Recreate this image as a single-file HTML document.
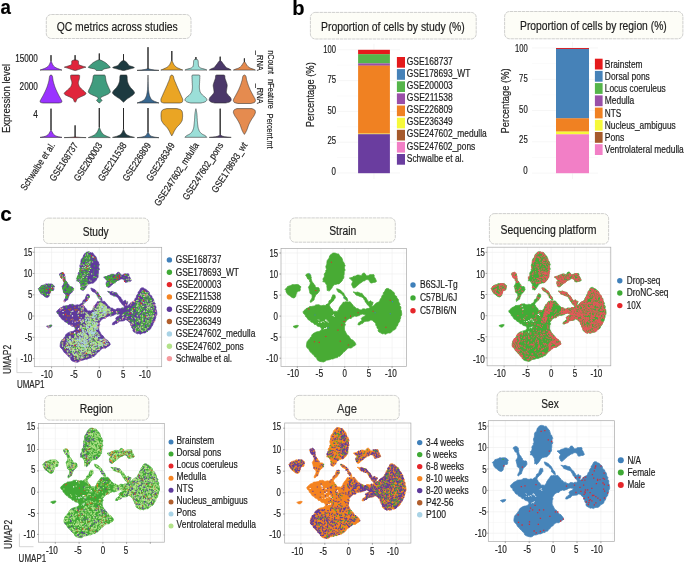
<!DOCTYPE html>
<html lang="en"><head><meta charset="utf-8"><title>Figure</title>
<style>
html,body{margin:0;padding:0;background:#fff;}
body{width:685px;height:563px;overflow:hidden;}
svg{display:block;font-family:'Liberation Sans', Arial, sans-serif;fill:#1a1a1a;}
svg text{stroke:#222;stroke-width:.18px;}
</style></head><body>
<svg width="685" height="563" viewBox="0 0 685 563">
<rect width="685" height="563" fill="#fff"/>
<text x="0.4" y="14.2" font-size="21" textLength="10.4" lengthAdjust="spacingAndGlyphs" font-weight="bold" fill="#000">a</text>
<text x="292.3" y="15.2" font-size="21" textLength="12.3" lengthAdjust="spacingAndGlyphs" font-weight="bold" fill="#000">b</text>
<text x="0.3" y="221" font-size="21" textLength="11.5" lengthAdjust="spacingAndGlyphs" font-weight="bold" fill="#000">c</text>
<rect x="46.3" y="14.5" width="144.7" height="24" rx="5" fill="#fdfdf7" stroke="#a8a8a8" stroke-width="0.55" stroke-dasharray="3.4 0.7"/>
<text x="117.2" y="31.1" font-size="12.3" text-anchor="middle" textLength="121" lengthAdjust="spacingAndGlyphs">QC metrics across studies</text>
<text x="10.1" y="98.5" font-size="11" text-anchor="middle" textLength="69" lengthAdjust="spacingAndGlyphs" transform="rotate(-90 10.1 98.5)">Expression level</text>
<text x="37.8" y="62" font-size="10" text-anchor="end" textLength="22.6" lengthAdjust="spacingAndGlyphs">15000</text>
<text x="37.8" y="90.1" font-size="10" text-anchor="end" textLength="18.2" lengthAdjust="spacingAndGlyphs">2000</text>
<text x="37.8" y="117.9" font-size="10" text-anchor="end" textLength="4.6" lengthAdjust="spacingAndGlyphs">4</text>
<g stroke="#262626" stroke-width="0.55" stroke-linejoin="round">
<path d="M51 55.2 51 55.6 51 56 51 56.4 51 56.8 51 57.2 51 57.6 51 58 51 58.4 51 58.8 51 59.2 51 59.6 51 60 50.9 60.4 50.9 60.8 50.7 61.2 50.6 61.6 50.4 62 50.3 62.4 50.1 62.8 49.9 63.2 49.8 63.6 49.6 64 49.4 64.4 49.2 64.8 49 65.2 48.7 65.6 48.4 66 48 66.4 47.5 66.8 47 67.2 46.3 67.6 45.5 68 44.6 68.4 43.5 68.8 42.5 69.2 41.4 69.6 40.3 70 40 70.1 62 70.1 61.7 70 60.6 69.6 59.5 69.2 58.5 68.8 57.4 68.4 56.5 68 55.7 67.6 55 67.2 54.5 66.8 54 66.4 53.6 66 53.3 65.6 53 65.2 52.8 64.8 52.6 64.4 52.4 64 52.2 63.6 52.1 63.2 51.9 62.8 51.7 62.4 51.6 62 51.4 61.6 51.3 61.2 51.1 60.8 51.1 60.4 51 60 51 59.6 51 59.2 51 58.8 51 58.4 51 58 51 57.6 51 57.2 51 56.8 51 56.4 51 56 51 55.6 51 55.2Z" fill="#9a33ff"/>
<path d="M51 55.2V60.8" stroke-width="0.95" fill="none"/>
<path d="M75.1 55.2 75.1 55.6 75.1 56 75.1 56.4 75.1 56.8 75.1 57.2 75.1 57.6 75.1 58 75.1 58.4 75.1 58.8 75.1 59.2 75.1 59.6 74 60 72.7 60.4 71.9 60.8 71.8 61.2 71.7 61.6 71.7 62 71.7 62.4 71.7 62.8 71.7 63.2 71.7 63.6 71.6 64 71.5 64.4 71 64.8 70.3 65.2 69.3 65.6 68.1 66 66.7 66.4 65.2 66.8 64.3 67.2 65.9 67.6 67.3 68 68.6 68.4 69.6 68.8 70.6 69.2 71.8 69.6 73.1 70 74.4 70.4 75.1 70.6 75.1 70.6 75.8 70.4 77.1 70 78.4 69.6 79.6 69.2 80.6 68.8 81.6 68.4 82.9 68 84.3 67.6 85.9 67.2 85 66.8 83.5 66.4 82.1 66 80.9 65.6 79.9 65.2 79.2 64.8 78.7 64.4 78.6 64 78.5 63.6 78.5 63.2 78.5 62.8 78.5 62.4 78.5 62 78.5 61.6 78.4 61.2 78.3 60.8 77.5 60.4 76.2 60 75.1 59.6 75.1 59.2 75.1 58.8 75.1 58.4 75.1 58 75.1 57.6 75.1 57.2 75.1 56.8 75.1 56.4 75.1 56 75.1 55.6 75.1 55.2Z" fill="#e0263c"/>
<path d="M75.1 55.2V60.4" stroke-width="0.95" fill="none"/>
<path d="M99.3 53.5 99.3 53.9 99.3 54.3 99.3 54.7 99.3 55.1 99.3 55.5 99.3 55.9 99.3 56.3 99.3 56.7 99.3 57.1 99.3 57.5 99.3 57.9 99.3 58.3 99.3 58.7 99.3 59.1 99.2 59.5 98.5 59.9 97.5 60.3 96.6 60.7 95.9 61.1 95.1 61.5 94.4 61.9 93.7 62.3 93.1 62.7 92.6 63.1 92.1 63.5 91.6 63.9 91.2 64.3 90.8 64.7 90.4 65.1 90 65.5 89.6 65.9 89.2 66.3 88.7 66.7 88.4 67.1 88.4 67.5 89.6 67.9 91.2 68.3 93.5 68.7 94.8 69.1 95.4 69.5 95.8 69.9 96.2 70.3 96.3 70.5 102.3 70.5 102.4 70.3 102.8 69.9 103.2 69.5 103.8 69.1 105.1 68.7 107.4 68.3 109 67.9 110.2 67.5 110.2 67.1 109.9 66.7 109.4 66.3 109 65.9 108.6 65.5 108.2 65.1 107.8 64.7 107.4 64.3 107 63.9 106.5 63.5 106 63.1 105.5 62.7 104.9 62.3 104.2 61.9 103.5 61.5 102.7 61.1 102 60.7 101.1 60.3 100.1 59.9 99.4 59.5 99.3 59.1 99.3 58.7 99.3 58.3 99.3 57.9 99.3 57.5 99.3 57.1 99.3 56.7 99.3 56.3 99.3 55.9 99.3 55.5 99.3 55.1 99.3 54.7 99.3 54.3 99.3 53.9 99.3 53.5Z" fill="#409c7e"/>
<path d="M99.3 53.5V60.1" stroke-width="0.95" fill="none"/>
<path d="M123.5 54.2 123.5 54.6 123.5 55 123.5 55.4 123.5 55.8 123.5 56.2 123.5 56.6 123.5 57 123.5 57.4 123.5 57.8 123.5 58.2 123.5 58.6 123.5 59 123.5 59.4 123.5 59.8 123.5 60.2 123.1 60.6 122.2 61 121.3 61.4 120.9 61.8 120.5 62.2 120.2 62.6 119.9 63 119.5 63.4 119.2 63.8 118.9 64.2 118.7 64.6 118.4 65 118 65.4 117.3 65.8 116 66.2 114.7 66.6 113.6 67 112.7 67.4 112.8 67.8 114.2 68.2 115.6 68.6 117.3 69 118.8 69.4 120.3 69.8 121.8 70.2 122.5 70.4 124.5 70.4 125.2 70.2 126.7 69.8 128.2 69.4 129.7 69 131.4 68.6 132.8 68.2 134.2 67.8 134.3 67.4 133.4 67 132.3 66.6 131 66.2 129.7 65.8 129 65.4 128.6 65 128.3 64.6 128.1 64.2 127.8 63.8 127.5 63.4 127.1 63 126.8 62.6 126.5 62.2 126.1 61.8 125.7 61.4 124.8 61 123.9 60.6 123.5 60.2 123.5 59.8 123.5 59.4 123.5 59 123.5 58.6 123.5 58.2 123.5 57.8 123.5 57.4 123.5 57 123.5 56.6 123.5 56.2 123.5 55.8 123.5 55.4 123.5 55 123.5 54.6 123.5 54.2Z" fill="#1d3a40"/>
<path d="M123.5 54.2V61" stroke-width="0.95" fill="none"/>
<path d="M148 47.2 148 47.6 148 48 148 48.4 148 48.8 148 49.2 148 49.6 148 50 148 50.4 148 50.8 148 51.2 148 51.6 148 52 148 52.4 148 52.8 148 53.2 148 53.6 148 54 148 54.4 148 54.8 148 55.2 148 55.6 148 56 148 56.4 148 56.8 148 57.2 148 57.6 148 58 148 58.4 148 58.8 148 59.2 148 59.6 148 60 148 60.4 148 60.8 148 61.2 148 61.6 148 62 148 62.4 148 62.8 148 63.2 148 63.6 148 64 148 64.4 148 64.8 148 65.2 148 65.6 148 66 148 66.4 148 66.8 148 67.2 148 67.6 148 68 147.9 68.4 147.2 68.8 146.1 69.2 144.2 69.6 141.4 70 137 70.4 159 70.4 154.6 70 151.8 69.6 149.9 69.2 148.8 68.8 148.1 68.4 148 68 148 67.6 148 67.2 148 66.8 148 66.4 148 66 148 65.6 148 65.2 148 64.8 148 64.4 148 64 148 63.6 148 63.2 148 62.8 148 62.4 148 62 148 61.6 148 61.2 148 60.8 148 60.4 148 60 148 59.6 148 59.2 148 58.8 148 58.4 148 58 148 57.6 148 57.2 148 56.8 148 56.4 148 56 148 55.6 148 55.2 148 54.8 148 54.4 148 54 148 53.6 148 53.2 148 52.8 148 52.4 148 52 148 51.6 148 51.2 148 50.8 148 50.4 148 50 148 49.6 148 49.2 148 48.8 148 48.4 148 48 148 47.6 148 47.2Z" fill="#38678f"/>
<path d="M148 47.2V69.1" stroke-width="0.95" fill="none"/>
<path d="M171.8 51 171.8 51.4 171.8 51.8 171.8 52.2 171.8 52.6 171.8 53 171.8 53.4 171.8 53.8 171.8 54.2 171.8 54.6 171.8 55 171.8 55.4 171.8 55.8 171.8 56.2 171.8 56.6 171.8 57 171.8 57.4 171.8 57.8 171.8 58.2 171.8 58.6 171.8 59 171.8 59.4 171.8 59.8 171.8 60.2 171.6 60.6 171.4 61 171.2 61.4 171 61.8 170.8 62.2 170.7 62.6 170.5 63 170.3 63.4 170.1 63.8 169.9 64.2 169.7 64.6 169.4 65 169.1 65.4 168.7 65.8 168.4 66.2 167.9 66.6 167.4 67 166.8 67.4 166.1 67.8 165.2 68.2 164.2 68.6 163.4 69 162.5 69.4 161.5 69.8 160.8 70.1 182.8 70.1 182.1 69.8 181.1 69.4 180.2 69 179.4 68.6 178.4 68.2 177.5 67.8 176.8 67.4 176.2 67 175.7 66.6 175.2 66.2 174.9 65.8 174.5 65.4 174.2 65 173.9 64.6 173.7 64.2 173.5 63.8 173.3 63.4 173.1 63 172.9 62.6 172.8 62.2 172.6 61.8 172.4 61.4 172.2 61 172 60.6 171.8 60.2 171.8 59.8 171.8 59.4 171.8 59 171.8 58.6 171.8 58.2 171.8 57.8 171.8 57.4 171.8 57 171.8 56.6 171.8 56.2 171.8 55.8 171.8 55.4 171.8 55 171.8 54.6 171.8 54.2 171.8 53.8 171.8 53.4 171.8 53 171.8 52.6 171.8 52.2 171.8 51.8 171.8 51.4 171.8 51Z" fill="#eaa524"/>
<path d="M171.8 51V60.8" stroke-width="0.95" fill="none"/>
<path d="M195.9 57 195.9 57.4 195.9 57.8 195.9 58.2 195.9 58.6 195.9 59 194.6 59.4 194.1 59.8 193.9 60.2 193.8 60.6 193.7 61 193.6 61.4 193.6 61.8 193.6 62.2 193.5 62.6 193.5 63 193.5 63.4 193.5 63.8 193.5 64.2 193.4 64.6 193.4 65 193.3 65.4 193.2 65.8 193.1 66.2 192.9 66.6 192.6 67 192.1 67.4 191.5 67.8 190.7 68.2 189.2 68.6 187.6 69 186.4 69.4 185.4 69.8 184.9 70.1 206.9 70.1 206.4 69.8 205.4 69.4 204.2 69 202.6 68.6 201.1 68.2 200.3 67.8 199.7 67.4 199.2 67 198.9 66.6 198.7 66.2 198.6 65.8 198.5 65.4 198.4 65 198.4 64.6 198.3 64.2 198.3 63.8 198.3 63.4 198.3 63 198.3 62.6 198.2 62.2 198.2 61.8 198.2 61.4 198.1 61 198 60.6 197.9 60.2 197.7 59.8 197.2 59.4 195.9 59 195.9 58.6 195.9 58.2 195.9 57.8 195.9 57.4 195.9 57Z" fill="#9bdfd8"/>
<path d="M195.9 57V59.8" stroke-width="0.95" fill="none"/>
<path d="M220.2 56.7 220.2 57.1 220.2 57.5 220.2 57.9 220.2 58.3 220.2 58.7 220.2 59.1 220.2 59.5 220.2 59.9 220.1 60.3 219.7 60.7 219.2 61.1 218.8 61.5 218.5 61.9 218.2 62.3 217.9 62.7 217.6 63.1 217.4 63.5 217 63.9 216.7 64.3 216.4 64.7 216.1 65.1 215.8 65.5 215.4 65.9 215.1 66.3 214.9 66.7 214.6 67.1 214.2 67.5 213.5 67.9 212.4 68.3 211.4 68.7 210.7 69.1 210 69.5 209.4 69.9 209.2 70.1 231.2 70.1 231 69.9 230.4 69.5 229.7 69.1 229 68.7 228 68.3 226.9 67.9 226.2 67.5 225.8 67.1 225.5 66.7 225.3 66.3 225 65.9 224.6 65.5 224.3 65.1 224 64.7 223.7 64.3 223.4 63.9 223 63.5 222.8 63.1 222.5 62.7 222.2 62.3 221.9 61.9 221.6 61.5 221.2 61.1 220.7 60.7 220.3 60.3 220.2 59.9 220.2 59.5 220.2 59.1 220.2 58.7 220.2 58.3 220.2 57.9 220.2 57.5 220.2 57.1 220.2 56.7Z" fill="#4b3869"/>
<path d="M220.2 56.7V60.8" stroke-width="0.95" fill="none"/>
<path d="M244.4 58.4 244.4 58.8 244.4 59.2 244.4 59.6 244.4 60 244.4 60.4 244.4 60.8 244.4 61.2 244.3 61.6 244 62 243.7 62.4 243.4 62.8 243.2 63.2 242.9 63.6 242.7 64 242.4 64.4 242.2 64.8 241.9 65.2 241.6 65.6 241.3 66 240.9 66.4 240.4 66.8 240 67.2 239.4 67.6 238.7 68 237.7 68.4 236.4 68.8 235.4 69.2 234.5 69.6 233.6 70 233.4 70.1 255.4 70.1 255.2 70 254.3 69.6 253.4 69.2 252.4 68.8 251.1 68.4 250.1 68 249.4 67.6 248.8 67.2 248.4 66.8 247.9 66.4 247.5 66 247.2 65.6 246.9 65.2 246.6 64.8 246.4 64.4 246.1 64 245.9 63.6 245.6 63.2 245.4 62.8 245.1 62.4 244.8 62 244.5 61.6 244.4 61.2 244.4 60.8 244.4 60.4 244.4 60 244.4 59.6 244.4 59.2 244.4 58.8 244.4 58.4Z" fill="#e58b4f"/>
<path d="M244.4 58.4V62.1" stroke-width="0.95" fill="none"/>
<path d="M51 75 50 75.4 49.8 75.8 49.6 76.2 49.5 76.6 49.4 77 49.4 77.4 49.3 77.8 49.3 78.2 49.2 78.6 49.2 79 49.1 79.4 49 79.8 49 80.2 48.9 80.6 48.8 81 48.7 81.4 48.6 81.8 48.5 82.2 48.4 82.6 48.3 83 48.2 83.4 48.1 83.8 47.9 84.2 47.8 84.6 47.7 85 47.6 85.4 47.4 85.8 47.3 86.2 47.2 86.6 47 87 46.9 87.4 46.7 87.8 46.5 88.2 46.4 88.6 46.2 89 46.1 89.4 45.9 89.8 45.7 90.2 45.5 90.6 45.4 91 45.2 91.4 45 91.8 44.8 92.2 44.6 92.6 44.4 93 44.2 93.4 44 93.8 43.8 94.2 43.6 94.6 43.4 95 43.2 95.4 43 95.8 42.8 96.2 42.5 96.6 42.3 97 42.1 97.4 41.8 97.8 41.6 98.2 41.4 98.6 41.2 99 41 99.4 40.7 99.8 40.5 100.2 40.3 100.6 40.1 101 40.1 101.4 40.2 101.8 40.3 102.2 40.9 102.6 43 103 59 103 61.1 102.6 61.7 102.2 61.8 101.8 61.9 101.4 61.9 101 61.7 100.6 61.5 100.2 61.3 99.8 61 99.4 60.8 99 60.6 98.6 60.4 98.2 60.2 97.8 59.9 97.4 59.7 97 59.5 96.6 59.2 96.2 59 95.8 58.8 95.4 58.6 95 58.4 94.6 58.2 94.2 58 93.8 57.8 93.4 57.6 93 57.4 92.6 57.2 92.2 57 91.8 56.8 91.4 56.6 91 56.5 90.6 56.3 90.2 56.1 89.8 55.9 89.4 55.8 89 55.6 88.6 55.5 88.2 55.3 87.8 55.1 87.4 55 87 54.8 86.6 54.7 86.2 54.6 85.8 54.4 85.4 54.3 85 54.2 84.6 54.1 84.2 53.9 83.8 53.8 83.4 53.7 83 53.6 82.6 53.5 82.2 53.4 81.8 53.3 81.4 53.2 81 53.1 80.6 53 80.2 53 79.8 52.9 79.4 52.8 79 52.8 78.6 52.7 78.2 52.7 77.8 52.6 77.4 52.6 77 52.5 76.6 52.4 76.2 52.2 75.8 52 75.4 51 75Z" fill="#9a33ff"/>
<path d="M71.6 75 70.6 75.4 70.5 75.8 70.5 76.2 70.6 76.6 70.6 77 70.6 77.4 70.7 77.8 70.7 78.2 70.8 78.6 70.9 79 71 79.4 71.1 79.8 71.3 80.2 71.4 80.6 71.6 81 71.7 81.4 71.8 81.8 71.8 82.2 71.9 82.6 71.9 83 71.9 83.4 71.8 83.8 71.7 84.2 71.6 84.6 71.5 85 71.3 85.4 71.2 85.8 71 86.2 70.8 86.6 70.5 87 70.2 87.4 69.8 87.8 69.4 88.2 69 88.6 68.6 89 68.2 89.4 67.7 89.8 67.3 90.2 66.8 90.6 66.3 91 65.9 91.4 65.5 91.8 65 92.2 64.6 92.6 64.3 93 64.2 93.4 64.3 93.8 64.6 94.2 64.9 94.6 65.5 95 66.3 95.4 67.2 95.8 68 96.2 69 96.6 69.9 97 70.7 97.4 71.5 97.8 72.2 98.2 72.7 98.6 73.1 99 73.4 99.4 73.6 99.8 73.7 100.2 73.9 100.6 74 101 74.2 101.4 74.5 101.8 74.9 102.2 75.1 102.3 75.1 102.3 75.3 102.2 75.7 101.8 76 101.4 76.2 101 76.3 100.6 76.5 100.2 76.6 99.8 76.8 99.4 77.1 99 77.5 98.6 78 98.2 78.7 97.8 79.5 97.4 80.3 97 81.2 96.6 82.2 96.2 83 95.8 83.9 95.4 84.7 95 85.3 94.6 85.6 94.2 85.9 93.8 86 93.4 85.9 93 85.6 92.6 85.2 92.2 84.7 91.8 84.3 91.4 83.9 91 83.4 90.6 82.9 90.2 82.5 89.8 82 89.4 81.6 89 81.2 88.6 80.8 88.2 80.4 87.8 80 87.4 79.7 87 79.4 86.6 79.2 86.2 79 85.8 78.9 85.4 78.7 85 78.6 84.6 78.5 84.2 78.4 83.8 78.3 83.4 78.3 83 78.3 82.6 78.4 82.2 78.4 81.8 78.5 81.4 78.6 81 78.8 80.6 78.9 80.2 79.1 79.8 79.2 79.4 79.3 79 79.4 78.6 79.5 78.2 79.5 77.8 79.6 77.4 79.6 77 79.6 76.6 79.7 76.2 79.7 75.8 79.6 75.4 78.6 75Z" fill="#e0263c"/>
<path d="M94.3 75 93.6 75.4 93.3 75.8 93.2 76.2 93.2 76.6 93.1 77 93.1 77.4 93 77.8 93 78.2 92.9 78.6 92.9 79 92.8 79.4 92.7 79.8 92.7 80.2 92.6 80.6 92.5 81 92.4 81.4 92.3 81.8 92.2 82.2 92 82.6 91.9 83 91.7 83.4 91.6 83.8 91.4 84.2 91.3 84.6 91.1 85 90.9 85.4 90.7 85.8 90.6 86.2 90.4 86.6 90.2 87 90 87.4 89.9 87.8 89.7 88.2 89.5 88.6 89.2 89 89 89.4 88.9 89.8 88.7 90.2 88.6 90.6 88.4 91 88.3 91.4 88.3 91.8 88.4 92.2 88.7 92.6 89.1 93 89.5 93.4 90.1 93.8 90.8 94.2 91.6 94.6 92.5 95 93.4 95.4 94.4 95.8 95.3 96.2 96.1 96.6 97 97 97.6 97.4 97.9 97.8 98.1 98.2 98 98.6 97.7 99 97.4 99.4 97 99.8 96.7 100.2 96.6 100.6 97 101 97.4 101.4 97.9 101.8 98.3 102.2 98.7 102.6 99.1 103 99.3 103.2 99.3 103.2 99.5 103 99.9 102.6 100.3 102.2 100.7 101.8 101.2 101.4 101.6 101 102 100.6 101.9 100.2 101.6 99.8 101.2 99.4 100.9 99 100.6 98.6 100.5 98.2 100.7 97.8 101 97.4 101.6 97 102.5 96.6 103.3 96.2 104.2 95.8 105.2 95.4 106.1 95 107 94.6 107.8 94.2 108.5 93.8 109.1 93.4 109.5 93 109.9 92.6 110.2 92.2 110.3 91.8 110.3 91.4 110.2 91 110 90.6 109.9 90.2 109.7 89.8 109.6 89.4 109.4 89 109.1 88.6 108.9 88.2 108.7 87.8 108.6 87.4 108.4 87 108.2 86.6 108 86.2 107.9 85.8 107.7 85.4 107.5 85 107.3 84.6 107.2 84.2 107 83.8 106.9 83.4 106.7 83 106.6 82.6 106.4 82.2 106.3 81.8 106.2 81.4 106.1 81 106 80.6 105.9 80.2 105.9 79.8 105.8 79.4 105.7 79 105.7 78.6 105.6 78.2 105.6 77.8 105.5 77.4 105.5 77 105.4 76.6 105.4 76.2 105.3 75.8 105 75.4 104.3 75Z" fill="#409c7e"/>
<path d="M120.7 75 120.1 75.4 120 75.8 119.9 76.2 119.9 76.6 119.8 77 119.8 77.4 119.8 77.8 119.8 78.2 119.8 78.6 119.8 79 119.7 79.4 119.7 79.8 119.7 80.2 119.6 80.6 119.5 81 119.5 81.4 119.4 81.8 119.3 82.2 119.1 82.6 119 83 118.8 83.4 118.7 83.8 118.5 84.2 118.3 84.6 118.1 85 117.9 85.4 117.7 85.8 117.4 86.2 117.1 86.6 116.9 87 116.6 87.4 116.3 87.8 115.9 88.2 115.5 88.6 115.1 89 114.7 89.4 114.3 89.8 113.9 90.2 113.6 90.6 113.4 91 113.1 91.4 112.8 91.8 112.6 92.2 112.5 92.6 112.5 93 112.7 93.4 113 93.8 113.3 94.2 113.7 94.6 114.1 95 114.6 95.4 115.2 95.8 115.8 96.2 116.3 96.6 116.9 97 117.6 97.4 118.2 97.8 118.8 98.2 119.4 98.6 120 99 120.5 99.4 120.9 99.8 121.3 100.2 121.7 100.6 122.1 101 122.6 101.4 123 101.8 123.5 102.2 123.5 102.2 124 101.8 124.4 101.4 124.9 101 125.3 100.6 125.7 100.2 126.1 99.8 126.5 99.4 127 99 127.6 98.6 128.2 98.2 128.8 97.8 129.4 97.4 130.1 97 130.7 96.6 131.2 96.2 131.8 95.8 132.4 95.4 132.9 95 133.3 94.6 133.7 94.2 134 93.8 134.3 93.4 134.5 93 134.5 92.6 134.4 92.2 134.2 91.8 133.9 91.4 133.6 91 133.4 90.6 133.1 90.2 132.7 89.8 132.3 89.4 131.9 89 131.5 88.6 131.1 88.2 130.7 87.8 130.4 87.4 130.1 87 129.9 86.6 129.6 86.2 129.3 85.8 129.1 85.4 128.9 85 128.7 84.6 128.5 84.2 128.3 83.8 128.2 83.4 128 83 127.9 82.6 127.7 82.2 127.6 81.8 127.5 81.4 127.5 81 127.4 80.6 127.3 80.2 127.3 79.8 127.3 79.4 127.2 79 127.2 78.6 127.2 78.2 127.2 77.8 127.2 77.4 127.2 77 127.1 76.6 127.1 76.2 127 75.8 126.9 75.4 126.3 75Z" fill="#1d3a40"/>
<path d="M148 75 148 75.4 148 75.8 148 76.2 148 76.6 148 77 148 77.4 147.9 77.8 147.9 78.2 147.9 78.6 147.9 79 147.9 79.4 147.9 79.8 147.9 80.2 147.9 80.6 147.9 81 147.9 81.4 147.9 81.8 147.8 82.2 147.8 82.6 147.8 83 147.8 83.4 147.8 83.8 147.8 84.2 147.7 84.6 147.7 85 147.7 85.4 147.7 85.8 147.7 86.2 147.7 86.6 147.6 87 147.6 87.4 147.6 87.8 147.6 88.2 147.5 88.6 147.5 89 147.5 89.4 147.5 89.8 147.4 90.2 147.4 90.6 147.3 91 147.3 91.4 147.2 91.8 147.2 92.2 147.1 92.6 147 93 146.9 93.4 146.9 93.8 146.8 94.2 146.7 94.6 146.6 95 146.5 95.4 146.4 95.8 146.2 96.2 146.1 96.6 145.9 97 145.7 97.4 145.5 97.8 145.3 98.2 145.1 98.6 144.8 99 144.5 99.4 144.1 99.8 143.6 100.2 143 100.6 142.2 101 141.3 101.4 140.2 101.8 139.2 102.2 138.2 102.6 137 103 159 103 157.8 102.6 156.8 102.2 155.8 101.8 154.7 101.4 153.8 101 153 100.6 152.4 100.2 151.9 99.8 151.5 99.4 151.2 99 150.9 98.6 150.7 98.2 150.5 97.8 150.3 97.4 150.1 97 149.9 96.6 149.8 96.2 149.6 95.8 149.5 95.4 149.4 95 149.3 94.6 149.2 94.2 149.1 93.8 149.1 93.4 149 93 148.9 92.6 148.8 92.2 148.8 91.8 148.7 91.4 148.7 91 148.6 90.6 148.6 90.2 148.5 89.8 148.5 89.4 148.5 89 148.5 88.6 148.4 88.2 148.4 87.8 148.4 87.4 148.4 87 148.3 86.6 148.3 86.2 148.3 85.8 148.3 85.4 148.3 85 148.3 84.6 148.2 84.2 148.2 83.8 148.2 83.4 148.2 83 148.2 82.6 148.2 82.2 148.1 81.8 148.1 81.4 148.1 81 148.1 80.6 148.1 80.2 148.1 79.8 148.1 79.4 148.1 79 148.1 78.6 148.1 78.2 148.1 77.8 148 77.4 148 77 148 76.6 148 76.2 148 75.8 148 75.4 148 75Z" fill="#38678f"/>
<path d="M171.8 75 170.9 75.4 170.5 75.8 170.3 76.2 170.1 76.6 170 77 169.9 77.4 169.9 77.8 169.8 78.2 169.7 78.6 169.6 79 169.4 79.4 169.3 79.8 169.1 80.2 169 80.6 168.8 81 168.7 81.4 168.5 81.8 168.3 82.2 168.1 82.6 168 83 167.8 83.4 167.6 83.8 167.5 84.2 167.3 84.6 167.1 85 167 85.4 166.8 85.8 166.6 86.2 166.4 86.6 166.3 87 166.1 87.4 165.9 87.8 165.7 88.2 165.6 88.6 165.4 89 165.2 89.4 165 89.8 164.8 90.2 164.7 90.6 164.5 91 164.3 91.4 164.1 91.8 163.9 92.2 163.8 92.6 163.6 93 163.4 93.4 163.2 93.8 163.1 94.2 162.9 94.6 162.7 95 162.5 95.4 162.4 95.8 162.2 96.2 162 96.6 161.8 97 161.6 97.4 161.5 97.8 161.3 98.2 161.1 98.6 161 99 160.9 99.4 160.9 99.8 160.9 100.2 160.9 100.6 161 101 161.1 101.4 161.2 101.8 161.4 102.2 162.3 102.6 163.8 103 179.8 103 181.3 102.6 182.2 102.2 182.4 101.8 182.5 101.4 182.6 101 182.7 100.6 182.7 100.2 182.7 99.8 182.7 99.4 182.6 99 182.5 98.6 182.3 98.2 182.1 97.8 182 97.4 181.8 97 181.6 96.6 181.4 96.2 181.2 95.8 181.1 95.4 180.9 95 180.7 94.6 180.5 94.2 180.4 93.8 180.2 93.4 180 93 179.8 92.6 179.7 92.2 179.5 91.8 179.3 91.4 179.1 91 178.9 90.6 178.8 90.2 178.6 89.8 178.4 89.4 178.2 89 178 88.6 177.9 88.2 177.7 87.8 177.5 87.4 177.3 87 177.2 86.6 177 86.2 176.8 85.8 176.6 85.4 176.5 85 176.3 84.6 176.1 84.2 176 83.8 175.8 83.4 175.6 83 175.5 82.6 175.3 82.2 175.1 81.8 174.9 81.4 174.8 81 174.6 80.6 174.5 80.2 174.3 79.8 174.2 79.4 174 79 173.9 78.6 173.8 78.2 173.7 77.8 173.7 77.4 173.6 77 173.5 76.6 173.3 76.2 173.1 75.8 172.7 75.4 171.8 75Z" fill="#eaa524"/>
<path d="M192.9 75 192 75.4 191.9 75.8 191.9 76.2 191.9 76.6 191.9 77 192 77.4 192 77.8 192 78.2 192 78.6 192.1 79 192.1 79.4 192.1 79.8 192.1 80.2 192.1 80.6 192.2 81 192.2 81.4 192.2 81.8 192.2 82.2 192.2 82.6 192.3 83 192.3 83.4 192.3 83.8 192.3 84.2 192.3 84.6 192.4 85 192.4 85.4 192.4 85.8 192.4 86.2 192.4 86.6 192.4 87 192.4 87.4 192.4 87.8 192.4 88.2 192.3 88.6 192.3 89 192.2 89.4 192.2 89.8 192.1 90.2 192 90.6 191.9 91 191.8 91.4 191.7 91.8 191.5 92.2 191.3 92.6 191 93 190.7 93.4 190.4 93.8 190.1 94.2 189.7 94.6 189.4 95 189 95.4 188.5 95.8 187.9 96.2 187.4 96.6 186.8 97 186.4 97.4 186 97.8 185.7 98.2 185.4 98.6 185.1 99 185 99.4 184.9 99.8 185 100.2 185.2 100.6 185.6 101 186 101.4 186.6 101.8 187.6 102.2 189.1 102.6 190.9 103 200.9 103 202.7 102.6 204.2 102.2 205.2 101.8 205.8 101.4 206.2 101 206.6 100.6 206.8 100.2 206.9 99.8 206.8 99.4 206.7 99 206.4 98.6 206.1 98.2 205.8 97.8 205.4 97.4 205 97 204.4 96.6 203.9 96.2 203.3 95.8 202.8 95.4 202.4 95 202.1 94.6 201.7 94.2 201.4 93.8 201.1 93.4 200.8 93 200.5 92.6 200.3 92.2 200.1 91.8 200 91.4 199.9 91 199.8 90.6 199.7 90.2 199.6 89.8 199.6 89.4 199.5 89 199.5 88.6 199.4 88.2 199.4 87.8 199.4 87.4 199.4 87 199.4 86.6 199.4 86.2 199.4 85.8 199.4 85.4 199.4 85 199.5 84.6 199.5 84.2 199.5 83.8 199.5 83.4 199.5 83 199.6 82.6 199.6 82.2 199.6 81.8 199.6 81.4 199.6 81 199.7 80.6 199.7 80.2 199.7 79.8 199.7 79.4 199.7 79 199.8 78.6 199.8 78.2 199.8 77.8 199.8 77.4 199.9 77 199.9 76.6 199.9 76.2 199.9 75.8 199.8 75.4 198.9 75Z" fill="#9bdfd8"/>
<path d="M216.7 75 215.7 75.4 215.6 75.8 215.5 76.2 215.5 76.6 215.5 77 215.5 77.4 215.4 77.8 215.4 78.2 215.3 78.6 215.2 79 215 79.4 214.9 79.8 214.7 80.2 214.6 80.6 214.4 81 214.3 81.4 214.2 81.8 214 82.2 213.9 82.6 213.8 83 213.6 83.4 213.5 83.8 213.4 84.2 213.3 84.6 213.2 85 213.2 85.4 213.2 85.8 213.2 86.2 213.3 86.6 213.3 87 213.4 87.4 213.5 87.8 213.5 88.2 213.6 88.6 213.7 89 213.7 89.4 213.8 89.8 213.8 90.2 213.9 90.6 213.9 91 214 91.4 214 91.8 214 92.2 213.9 92.6 213.8 93 213.5 93.4 213.2 93.8 212.9 94.2 212.5 94.6 212.2 95 211.9 95.4 211.5 95.8 211.1 96.2 210.7 96.6 210.3 97 210 97.4 209.7 97.8 209.6 98.2 209.4 98.6 209.3 99 209.2 99.4 209.2 99.8 209.3 100.2 209.4 100.6 209.7 101 210.1 101.4 210.5 101.8 211.5 102.2 213 102.6 214.7 103 225.7 103 227.4 102.6 228.9 102.2 229.9 101.8 230.3 101.4 230.7 101 231 100.6 231.1 100.2 231.2 99.8 231.2 99.4 231.1 99 231 98.6 230.8 98.2 230.7 97.8 230.4 97.4 230.1 97 229.7 96.6 229.3 96.2 228.9 95.8 228.5 95.4 228.2 95 227.9 94.6 227.5 94.2 227.2 93.8 226.9 93.4 226.6 93 226.5 92.6 226.4 92.2 226.4 91.8 226.4 91.4 226.5 91 226.5 90.6 226.6 90.2 226.6 89.8 226.7 89.4 226.7 89 226.8 88.6 226.9 88.2 226.9 87.8 227 87.4 227.1 87 227.1 86.6 227.2 86.2 227.2 85.8 227.2 85.4 227.2 85 227.1 84.6 227 84.2 226.9 83.8 226.8 83.4 226.6 83 226.5 82.6 226.4 82.2 226.2 81.8 226.1 81.4 226 81 225.8 80.6 225.7 80.2 225.5 79.8 225.4 79.4 225.2 79 225.1 78.6 225 78.2 225 77.8 224.9 77.4 224.9 77 224.9 76.6 224.9 76.2 224.8 75.8 224.7 75.4 223.7 75Z" fill="#4b3869"/>
<path d="M244.4 75 243.5 75.4 243.1 75.8 242.9 76.2 242.8 76.6 242.7 77 242.6 77.4 242.5 77.8 242.5 78.2 242.4 78.6 242.4 79 242.3 79.4 242.2 79.8 242.1 80.2 242 80.6 241.9 81 241.7 81.4 241.6 81.8 241.5 82.2 241.4 82.6 241.3 83 241.1 83.4 241 83.8 240.9 84.2 240.7 84.6 240.6 85 240.4 85.4 240.3 85.8 240.1 86.2 240 86.6 239.8 87 239.6 87.4 239.5 87.8 239.3 88.2 239.1 88.6 238.9 89 238.8 89.4 238.6 89.8 238.4 90.2 238.2 90.6 238 91 237.8 91.4 237.6 91.8 237.4 92.2 237.2 92.6 237 93 236.8 93.4 236.5 93.8 236.3 94.2 236.1 94.6 235.9 95 235.7 95.4 235.5 95.8 235.2 96.2 235 96.6 234.9 97 234.6 97.4 234.4 97.8 234.2 98.2 233.9 98.6 233.7 99 233.6 99.4 233.5 99.8 233.4 100.2 233.4 100.6 233.5 101 233.6 101.4 233.8 101.8 234 102.2 234.6 102.6 235.9 103 237.5 103.4 237.9 103.5 250.9 103.5 251.3 103.4 252.9 103 254.2 102.6 254.8 102.2 255 101.8 255.2 101.4 255.3 101 255.4 100.6 255.4 100.2 255.3 99.8 255.2 99.4 255.1 99 254.9 98.6 254.6 98.2 254.4 97.8 254.2 97.4 253.9 97 253.8 96.6 253.6 96.2 253.3 95.8 253.1 95.4 252.9 95 252.7 94.6 252.5 94.2 252.3 93.8 252 93.4 251.8 93 251.6 92.6 251.4 92.2 251.2 91.8 251 91.4 250.8 91 250.6 90.6 250.4 90.2 250.2 89.8 250 89.4 249.9 89 249.7 88.6 249.5 88.2 249.3 87.8 249.2 87.4 249 87 248.8 86.6 248.7 86.2 248.5 85.8 248.4 85.4 248.2 85 248.1 84.6 247.9 84.2 247.8 83.8 247.7 83.4 247.5 83 247.4 82.6 247.3 82.2 247.2 81.8 247.1 81.4 246.9 81 246.8 80.6 246.7 80.2 246.6 79.8 246.5 79.4 246.4 79 246.4 78.6 246.3 78.2 246.3 77.8 246.2 77.4 246.1 77 246 76.6 245.9 76.2 245.7 75.8 245.3 75.4 244.4 75Z" fill="#e58b4f"/>
<path d="M51 108.7 51 109.1 51 109.5 51 109.9 51 110.3 51 110.7 51 111.1 51 111.5 51 111.9 51 112.3 51 112.7 51 113.1 51 113.5 51 113.9 51 114.3 51 114.7 51 115.1 51 115.5 51 115.9 51 116.3 51 116.7 51 117.1 51 117.5 51 117.9 51 118.3 51 118.7 51 119.1 51 119.5 51 119.9 51 120.3 51 120.7 51 121.1 51 121.5 51 121.9 51 122.3 51 122.7 51 123.1 51 123.5 51 123.9 51 124.3 51 124.7 51 125.1 51 125.5 51 125.9 51 126.3 51 126.7 51 127.1 51 127.5 51 127.9 51 128.3 51 128.7 51 129.1 50.9 129.5 50.9 129.9 50.7 130.3 50.5 130.7 50.3 131.1 50.1 131.5 49.9 131.9 49.6 132.3 49.4 132.7 49.2 133.1 49 133.5 48.7 133.9 48.4 134.3 48 134.7 47.5 135.1 46.9 135.5 46.2 135.9 45.2 136.3 43.7 136.7 41.7 137.1 40 137.4 62 137.4 60.3 137.1 58.3 136.7 56.8 136.3 55.8 135.9 55.1 135.5 54.5 135.1 54 134.7 53.6 134.3 53.3 133.9 53 133.5 52.8 133.1 52.6 132.7 52.4 132.3 52.1 131.9 51.9 131.5 51.7 131.1 51.5 130.7 51.3 130.3 51.1 129.9 51.1 129.5 51 129.1 51 128.7 51 128.3 51 127.9 51 127.5 51 127.1 51 126.7 51 126.3 51 125.9 51 125.5 51 125.1 51 124.7 51 124.3 51 123.9 51 123.5 51 123.1 51 122.7 51 122.3 51 121.9 51 121.5 51 121.1 51 120.7 51 120.3 51 119.9 51 119.5 51 119.1 51 118.7 51 118.3 51 117.9 51 117.5 51 117.1 51 116.7 51 116.3 51 115.9 51 115.5 51 115.1 51 114.7 51 114.3 51 113.9 51 113.5 51 113.1 51 112.7 51 112.3 51 111.9 51 111.5 51 111.1 51 110.7 51 110.3 51 109.9 51 109.5 51 109.1 51 108.7Z" fill="#9a33ff"/>
<path d="M51 108.7V130" stroke-width="0.95" fill="none"/>
<path d="M75.1 125.4 75.1 125.8 75.1 126.2 75.1 126.6 75.1 127 75.1 127.4 75.1 127.8 75.1 128.2 75.1 128.6 75.1 129 75.1 129.4 75.1 129.8 75.1 130.2 75.1 130.6 75.1 131 75.1 131.4 75.1 131.8 75.1 132.2 75.1 132.6 75.1 133 75.1 133.4 75.1 133.8 75.1 134.2 75.1 134.6 75.1 135 75.1 135.4 75.1 135.8 75.1 136.2 75.1 136.6 74.1 137 69.1 137.4 64.1 137.6 86.1 137.6 81.1 137.4 76.1 137 75.1 136.6 75.1 136.2 75.1 135.8 75.1 135.4 75.1 135 75.1 134.6 75.1 134.2 75.1 133.8 75.1 133.4 75.1 133 75.1 132.6 75.1 132.2 75.1 131.8 75.1 131.4 75.1 131 75.1 130.6 75.1 130.2 75.1 129.8 75.1 129.4 75.1 129 75.1 128.6 75.1 128.2 75.1 127.8 75.1 127.4 75.1 127 75.1 126.6 75.1 126.2 75.1 125.8 75.1 125.4Z" fill="#e0263c"/>
<path d="M75.1 125.4V137.4" stroke-width="0.95" fill="none"/>
<path d="M99.3 108 99.3 108.4 99.3 108.8 99.3 109.2 99.3 109.6 99.3 110 99.3 110.4 99.3 110.8 99.3 111.2 99.3 111.6 99.3 112 99.3 112.4 99.3 112.8 99.3 113.2 99.3 113.6 99.3 114 99.3 114.4 99.3 114.8 99.3 115.2 99.3 115.6 99.3 116 99.3 116.4 99.3 116.8 99.3 117.2 99.3 117.6 99.3 118 99.3 118.4 99.3 118.8 99.3 119.2 99.3 119.6 99.3 120 99.3 120.4 99.3 120.8 99.3 121.2 99.3 121.6 99.3 122 99.3 122.4 99.3 122.8 99.3 123.2 99.3 123.6 99.3 124 99.3 124.4 99.3 124.8 99.3 125.2 99.3 125.6 99.3 126 99.3 126.4 99.2 126.8 99.2 127.2 99.1 127.6 98.9 128 98.8 128.4 98.6 128.8 98.5 129.2 98.3 129.6 98.1 130 98 130.4 97.8 130.8 97.6 131.2 97.4 131.6 97.2 132 96.9 132.4 96.6 132.8 96.3 133.2 96 133.6 95.6 134 95.1 134.4 94.6 134.8 94 135.2 93.2 135.6 92.3 136 91.3 136.4 90.3 136.8 89.3 137.2 88.3 137.6 110.3 137.6 109.3 137.2 108.3 136.8 107.3 136.4 106.3 136 105.4 135.6 104.6 135.2 104 134.8 103.5 134.4 103 134 102.6 133.6 102.3 133.2 102 132.8 101.7 132.4 101.4 132 101.2 131.6 101 131.2 100.8 130.8 100.6 130.4 100.5 130 100.3 129.6 100.1 129.2 100 128.8 99.8 128.4 99.7 128 99.5 127.6 99.4 127.2 99.4 126.8 99.3 126.4 99.3 126 99.3 125.6 99.3 125.2 99.3 124.8 99.3 124.4 99.3 124 99.3 123.6 99.3 123.2 99.3 122.8 99.3 122.4 99.3 122 99.3 121.6 99.3 121.2 99.3 120.8 99.3 120.4 99.3 120 99.3 119.6 99.3 119.2 99.3 118.8 99.3 118.4 99.3 118 99.3 117.6 99.3 117.2 99.3 116.8 99.3 116.4 99.3 116 99.3 115.6 99.3 115.2 99.3 114.8 99.3 114.4 99.3 114 99.3 113.6 99.3 113.2 99.3 112.8 99.3 112.4 99.3 112 99.3 111.6 99.3 111.2 99.3 110.8 99.3 110.4 99.3 110 99.3 109.6 99.3 109.2 99.3 108.8 99.3 108.4 99.3 108Z" fill="#409c7e"/>
<path d="M99.3 108V127.1" stroke-width="0.95" fill="none"/>
<path d="M123.5 108 123.5 108.4 123.5 108.8 123.5 109.2 123.5 109.6 123.5 110 123.5 110.4 123.5 110.8 123.5 111.2 123.5 111.6 123.5 112 123.5 112.4 123.5 112.8 123.5 113.2 123.5 113.6 123.5 114 123.5 114.4 123.5 114.8 123.5 115.2 123.5 115.6 123.5 116 123.5 116.4 123.5 116.8 123.5 117.2 123.5 117.6 123.5 118 123.5 118.4 123.5 118.8 123.5 119.2 123.5 119.6 123.5 120 123.5 120.4 123.5 120.8 123.5 121.2 123.5 121.6 123.5 122 123.5 122.4 123.5 122.8 123.5 123.2 123.5 123.6 123.5 124 123.5 124.4 123.5 124.8 123.5 125.2 123.5 125.6 123.5 126 123.5 126.4 123.5 126.8 123.5 127.2 123.5 127.6 123.5 128 123.5 128.4 123.4 128.8 123.4 129.2 123.3 129.6 123.1 130 123 130.4 122.8 130.8 122.7 131.2 122.5 131.6 122.3 132 122.1 132.4 121.9 132.8 121.6 133.2 121.3 133.6 121 134 120.6 134.4 120.1 134.8 119.4 135.2 118.5 135.6 117.5 136 116.4 136.4 115 136.8 113.4 137.2 112.5 137.4 134.5 137.4 133.6 137.2 132 136.8 130.6 136.4 129.5 136 128.5 135.6 127.6 135.2 126.9 134.8 126.4 134.4 126 134 125.7 133.6 125.4 133.2 125.1 132.8 124.9 132.4 124.7 132 124.5 131.6 124.3 131.2 124.2 130.8 124 130.4 123.9 130 123.7 129.6 123.6 129.2 123.6 128.8 123.5 128.4 123.5 128 123.5 127.6 123.5 127.2 123.5 126.8 123.5 126.4 123.5 126 123.5 125.6 123.5 125.2 123.5 124.8 123.5 124.4 123.5 124 123.5 123.6 123.5 123.2 123.5 122.8 123.5 122.4 123.5 122 123.5 121.6 123.5 121.2 123.5 120.8 123.5 120.4 123.5 120 123.5 119.6 123.5 119.2 123.5 118.8 123.5 118.4 123.5 118 123.5 117.6 123.5 117.2 123.5 116.8 123.5 116.4 123.5 116 123.5 115.6 123.5 115.2 123.5 114.8 123.5 114.4 123.5 114 123.5 113.6 123.5 113.2 123.5 112.8 123.5 112.4 123.5 112 123.5 111.6 123.5 111.2 123.5 110.8 123.5 110.4 123.5 110 123.5 109.6 123.5 109.2 123.5 108.8 123.5 108.4 123.5 108Z" fill="#1d3a40"/>
<path d="M123.5 108V129" stroke-width="0.95" fill="none"/>
<path d="M148 108 148 108.4 148 108.8 148 109.2 148 109.6 148 110 148 110.4 148 110.8 148 111.2 148 111.6 148 112 148 112.4 148 112.8 148 113.2 148 113.6 148 114 148 114.4 148 114.8 148 115.2 148 115.6 148 116 148 116.4 148 116.8 148 117.2 148 117.6 148 118 148 118.4 148 118.8 148 119.2 148 119.6 148 120 148 120.4 148 120.8 148 121.2 148 121.6 148 122 148 122.4 148 122.8 148 123.2 148 123.6 148 124 148 124.4 148 124.8 148 125.2 148 125.6 148 126 148 126.4 148 126.8 148 127.2 148 127.6 148 128 148 128.4 148 128.8 148 129.2 148 129.6 148 130 148 130.4 148 130.8 148 131.2 147.9 131.6 147.8 132 147.7 132.4 147.5 132.8 147.3 133.2 147.1 133.6 147 134 146.7 134.4 146.5 134.8 146.2 135.2 145.7 135.6 145.2 136 144.2 136.4 142.8 136.8 140.9 137.2 137.9 137.6 137 137.7 159 137.7 158.1 137.6 155.1 137.2 153.2 136.8 151.8 136.4 150.8 136 150.3 135.6 149.8 135.2 149.5 134.8 149.3 134.4 149 134 148.9 133.6 148.7 133.2 148.5 132.8 148.3 132.4 148.2 132 148.1 131.6 148 131.2 148 130.8 148 130.4 148 130 148 129.6 148 129.2 148 128.8 148 128.4 148 128 148 127.6 148 127.2 148 126.8 148 126.4 148 126 148 125.6 148 125.2 148 124.8 148 124.4 148 124 148 123.6 148 123.2 148 122.8 148 122.4 148 122 148 121.6 148 121.2 148 120.8 148 120.4 148 120 148 119.6 148 119.2 148 118.8 148 118.4 148 118 148 117.6 148 117.2 148 116.8 148 116.4 148 116 148 115.6 148 115.2 148 114.8 148 114.4 148 114 148 113.6 148 113.2 148 112.8 148 112.4 148 112 148 111.6 148 111.2 148 110.8 148 110.4 148 110 148 109.6 148 109.2 148 108.8 148 108.4 148 108Z" fill="#38678f"/>
<path d="M148 108V131.9" stroke-width="0.95" fill="none"/>
<path d="M166.8 108.6 165.1 109 163.7 109.4 162.8 109.8 162.4 110.2 162 110.6 161.7 111 161.5 111.4 161.4 111.8 161.3 112.2 161.2 112.6 161.2 113 161.1 113.4 161.1 113.8 161.1 114.2 161 114.6 161 115 161 115.4 161 115.8 161 116.2 161 116.6 161 117 161.1 117.4 161.1 117.8 161.1 118.2 161.2 118.6 161.2 119 161.3 119.4 161.3 119.8 161.4 120.2 161.5 120.6 161.7 121 161.9 121.4 162.2 121.8 162.4 122.2 162.7 122.6 163 123 163.2 123.4 163.5 123.8 163.8 124.2 164.2 124.6 164.6 125 165 125.4 165.4 125.8 165.8 126.2 166.2 126.6 166.6 127 166.9 127.4 167.2 127.8 167.5 128.2 167.8 128.6 168 129 168.3 129.4 168.5 129.8 168.8 130.2 169 130.6 169.2 131 169.5 131.4 169.6 131.8 169.8 132.2 170 132.6 170.2 133 170.4 133.4 170.5 133.8 170.8 134.2 171 134.6 171.2 135 171.5 135.4 171.7 135.8 171.8 135.9 171.8 135.9 171.9 135.8 172.1 135.4 172.4 135 172.6 134.6 172.8 134.2 173.1 133.8 173.2 133.4 173.4 133 173.6 132.6 173.8 132.2 174 131.8 174.1 131.4 174.4 131 174.6 130.6 174.8 130.2 175.1 129.8 175.3 129.4 175.6 129 175.8 128.6 176.1 128.2 176.4 127.8 176.7 127.4 177 127 177.4 126.6 177.8 126.2 178.2 125.8 178.6 125.4 179 125 179.4 124.6 179.8 124.2 180.1 123.8 180.4 123.4 180.6 123 180.9 122.6 181.2 122.2 181.4 121.8 181.7 121.4 181.9 121 182.1 120.6 182.2 120.2 182.3 119.8 182.3 119.4 182.4 119 182.4 118.6 182.5 118.2 182.5 117.8 182.5 117.4 182.6 117 182.6 116.6 182.6 116.2 182.6 115.8 182.6 115.4 182.6 115 182.6 114.6 182.5 114.2 182.5 113.8 182.5 113.4 182.4 113 182.4 112.6 182.3 112.2 182.2 111.8 182.1 111.4 181.9 111 181.6 110.6 181.2 110.2 180.8 109.8 179.9 109.4 178.5 109 176.8 108.6Z" fill="#eaa524"/>
<path d="M195.9 108.7 195.8 109.1 195.7 109.5 195.6 109.9 195.5 110.3 195.4 110.7 195.3 111.1 195.3 111.5 195.2 111.9 195.1 112.3 195.1 112.7 195 113.1 195 113.5 194.9 113.9 194.9 114.3 194.8 114.7 194.8 115.1 194.8 115.5 194.7 115.9 194.7 116.3 194.7 116.7 194.7 117.1 194.7 117.5 194.6 117.9 194.6 118.3 194.6 118.7 194.6 119.1 194.5 119.5 194.5 119.9 194.5 120.3 194.5 120.7 194.4 121.1 194.4 121.5 194.4 121.9 194.3 122.3 194.3 122.7 194.3 123.1 194.2 123.5 194.2 123.9 194.1 124.3 194.1 124.7 194 125.1 194 125.5 193.9 125.9 193.9 126.3 193.8 126.7 193.7 127.1 193.7 127.5 193.6 127.9 193.5 128.3 193.4 128.7 193.2 129.1 193.1 129.5 192.9 129.9 192.8 130.3 192.6 130.7 192.4 131.1 192.2 131.5 191.9 131.9 191.6 132.3 191.2 132.7 190.8 133.1 190.4 133.5 189.9 133.9 189.3 134.3 188.5 134.7 187.6 135.1 186.9 135.5 186.3 135.9 185.8 136.3 185.4 136.7 185 137.1 184.9 137.3 206.9 137.3 206.8 137.1 206.4 136.7 206 136.3 205.5 135.9 204.9 135.5 204.2 135.1 203.3 134.7 202.5 134.3 201.9 133.9 201.4 133.5 201 133.1 200.6 132.7 200.2 132.3 199.9 131.9 199.6 131.5 199.4 131.1 199.2 130.7 199 130.3 198.9 129.9 198.7 129.5 198.6 129.1 198.4 128.7 198.3 128.3 198.2 127.9 198.1 127.5 198.1 127.1 198 126.7 197.9 126.3 197.9 125.9 197.8 125.5 197.8 125.1 197.7 124.7 197.7 124.3 197.6 123.9 197.6 123.5 197.5 123.1 197.5 122.7 197.5 122.3 197.4 121.9 197.4 121.5 197.4 121.1 197.3 120.7 197.3 120.3 197.3 119.9 197.3 119.5 197.2 119.1 197.2 118.7 197.2 118.3 197.2 117.9 197.1 117.5 197.1 117.1 197.1 116.7 197.1 116.3 197.1 115.9 197 115.5 197 115.1 197 114.7 196.9 114.3 196.9 113.9 196.8 113.5 196.8 113.1 196.7 112.7 196.7 112.3 196.6 111.9 196.5 111.5 196.5 111.1 196.4 110.7 196.3 110.3 196.2 109.9 196.1 109.5 196 109.1 195.9 108.7Z" fill="#9bdfd8"/>
<path d="M220.2 108.7 220.2 109.1 220.2 109.5 220.2 109.9 220.2 110.3 220.2 110.7 220.2 111.1 220.2 111.5 220.2 111.9 220.2 112.3 220.2 112.7 220.2 113.1 220.2 113.5 220.2 113.9 220.2 114.3 220.2 114.7 220.2 115.1 220.2 115.5 220.2 115.9 220.2 116.3 220.2 116.7 220.2 117.1 220.2 117.5 220.2 117.9 220.2 118.3 220.2 118.7 220.2 119.1 220.2 119.5 220.2 119.9 220.2 120.3 220.2 120.7 220.2 121.1 220.2 121.5 220.2 121.9 220.2 122.3 220.2 122.7 220.2 123.1 220.2 123.5 220.2 123.9 220.2 124.3 220.2 124.7 220.2 125.1 220.2 125.5 220.2 125.9 220.2 126.3 220.2 126.7 220.2 127.1 220.2 127.5 220.2 127.9 220.2 128.3 220.2 128.7 220.2 129.1 220.2 129.5 220.2 129.9 220.2 130.3 220.2 130.7 220.2 131.1 220.2 131.5 220.2 131.9 220.2 132.3 220.2 132.7 220.2 133.1 220.2 133.5 220.2 133.9 220.1 134.3 219.9 134.7 219.5 135.1 219.1 135.5 218.5 135.9 217.5 136.3 215.7 136.7 212.7 137.1 209.2 137.4 231.2 137.4 227.7 137.1 224.7 136.7 222.9 136.3 221.9 135.9 221.3 135.5 220.9 135.1 220.5 134.7 220.3 134.3 220.2 133.9 220.2 133.5 220.2 133.1 220.2 132.7 220.2 132.3 220.2 131.9 220.2 131.5 220.2 131.1 220.2 130.7 220.2 130.3 220.2 129.9 220.2 129.5 220.2 129.1 220.2 128.7 220.2 128.3 220.2 127.9 220.2 127.5 220.2 127.1 220.2 126.7 220.2 126.3 220.2 125.9 220.2 125.5 220.2 125.1 220.2 124.7 220.2 124.3 220.2 123.9 220.2 123.5 220.2 123.1 220.2 122.7 220.2 122.3 220.2 121.9 220.2 121.5 220.2 121.1 220.2 120.7 220.2 120.3 220.2 119.9 220.2 119.5 220.2 119.1 220.2 118.7 220.2 118.3 220.2 117.9 220.2 117.5 220.2 117.1 220.2 116.7 220.2 116.3 220.2 115.9 220.2 115.5 220.2 115.1 220.2 114.7 220.2 114.3 220.2 113.9 220.2 113.5 220.2 113.1 220.2 112.7 220.2 112.3 220.2 111.9 220.2 111.5 220.2 111.1 220.2 110.7 220.2 110.3 220.2 109.9 220.2 109.5 220.2 109.1 220.2 108.7Z" fill="#4b3869"/>
<path d="M220.2 108.7V134.7" stroke-width="0.95" fill="none"/>
<path d="M236.9 108.6 235.9 109 235 109.4 234.3 109.8 233.9 110.2 233.7 110.6 233.6 111 233.5 111.4 233.4 111.8 233.4 112.2 233.4 112.6 233.5 113 233.7 113.4 233.8 113.8 234 114.2 234.2 114.6 234.4 115 234.6 115.4 234.8 115.8 235 116.2 235.3 116.6 235.6 117 235.9 117.4 236.1 117.8 236.4 118.2 236.7 118.6 237 119 237.2 119.4 237.5 119.8 237.7 120.2 237.9 120.6 238.2 121 238.4 121.4 238.6 121.8 238.8 122.2 239 122.6 239.2 123 239.4 123.4 239.6 123.8 239.8 124.2 240 124.6 240.1 125 240.3 125.4 240.4 125.8 240.6 126.2 240.7 126.6 240.8 127 241 127.4 241.1 127.8 241.2 128.2 241.4 128.6 241.5 129 241.7 129.4 241.9 129.8 242 130.2 242.2 130.6 242.4 131 242.6 131.4 242.8 131.8 243 132.2 243.2 132.6 243.5 133 243.7 133.4 244 133.8 244.2 134.2 244.4 134.4 244.4 134.4 244.6 134.2 244.8 133.8 245.1 133.4 245.3 133 245.6 132.6 245.8 132.2 246 131.8 246.2 131.4 246.4 131 246.6 130.6 246.8 130.2 246.9 129.8 247.1 129.4 247.3 129 247.4 128.6 247.6 128.2 247.7 127.8 247.8 127.4 248 127 248.1 126.6 248.2 126.2 248.4 125.8 248.5 125.4 248.7 125 248.8 124.6 249 124.2 249.2 123.8 249.4 123.4 249.6 123 249.8 122.6 250 122.2 250.2 121.8 250.4 121.4 250.6 121 250.9 120.6 251.1 120.2 251.3 119.8 251.6 119.4 251.8 119 252.1 118.6 252.4 118.2 252.7 117.8 252.9 117.4 253.2 117 253.5 116.6 253.8 116.2 254 115.8 254.2 115.4 254.4 115 254.6 114.6 254.8 114.2 255 113.8 255.1 113.4 255.3 113 255.4 112.6 255.4 112.2 255.4 111.8 255.3 111.4 255.2 111 255.1 110.6 254.9 110.2 254.5 109.8 253.8 109.4 252.9 109 251.9 108.6Z" fill="#e58b4f"/>
</g>
<text x="268" y="62.1" font-size="9.2" text-anchor="middle" textLength="23.8" lengthAdjust="spacingAndGlyphs" transform="rotate(90 268 62.1)">nCount</text>
<text x="256.6" y="60.8" font-size="9.2" text-anchor="middle" textLength="20" lengthAdjust="spacingAndGlyphs" transform="rotate(90 256.6 60.8)">_RNA</text>
<text x="268" y="94" font-size="9.2" text-anchor="middle" textLength="30" lengthAdjust="spacingAndGlyphs" transform="rotate(90 268 94)">nFeature</text>
<text x="256.6" y="93.7" font-size="9.2" text-anchor="middle" textLength="20" lengthAdjust="spacingAndGlyphs" transform="rotate(90 256.6 93.7)">_RNA</text>
<text x="267.2" y="131.2" font-size="9.2" text-anchor="middle" textLength="34.7" lengthAdjust="spacingAndGlyphs" transform="rotate(90 267.2 131.2)">Percent.mt</text>
<text x="55.4" y="145.2" font-size="9.7" text-anchor="end" textLength="55" lengthAdjust="spacingAndGlyphs" transform="rotate(-57 55.4 145.2)">Schwalbe et al.</text>
<text x="78.5" y="145.2" font-size="9.7" text-anchor="end" textLength="44" lengthAdjust="spacingAndGlyphs" transform="rotate(-57 78.5 145.2)">GSE168737</text>
<text x="102.7" y="145.2" font-size="9.7" text-anchor="end" textLength="44" lengthAdjust="spacingAndGlyphs" transform="rotate(-57 102.7 145.2)">GSE200003</text>
<text x="126.9" y="145.2" font-size="9.7" text-anchor="end" textLength="44" lengthAdjust="spacingAndGlyphs" transform="rotate(-57 126.9 145.2)">GSE211538</text>
<text x="151.4" y="145.2" font-size="9.7" text-anchor="end" textLength="44" lengthAdjust="spacingAndGlyphs" transform="rotate(-57 151.4 145.2)">GSE226809</text>
<text x="175.2" y="145.2" font-size="9.7" text-anchor="end" textLength="44" lengthAdjust="spacingAndGlyphs" transform="rotate(-57 175.2 145.2)">GSE236349</text>
<text x="199.3" y="145.2" font-size="9.7" text-anchor="end" textLength="73.5" lengthAdjust="spacingAndGlyphs" transform="rotate(-57 199.3 145.2)">GSE247602_mdulla</text>
<text x="223.6" y="145.2" font-size="9.7" text-anchor="end" textLength="66.2" lengthAdjust="spacingAndGlyphs" transform="rotate(-57 223.6 145.2)">GSE247602_pons</text>
<text x="247.8" y="145.2" font-size="9.7" text-anchor="end" textLength="57.5" lengthAdjust="spacingAndGlyphs" transform="rotate(-57 247.8 145.2)">GSE178693_wt</text>
<rect x="310.4" y="12.4" width="165.8" height="26.6" rx="5" fill="#fdfdf7" stroke="#a8a8a8" stroke-width="0.55" stroke-dasharray="3.4 0.7"/>
<text x="392.9" y="30.6" font-size="12" text-anchor="middle" textLength="143.8" lengthAdjust="spacingAndGlyphs">Proportion of cells by study (%)</text>
<line x1="337" x2="400" y1="173" y2="173" stroke="#f0f0f0" stroke-width="0.6"/>
<line x1="337" x2="400" y1="142.2" y2="142.2" stroke="#f0f0f0" stroke-width="0.6"/>
<line x1="337" x2="400" y1="111.4" y2="111.4" stroke="#f0f0f0" stroke-width="0.6"/>
<line x1="337" x2="400" y1="80.6" y2="80.6" stroke="#f0f0f0" stroke-width="0.6"/>
<line x1="337" x2="400" y1="49.8" y2="49.8" stroke="#f0f0f0" stroke-width="0.6"/>
<line x1="337" x2="400" y1="157.6" y2="157.6" stroke="#f6f6f6" stroke-width="0.4"/>
<line x1="337" x2="400" y1="126.8" y2="126.8" stroke="#f6f6f6" stroke-width="0.4"/>
<line x1="337" x2="400" y1="96" y2="96" stroke="#f6f6f6" stroke-width="0.4"/>
<line x1="337" x2="400" y1="65.2" y2="65.2" stroke="#f6f6f6" stroke-width="0.4"/>
<line x1="374" x2="374" y1="43.8" y2="179" stroke="#f0f0f0" stroke-width="0.6"/>
<rect x="358.1" y="49.8" width="31.8" height="4.6" fill="#e41a1c"/>
<rect x="358.1" y="54.2" width="31.8" height="9.3" fill="#55b54a"/>
<rect x="358.1" y="63.4" width="31.8" height="2.4" fill="#9a4fa8"/>
<rect x="358.1" y="65.6" width="31.8" height="68" fill="#f08122"/>
<rect x="358.1" y="133.5" width="31.8" height="0.9" fill="#e9d23c"/>
<rect x="358.1" y="134.2" width="31.8" height="39" fill="#6a3d9f"/>
<text x="336" y="53.3" font-size="10" text-anchor="end" textLength="12.7" lengthAdjust="spacingAndGlyphs">100</text>
<text x="336" y="83.4" font-size="10" text-anchor="end" textLength="8.6" lengthAdjust="spacingAndGlyphs">75</text>
<text x="336" y="113.6" font-size="10" text-anchor="end" textLength="8.6" lengthAdjust="spacingAndGlyphs">50</text>
<text x="336" y="144.4" font-size="10" text-anchor="end" textLength="8.6" lengthAdjust="spacingAndGlyphs">25</text>
<text x="336" y="175.1" font-size="10" text-anchor="end" textLength="4.4" lengthAdjust="spacingAndGlyphs">0</text>
<text x="314" y="94.7" font-size="11" text-anchor="middle" textLength="65" lengthAdjust="spacingAndGlyphs" transform="rotate(-90 314 94.7)">Percentage (%)</text>
<rect x="396.9" y="57" width="8.1" height="10.7" fill="#e41a1c"/>
<text x="406.8" y="64.7" font-size="10" textLength="46" lengthAdjust="spacingAndGlyphs">GSE168737</text>
<rect x="396.9" y="69.1" width="8.1" height="10.7" fill="#4682b8"/>
<text x="406.8" y="76.8" font-size="10" textLength="63.5" lengthAdjust="spacingAndGlyphs">GSE178693_WT</text>
<rect x="396.9" y="81.3" width="8.1" height="10.7" fill="#55b54a"/>
<text x="406.8" y="88.9" font-size="10" textLength="46" lengthAdjust="spacingAndGlyphs">GSE200003</text>
<rect x="396.9" y="93.4" width="8.1" height="10.7" fill="#9a4fa8"/>
<text x="406.8" y="101.1" font-size="10" textLength="46" lengthAdjust="spacingAndGlyphs">GSE211538</text>
<rect x="396.9" y="105.5" width="8.1" height="10.7" fill="#f08122"/>
<text x="406.8" y="113.2" font-size="10" textLength="46" lengthAdjust="spacingAndGlyphs">GSE226809</text>
<rect x="396.9" y="117.7" width="8.1" height="10.7" fill="#f6f93a"/>
<text x="406.8" y="125.3" font-size="10" textLength="46" lengthAdjust="spacingAndGlyphs">GSE236349</text>
<rect x="396.9" y="129.8" width="8.1" height="10.7" fill="#a65a2c"/>
<text x="406.8" y="137.4" font-size="10" textLength="80" lengthAdjust="spacingAndGlyphs">GSE247602_medulla</text>
<rect x="396.9" y="141.9" width="8.1" height="10.7" fill="#f27fc6"/>
<text x="406.8" y="149.6" font-size="10" textLength="68.5" lengthAdjust="spacingAndGlyphs">GSE247602_pons</text>
<rect x="396.9" y="154" width="8.1" height="10.7" fill="#6a3d9f"/>
<text x="406.8" y="161.7" font-size="10" textLength="57" lengthAdjust="spacingAndGlyphs">Schwalbe et al.</text>
<rect x="504.6" y="11.5" width="178.3" height="27.3" rx="5" fill="#fdfdf7" stroke="#a8a8a8" stroke-width="0.55" stroke-dasharray="3.4 0.7"/>
<text x="593.4" y="30" font-size="12" text-anchor="middle" textLength="146.7" lengthAdjust="spacingAndGlyphs">Proportion of cells by region (%)</text>
<line x1="532" x2="598" y1="173.1" y2="173.1" stroke="#f0f0f0" stroke-width="0.6"/>
<line x1="532" x2="598" y1="141.8" y2="141.8" stroke="#f0f0f0" stroke-width="0.6"/>
<line x1="532" x2="598" y1="110.5" y2="110.5" stroke="#f0f0f0" stroke-width="0.6"/>
<line x1="532" x2="598" y1="79.3" y2="79.3" stroke="#f0f0f0" stroke-width="0.6"/>
<line x1="532" x2="598" y1="48" y2="48" stroke="#f0f0f0" stroke-width="0.6"/>
<line x1="532" x2="598" y1="157.5" y2="157.5" stroke="#f6f6f6" stroke-width="0.4"/>
<line x1="532" x2="598" y1="126.2" y2="126.2" stroke="#f6f6f6" stroke-width="0.4"/>
<line x1="532" x2="598" y1="94.9" y2="94.9" stroke="#f6f6f6" stroke-width="0.4"/>
<line x1="532" x2="598" y1="63.6" y2="63.6" stroke="#f6f6f6" stroke-width="0.4"/>
<line x1="572.5" x2="572.5" y1="42" y2="179.1" stroke="#f0f0f0" stroke-width="0.6"/>
<rect x="556" y="48" width="33" height="1" fill="#e41a1c"/>
<rect x="556" y="48.9" width="33" height="69.6" fill="#4682b8"/>
<rect x="556" y="118.3" width="33" height="13.4" fill="#f08122"/>
<rect x="556" y="131.6" width="33" height="2.9" fill="#f6f93a"/>
<rect x="556" y="134.3" width="33" height="38.9" fill="#f27fc6"/>
<text x="527.7" y="51.8" font-size="10" text-anchor="end" textLength="12.7" lengthAdjust="spacingAndGlyphs">100</text>
<text x="527.7" y="82.3" font-size="10" text-anchor="end" textLength="8.6" lengthAdjust="spacingAndGlyphs">75</text>
<text x="527.7" y="112.8" font-size="10" text-anchor="end" textLength="8.6" lengthAdjust="spacingAndGlyphs">50</text>
<text x="527.7" y="143.4" font-size="10" text-anchor="end" textLength="8.6" lengthAdjust="spacingAndGlyphs">25</text>
<text x="527.7" y="173.9" font-size="10" text-anchor="end" textLength="4.4" lengthAdjust="spacingAndGlyphs">0</text>
<text x="509.5" y="100.9" font-size="11" text-anchor="middle" textLength="65" lengthAdjust="spacingAndGlyphs" transform="rotate(-90 509.5 100.9)">Percentage (%)</text>
<rect x="594.9" y="58.7" width="7.7" height="10.8" fill="#e41a1c"/>
<text x="604.8" y="67.6" font-size="10" textLength="37.8" lengthAdjust="spacingAndGlyphs">Brainstem</text>
<rect x="594.9" y="70.9" width="7.7" height="10.8" fill="#4682b8"/>
<text x="604.8" y="79.8" font-size="10" textLength="45" lengthAdjust="spacingAndGlyphs">Dorsal pons</text>
<rect x="594.9" y="83.1" width="7.7" height="10.8" fill="#55b54a"/>
<text x="604.8" y="92" font-size="10" textLength="61" lengthAdjust="spacingAndGlyphs">Locus coeruleus</text>
<rect x="594.9" y="95.4" width="7.7" height="10.8" fill="#9a4fa8"/>
<text x="604.8" y="104.3" font-size="10" textLength="29.5" lengthAdjust="spacingAndGlyphs">Medulla</text>
<rect x="594.9" y="107.6" width="7.7" height="10.8" fill="#f08122"/>
<text x="604.8" y="116.5" font-size="10" textLength="16.5" lengthAdjust="spacingAndGlyphs">NTS</text>
<rect x="594.9" y="119.8" width="7.7" height="10.8" fill="#f6f93a"/>
<text x="604.8" y="128.7" font-size="10" textLength="71" lengthAdjust="spacingAndGlyphs">Nucleus_ambiguus</text>
<rect x="594.9" y="132" width="7.7" height="10.8" fill="#a65a2c"/>
<text x="604.8" y="140.9" font-size="10" textLength="19.5" lengthAdjust="spacingAndGlyphs">Pons</text>
<rect x="594.9" y="144.2" width="7.7" height="10.8" fill="#f27fc6"/>
<text x="604.8" y="153.2" font-size="10" textLength="79" lengthAdjust="spacingAndGlyphs">Ventrolateral medulla</text>
<rect x="43.5" y="218.1" width="105.4" height="25.4" rx="5" fill="#fdfdf7" stroke="#a8a8a8" stroke-width="0.55" stroke-dasharray="3.4 0.7"/>
<text x="95.7" y="236" font-size="12.3" text-anchor="middle" textLength="26" lengthAdjust="spacingAndGlyphs">Study</text>
<rect x="34.3" y="247.3" width="127.4" height="119.4" fill="#fff"/>
<path d="M34.3 252.2H161.7M34.3 273.5H161.7M34.3 294.8H161.7M34.3 316H161.7M34.3 337.3H161.7M34.3 358.6H161.7M51.6 247.3V366.7M75.4 247.3V366.7M99.3 247.3V366.7M123.2 247.3V366.7M147.1 247.3V366.7" stroke="#ececec" stroke-width="0.6" fill="none"/>
<path d="M34.3 262.8H161.7M34.3 284.1H161.7M34.3 305.4H161.7M34.3 326.7H161.7M34.3 348H161.7M39.7 247.3V366.7M63.5 247.3V366.7M87.3 247.3V366.7M111.1 247.3V366.7M134.9 247.3V366.7M158.7 247.3V366.7" stroke="#f3f3f3" stroke-width="0.4" fill="none"/>
<path d="M56.6 311.4 57.7 310.2 58.8 309.3 59.8 308.3 61.1 307.7 62.3 307.1 63.4 306.1 65.1 306 66.6 305.8 68.2 305.6 69.5 304.5 71.2 304.4 72.8 304.3 74.3 305.2 75.8 305.2 77.2 304.7 78.9 305.1 80.2 304.6 81.1 303.7 81.9 304.6 83.2 305.1 84.2 306 84.7 307.6 86.1 308.5 86.9 309.9 87.6 311.1 89.5 310.8 91.3 311.3 91.9 310.1 93 309 93.3 307.6 94 306.4 94.8 305.2 95.9 304.2 96.7 302.9 97.5 301.6 99 301.8 99.8 301.3 101.3 301.3 102.8 301.4 104.5 301.3 105.4 302.3 106.2 303.4 107.1 304.2 107.9 305.8 109.4 306.6 110.5 308.1 112.3 308.1 113.8 309.3 115.7 309.7 117 308.5 118.6 308.4 120.3 308.8 121.7 308.1 123.5 308.3 124.4 307 125.5 306 127.1 305.9 128.4 305.3 129.3 304.2 130.5 303 131.9 302.1 133.7 301.5 134.6 300.2 135.1 298.5 136.2 297.4 136.5 296.1 137 294.8 138.2 293.8 138 292.2 139.2 291.3 139.9 290 140.4 288.7 141.4 287.9 143.2 287.8 144.5 288.8 146.2 289.4 147.3 290.7 148.8 291.6 149.5 292.8 149.6 294.3 150.6 295.3 151.9 296.1 151.9 297.6 153.2 298.6 153.7 299.9 153.8 301.3 154.4 302.5 155.3 303.6 154.6 305.1 155.8 306.2 156.1 307.5 155.7 308.9 156.4 310.2 156.7 311.7 156.9 313.1 156.8 314.7 155.8 316.1 155.8 317.8 155.1 319.3 154.9 320.9 154.2 322.2 153.1 323.2 152.9 324.7 152.2 325.9 151.3 327 150.8 328.6 149.7 329.7 148 330.2 147 331.3 146 332.4 144.8 333 143.3 332.9 142.1 333.2 140.5 334.2 138.7 333.5 137.4 333.8 136.2 333.2 135 332.5 133.6 331.8 132.9 330.6 133.2 328.9 131.8 328 131.6 326.3 130.5 325 130.4 323.2 129.2 322.1 127.8 321 127.1 320 125.4 319.7 124 320.7 122.5 321 120.9 321.1 119.2 321.3 118.1 322.3 117 323.4 115.5 323.6 114.3 324.7 112.3 324.7 112.9 322.6 114.3 321.9 115.4 320.7 116.6 320.4 116.1 319.4 115.7 318.4 116.6 317.1 118 316.4 119.4 315.8 120.2 314.1 118.5 314.1 116.9 313.8 115.2 314.3 113.7 315.2 112.1 315.7 110.8 316.2 109.1 315.7 108 316.4 106.6 316.7 105.6 318.2 103.8 318.3 102.4 319.1 101 320.1 100.1 321.6 99 322.9 99.7 324.6 98.9 325.9 98.8 327.4 98.7 328.9 99 330.5 99.9 331.9 100.7 333.4 101.5 335 103 335.7 103.8 337.1 104.7 338.4 105.9 339.5 107.5 340.2 108.5 341.5 109.5 342.4 110 343.6 110.2 344.7 109.2 345.8 107.9 346.4 106.7 347.2 105.7 348.2 104.2 348.1 102.8 348.2 101.5 348.9 100.3 350.1 99.3 351.4 97.7 352.2 96.9 353.3 96.1 354.5 94.9 355.1 94.1 356.5 92.5 356.5 91.6 357.8 90.1 357.9 88.5 358.5 87 359.2 85.3 359.2 83.7 359.9 82.1 360.3 80.4 360.4 79.1 361.5 77.4 362.3 75.6 362 73.8 361.6 72.2 360.9 70.9 359.8 70.6 358.3 69.4 357.4 68.3 356.5 67.7 355.2 66.3 354.5 65.6 353.2 64.2 352.4 63.5 351.2 62.7 349.8 61.8 348.7 60.8 347.9 60.1 346.4 60.2 344.9 60.4 343.3 60.8 341.7 61.7 340.4 62.8 339.5 63.6 338.4 64.3 337.3 65.2 336.4 65.7 334.8 66.7 333.7 68 332.9 69.4 332.2 70.8 331.7 72.3 331.5 73.5 331.1 74.5 330.3 75.4 329.8 75.3 328.4 74.8 327.3 73.7 326.6 72.2 326.3 70.9 325.7 70.1 324.3 68.3 324.4 67.5 323 66.2 322.3 64.7 321.7 64.1 320.3 62.4 319.8 61.4 318.7 60.6 317.2 59.2 316.2 58.9 314.4 57.7 313.7 56.9 312.7ZM88.8 251.9 90 252.3 91.2 252.9 92.6 252.7 93.5 254 94.4 255.3 95.8 256.4 96.4 257.8 96.8 259.2 97.1 260.7 98.4 261.8 98.7 263.3 99.4 264.7 98.6 266.2 98.7 267.7 99.5 269.3 98.4 270.8 98.5 272.2 98.4 273.5 98.1 274.8 98.2 276.2 98 277.5 97 278.5 96.4 280.1 95.2 281.3 94 282.6 92.8 283.2 91.4 283.2 90.2 283.7 88.7 283.9 87.6 284.8 86.8 285.8 86.3 287 85.5 288 84.4 289.3 83.1 290.7 82 289.7 81.2 290 81.1 288.7 81.1 287.4 80.8 286.1 80.9 285 80.1 283.4 79.3 282.2 78.2 281.1 76.7 281.1 77.2 279.5 76.7 277.9 78 276.7 78.5 275.2 78.2 273.5 78.7 272.3 79.8 271.2 79.6 269.8 80.5 268.6 80 267 79.8 265.4 80.6 263.9 80.9 262.4 80.9 260.9 81.2 259.6 81.9 258.4 83.1 257.4 83.3 256.1 83.9 254.6 85 253.6 86.1 252.4 87.4 251.9ZM38.3 288.7 39.3 287.8 40.4 287.1 40.9 285.8 42.6 285.3 44.2 284.9 45.8 283.9 47.6 284 49.3 284 50.7 283.9 52.3 284.1 53.2 285.2 54.6 286.2 53.7 287.7 54 289.1 53.4 290.5 51.6 290.6 50.5 291.6 50.1 293 49.5 294.3 49.3 295.8 48.5 296.9 47.2 297.5 45.3 296.9 43.8 295.8 42.6 294.7 41.1 293.9 40.2 292.4 39.5 291.2 39.3 289.8ZM59.8 273.6 61.1 273 62 272.6 63.5 273.2 64.5 274.2 64.6 275.5 65.1 276.7 64.8 278 65.3 279.5 65.8 281 67.1 282.2 67.7 283.5 68.8 284.7 69.1 286.5 70.6 287 72.4 287 73.1 288.1 73.2 289.3 73.6 290.4 72.6 291.3 71.8 292.5 71 293.3 69.5 294.3 69.1 295.7 68.5 296.9 68.1 298.1 67.8 299.7 66.2 300.6 64.8 301.9 63.9 301.4 64.3 299.8 65.2 298.4 65.9 296.9 65.9 295.2 65.4 293.7 64.1 293.2 63.5 292.4 63.3 291 63 289.6 62.7 288.2 62.1 286.7 62.7 285.6 63.4 284.6 63.8 283.7 64.1 282.1 63.3 280.7 63.2 278.9 61.6 278.4 60.9 277.3 60.6 276 59.4 274.9ZM86.9 294.3 88.2 294.4 88.9 294.4 89.5 295.9 89.4 297.5 88.3 298.7 87.6 300.2 86.3 301.2 85.1 302.4 83.9 303.6 83 305.5 81.8 305 80.1 304.3 81.8 303.4 82.7 302 83.1 300.3 84.7 299.5 85.3 298.3 85.7 296.9 86.3 295.6ZM90.8 288 92.3 288.4 93.5 289 95 289.7 96 290.8 97 291.9 98.1 292.7 98.6 294 99.3 295.2 99.9 296.3 101.2 297.3 101.7 298.6 102.2 300.5 100.5 300.2 99.5 298.8 98 297.8 98.1 295.9 97 294.6 95.7 293.6 94.6 292.3 93.2 291.9 92 291.1 91.4 289.9ZM103.6 277.3 104.9 276.9 106.4 276.8 107.4 275.9 108.7 275.4 110.2 275.1 111.5 274.3 113.1 274.2 114.7 274.7 116.6 275 116.5 273.5 117.6 272.4 118.9 272.3 119.8 273 120.5 274.3 121 275 122.9 274.9 123.8 274.1 125.2 273.8 126.6 273.9 128.4 273.7 129 274.8 128.8 276.2 129.8 277.1 130.5 278.8 131.3 280.7 129.9 281.6 128.3 281.7 126.7 282.2 125.5 282.5 124.6 281.5 124.1 280.3 123.4 279.3 122.1 278.9 120.7 278.9 119.6 280 117.8 280.3 116.7 281.2 115.5 282 114.2 282.8 113.2 283.8 112.1 284.8 110.8 285.7 109.7 287 108.3 287.5 107.2 286.8 106.9 285.8 106 284.2 106.2 282.7 107 281.3 107.3 280.4 106.1 279.7 105.3 278.6ZM107.5 291.4 108.9 291.5 110.4 291.9 111.9 291.4 113.3 292 114.8 292.6 116.6 292.8 117.4 294.1 118.3 295.2 119.2 296.3 120.7 297.2 121.2 298.6 122.2 299.7 122.7 301.6 123.9 301.1 125.4 300.2 126.5 301.7 127.8 301.7 127.5 303.3 126.9 304.9 125.9 306 124 306.6 123.6 305.3 122.2 304.6 121.5 303.5 120.8 302.3 119.8 301.4 119.4 300 118.6 299 118.1 297.7 116.9 296.9 115.7 296.3 114.4 296 113.2 295.4 111.8 295 110.4 294.5 109.8 293.3 108.9 292.2ZM46.5 326.3 47.8 325.7 49 325.5 50.5 325.1 52 325.3 51.5 326.4 50.1 327.5 48.4 327.8 47.5 327Z" fill="#5e3a9c" stroke="#5e3a9c" stroke-width="0.7" stroke-linejoin="round"/>
<path d="M77.5 321.2h0.6v0.5h-0.6zM80.1 321.3h0.8v0.6h-0.8zM77.8 321.6h0.6v0.5h-0.6zM74.5 321.5h1.3v1h-1.3zM76.6 320.7h0.6v0.5h-0.6zM78.8 320.2h0.8v0.6h-0.8zM81.1 321.2h0.8v0.6h-0.8zM79.2 319.2h1.3v1h-1.3zM71.5 318.9h0.6v0.5h-0.6zM72.5 319.6h0.8v0.6h-0.8zM80.5 319.8h0.8v0.6h-0.8zM76.5 321h0.8v0.6h-0.8zM72.2 321.8h0.8v0.6h-0.8zM81.7 321.6h1v0.8h-1zM86 315h0.6v0.5h-0.6zM86.7 314.6h1v0.8h-1zM87.8 315.7h1v0.8h-1zM87 314.5h0.8v0.6h-0.8zM87.4 314.6h0.8v0.6h-0.8zM87.4 314h0.8v0.6h-0.8zM80.1 327h1v0.8h-1zM78.1 327.9h1v0.8h-1zM79.5 327.8h1v0.8h-1zM79.7 328h1v0.8h-1zM77.6 329.2h0.6v0.5h-0.6z" fill="#fff"/>
<path d="M70.7 308.8h0m4-1.5h0m6.9 4h0m-2.7-.5h0m-1.9-1.1h0m-1.4 .6h0m-.6-.8h0m-5.2 .7h0m-1-.7h0m-4.2 1h0m1.1 3.6h0m13.2-1.3h0m.7 .2h0m27.9 1.2h0m-16.4 1.2h0m-1.7 1.5h0m-10.1 .7h0m-10.2-1.7h0m-1.7 0h0m-1 3.2h0m4.1 .8h0m1.9-.7h0m6.4 1.6h0m.2-.4h0m3.6 .9h0m-7.6-.2h0m.9 5.3h0m2.3-1.5h0m7 .5h0m-5.3 3.9h0m-.1-.4h0m-2.7 2.8h0m3-1h0m-1.8 3.8h0m-.1-1.5h0m-4.3 .8h0m-1.6-.2h0m-1.3 .5h0m-1.4 2.8h0m8.7 1.6h0m25 1.1h0m-9.1-.6h0m-19.3 2.3h0m-.2-.7h0m-1.4 .3h0m-9.2 .1h0m-1.2 3.4h0m9.3-.9h0m4.1 .9h0m12.6-.4h0m1.4 .4h0m3-.1h0m9.7-2h0m.2 1.4h0m.2-1.2h0m.6 .6h0m.2 .1h0m-13.5 3.2h0m-2.3-.4h0m-21.4-.7h0m-.1 .8h0m-1.1 1.8h0m0-2.7h0m-3.4 .9h0m3 3.7h0m.9-1.8h0m2.9 .2h0m.9 1h0m1.7-.3h0m2-.3h0m5-.3h0m6.5-.1h0m1.7 0h0m1 2.3h0m6.4-2h0m-3.2 4.1h0m-.6 .4h0m-2.6-1h0m-3 1.3h0m-7.5-2.3h0m-7.6 3.8h0m5 1.9h0m4.1-1.9h0m1.9-.5h0m6 2.6h0m6.5-2.7h0m-10.4 3h0m0 0h0m-7.2 1.8h0" stroke="#b15e2c" stroke-width="1.2" stroke-linecap="square" fill="none"/>
<path d="M87.5 253.8h0m.2 1.1h0m1.4-2.6h0m4.2 4.9h0m-.7-.3h0m-3.2 .6h0m-.4 .1h0m-.7-.2h0m-1.7 .3h0m-1.1-2.6h0m-.4 3.3h0m3-.1h0m.4 0h0m1 .6h0m3.1 3.1h0m-2.6-.4h0m-.3 1h0m0 .6h0m-1.5-.2h0m-.7 .6h0m-.7-2.2h0m-1 2.5h0m-4.8 .9h0m1.3-.4h0m1.4 .7h0m.3-.1h0m.1 .1h0m1.4 1.5h0m1-2.2h0m.8 1.1h0m1.1-.8h0m1.3 1.7h0m.9 2h0m-1.5-.4h0m-.2-.9h0m-1.3 .4h0m-.2 .7h0m-.8 0h0m-1 .9h0m-1-1.5h0m-.6 2h0m-.3-1.6h0m-1.3-.3h0m-.4 1.9h0m-1.3-.1h0m-.6-.1h0m-.3 2.9h0m4.2-.3h0m4.1-1.3h0m.6-.4h0m0 2.6h0m.6-2.6h0m36 4.7h0m-.6-.4h0m-6.1-.5h0m-27-.2h0m-4 1.6h0m0-2.4h0m-1.3 .9h0m-1.3 .8h0m-.5-1.5h0m-.5 2.4h0m-3-1h0m0-1.1h0m-.2 .6h0m-.3 1.2h0m-2.3 1.9h0m3.3 .9h0m.7-.6h0m.1-1.6h0m1.2 1.3h0m3.3 0h0m7.3-.6h0m1.8 .8h0m15.4 .4h0m9.6-1.9h0m7.5 .6h0m2.2 3h0m-1.7 1.7h0m-.1-2.1h0m-1.9 .2h0m-16 1.5h0m-1.9-.6h0m-1.2-1h0m-16.8 1.9h0m-1.4-1.2h0m-3-.9h0m-3.7 .6h0m-1.6 .5h0m-.1-1.1h0m-.3 1.3h0m-.1 .2h0m-1.6-1.6h0m-.2 2.4h0m2 1.7h0m.1 .3h0m4.7-.8h0m.8 .5h0m.4 1.7h0m0-1.3h0m.6 1h0m20.1-1.5h0m6.6 0h0m-6.7 2.7h0m-21.9-.4h0m-1.8 .9h0m-1.8-.8h0m-.2 1.5h0m-.4 1h0m-27.6-.2h0m-1.9-2.3h0m-.5 1.7h0m-5.2-1.2h0m-1-.8h0m-3.9 2h0m-1.7 2h0m2.1 1.5h0m31.1-.2h0m.6-1.3h0m7.5-1h0m1 .4h0m.9 .7h0m65.1 3.3h0m-.7 1.3h0m-.9-.4h0m-.8-.9h0m-.4-.5h0m-1.5 .4h0m-.4-.1h0m-.4-1.1h0m-.2 .7h0m-.3 .7h0m0-.4h0m-.1-.5h0m0-.7h0m-1.7 2.8h0m-27.7-1.2h0m-70.7 1h0m5.3 .8h0m1.8 .2h0m38.2 2h0m52.3-1.1h0m.7-1.4h0m.2 .4h0m1.1 1.7h0m.2-1.2h0m1.4-.7h0m.2 2.2h0m.5-1.9h0m.7 1.8h0m.3-1.4h0m.6 .4h0m.1-.8h0m.6 1.4h0m.9-1.3h0m.7 1.2h0m.7 .5h0m.9 .7h0m-2.1 2.5h0m-3.8-1.4h0m-4.9 .3h0m-.1-.7h0m-38.4-.2h0m-.5 1.7h0m-.9-1.5h0m-10.3-.2h0m-4.6 4.7h0m16.1 .5h0m26.6-.9h0m9.6 .3h0m.4-1.7h0m1.3-.2h0m0 2.4h0m3.9-.8h0m.1-1.2h0m.8-.5h0m.6 2.3h0m1.8-2.5h0m0 2.8h0m.1-.6h0m.5-.2h0m.1-1.9h0m.1 2.7h0m1.5-1.7h0m2.9-.3h0m.1 .4h0m.8-.6h0m.7 1.9h0m1.7-.8h0m-.9 3.4h0m-1.8 .1h0m-.3-2h0m0 .9h0m-.3 .8h0m-1.2-1h0m-.5 1.3h0m-.3-1.4h0m-1.2 .5h0m-.1 1.5h0m0-.3h0m-.2-1.4h0m-.9-1h0m-.3 0h0m-1.7 .5h0m-2.4 1.6h0m-.2-.7h0m-.8 .2h0m-.5-.6h0m-.5 .2h0m-.9 1.2h0m-.7-1.9h0m-.1 2.1h0m-.2-.9h0m-.4 .1h0m-32.5 .9h0m-.1-.6h0m-1.1-.3h0m-.3 .8h0m-.7-1.5h0m-.4-.4h0m-.3 .8h0m-.2-.9h0m-.4 2.2h0m-.1-1.3h0m-.1-1.4h0m-.1 2.6h0m0-.8h0m-.1 .9h0m-.1-1.7h0m-.4 .9h0m-.2-.2h0m-.4-.7h0m0-.7h0m0 2.2h0m-.3-1.6h0m-.1 1.1h0m0 .7h0m-.2-1.8h0m-.1 1.4h0m-1 .3h0m-14.7-1.5h0m-20.8 4h0m16.1-1.3h0m1.7 0h0m1.5 1.3h0m1.2-.4h0m10.6-.3h0m1.5 1h0m1.8-1.7h0m.2 .2h0m.6-.2h0m.1 1.8h0m1.4-1.5h0m.1-1h0m.1 1.4h0m0 .9h0m.1 .3h0m.1-2h0m.1 1.4h0m.5 .2h0m.1-2h0m.2 .2h0m.3 1.9h0m.3-1.5h0m.1-.4h0m.1 1.4h0m.7-1h0m.4-.9h0m0 1.3h0m.9 .5h0m.3 .8h0m.5-.9h0m.2 1h0m.2-.5h0m.1-1h0m.1-.6h0m.4-.7h0m0 1h0m.6 1.8h0m.2-1.9h0m.1 1h0m.2-1.2h0m.1 .3h0m.1 1.4h0m.2-.1h0m.2 .5h0m21.5-.1h0m6.2-.2h0m1.9-2.3h0m.2 .1h0m.9 .7h0m.4 1h0m.1-1.4h0m1.7 0h0m.8 1.5h0m1.7-1.4h0m0 1.7h0m1.2-2.1h0m.2 0h0m2.9 2.6h0m.9-1.6h0m1.1 1.5h0m.2-1.5h0m.3-.2h0m0 1.7h0m.8-2h0m.1 1.6h0m1-2.2h0m.6 2.3h0m1.3-2.5h0m.6 2.7h0m.2-1.1h0m-1.3 2.8h0m-.8 .4h0m-.2-.4h0m-.3-.4h0m-.3 .2h0m0 .8h0m-1.7-1.3h0m-.7 .2h0m-.6-.7h0m-.4 2.3h0m-.3-1.9h0m-.7 1.8h0m-1.8 .2h0m-.3-.5h0m-.3-.4h0m-.2 1.1h0m-2.4-2h0m-1.3 1.4h0m-.8-.8h0m-.4-1.3h0m-.3 2.2h0m-.7-.8h0m-.6-1h0m-.1 1.1h0m-.1 .4h0m-.3-1.4h0m-.2-.1h0m0-.3h0m-4.1 1.2h0m-.2-1.2h0m-.5 2.1h0m-.9 .2h0m-14.4 .2h0m-6 .2h0m-.4-2.7h0m-.4 1.4h0m-.8-.1h0m-.1-1.3h0m-.1 1.1h0m-.7 1.6h0m-.1-2.1h0m-.2-.1h0m-.1-.2h0m-.5 .8h0m-.7 .5h0m0-1.2h0m-.2 2.3h0m-.1-1.3h0m-.7-.2h0m-.1 .4h0m0-.9h0m-.2 .5h0m0-.9h0m-.2 2.2h0m0-.9h0m-.6-.5h0m-.2-1.3h0m-.4 1h0m-.1-.7h0m-.1 2.5h0m0-2.6h0m-.7 1.7h0m0 .4h0m-.2-1.3h0m0 .1h0m-.5-.6h0m-.1 2h0m-.2-.3h0m-.2 .4h0m-.1-1h0m-.3 .8h0m-.2-1.1h0m0 .2h0m-.3-.6h0m0 .1h0m-.2 .7h0m-.5 1h0m-.7-.1h0m0-2.2h0m-.3 2.3h0m-.2-1.6h0m-.1 1.5h0m-.1-1.3h0m-.2 .9h0m-.6-1.7h0m-.2-.2h0m-.1 2h0m-.3-1h0m-.1 1h0m-.4-1.9h0m-.5 0h0m-.6 2.5h0m-.1-2.8h0m-1.3 1.8h0m-1.3-1.5h0m-9.9 .5h0m-1.6 .2h0m-10.1 1.6h0m-8 3h0m7.4-.8h0m7.1-.8h0m3.5 0h0m.4-.1h0m1.6-.2h0m.6-.6h0m1.7 .7h0m1 .9h0m.5-.8h0m4.9 .6h0m.4 1.3h0m.3 0h0m.2-2.2h0m.1 .5h0m.9 1.3h0m.2-.5h0m.9-1.6h0m.2 2h0m.5-1h0m.3-1.3h0m.3 .4h0m.3 1h0m.7-.2h0m.2 .6h0m.2-.5h0m.2-.5h0m.4-.2h0m.1 1.4h0m0-1h0m.1-1h0m.5 1.5h0m1 .8h0m0-2.4h0m.2 2.2h0m.2 .2h0m.9 .2h0m.4 0h0m.1 .1h0m0-1.1h0m.7 .2h0m1.4-1.6h0m0 2h0m.5 .4h0m.1-1.8h0m.2-.6h0m1 2.6h0m.3-1.1h0m0-1.7h0m.2 1.7h0m0-1.3h0m1.6 .6h0m1.4 0h0m.4-.9h0m.4 1h0m.7-.1h0m6.5 0h0m6.4 1.6h0m5-2h0m3.7 .4h0m.1-.7h0m6.3 1.5h0m1-.8h0m.8-.5h0m1.2 2.2h0m.8-1.7h0m3 .6h0m.6 1h0m1.5-2.6h0m.2 2.3h0m.1 .1h0m1.7-2h0m0 1.2h0m0-1h0m.1 .7h0m.3-.6h0m.5 1.5h0m.4 .1h0m.5-.6h0m.7-.3h0m.5-1.4h0m1 1.5h0m.1 2.8h0m-.2-.6h0m-.8 2.2h0m-.1-2.9h0m0 1.8h0m-.6 .3h0m-.3-.1h0m-.5 .5h0m-.1-2.1h0m-1 1h0m-1.6-.1h0m-.5-1.1h0m-.6 2h0m-.6-.7h0m0 .6h0m-3.6-.1h0m-.5-.6h0m-.3-.6h0m-.8 .7h0m-1.2-1h0m0 .6h0m-2.9-.1h0m-.3-.7h0m-2.3 2.5h0m-3.1-.2h0m-4.6-1.3h0m-3.6 .9h0m-.9 .4h0m-.2-2.5h0m-11.8 0h0m-5.7 .3h0m-.1 .4h0m-.3-.7h0m-.9 1.3h0m-1.1-.1h0m-.2 .2h0m-1-1.5h0m0 .8h0m-.5 .1h0m-.1 .8h0m-.3-.4h0m-.4 .9h0m-.2 .4h0m0-.3h0m-.4 .3h0m0-2.5h0m-.1 1.4h0m-.3-1h0m-.1 .8h0m0-.5h0m-.4 1h0m-.3 .3h0m-.4 .6h0m-1.3-2.2h0m-.7 0h0m-.9 2.2h0m-.3-2.5h0m-.4 2.7h0m-.4-.7h0m-.5-1.8h0m-.3 .5h0m-.7 1.3h0m-.9-.3h0m-.5-.5h0m-.8 1.4h0m0-1.4h0m-1.5-.2h0m-.2-.9h0m-1.1-.1h0m-.4 1.3h0m-1 .2h0m-.1-1.3h0m-.2 .4h0m-4.5 1.9h0m-2.8-2h0m4.4 4.1h0m.3 .7h0m.5-.5h0m1.5-1.9h0m.3 2.6h0m.2-2.6h0m.1 .1h0m.2 .4h0m2 .2h0m.3-.2h0m.1 .6h0m1.3-.2h0m.5 .4h0m.4-.5h0m.2 1.9h0m.1-1.4h0m.1 .4h0m.5-.6h0m.2 .9h0m.5-.3h0m.3 .9h0m.1-1.3h0m1-.1h0m.6-.7h0m.3 2.2h0m0-2.8h0m.1 2.8h0m0-1.1h0m.1-.6h0m.2 .8h0m.6 .1h0m.2 .6h0m.5-2.6h0m.8 2.3h0m.6 .4h0m.6-2h0m.1-.1h0m.2 .3h0m.1 .1h0m.7 .9h0m18.4 .6h0m2.6-.8h0m12.1-1.7h0m3.3 .6h0m1.8 1.5h0m.3 .4h0m.4-1.8h0m0 1.3h0m0-1.7h0m.9 1.7h0m1 .7h0m1.1-2.3h0m0 0h0m.4 .4h0m.2 1.6h0m.2-.5h0m.2-1.7h0m.1 .4h0m0 2.3h0m.7-2h0m.2 .9h0m2.5 1h0m.5-1.4h0m.1 1h0m.9 .4h0m.7 .1h0m1.2-2.8h0m.1 2.4h0m.4-.1h0m2-1.1h0m.2 .7h0m.3-.6h0m-.3 2.4h0m-1.9 2.1h0m-.1-2h0m-.2-.5h0m-.2 1.8h0m-.1 0h0m-1.3-1h0m-.4 .5h0m-.6-1.6h0m0 2.6h0m-.1-.3h0m-.9-2.4h0m-.1 2.4h0m-.8 .5h0m-.5-.6h0m-.4-.8h0m-1.3-.2h0m-1 .8h0m-.1 .1h0m-.2-1.7h0m-2-.3h0m-.1 .6h0m-1.8-.5h0m-.4-.3h0m-1.6 1.4h0m-2.3-.6h0m-.1 1.9h0m-.8-1h0m-34.7 .7h0m-1 0h0m0-.8h0m-.7 1.1h0m0-.4h0m-.2 .4h0m-.9-1h0m-.5 .2h0m-.7-.5h0m-.1-.1h0m-.7 1.5h0m0-1.8h0m-.2-.5h0m-.9 2.4h0m-.2-.6h0m-.6-.9h0m-.6-.5h0m-.1-.6h0m-.1 1.7h0m-.2-1.8h0m-.6-.2h0m-.2 1.8h0m-.1-1h0m-.1-.7h0m-.1 2.3h0m0-.1h0m-.2-.2h0m-.9-1h0m0-.4h0m-1.3 .3h0m-.2 1.3h0m-.2-1.7h0m0 .2h0m-.5 .5h0m-3.5-1.3h0m-.2 .4h0m-.2 .7h0m-.4 1.1h0m-33 2.4h0m32.1 .6h0m.3 .1h0m.4-.7h0m.6 1.2h0m2.1-2.2h0m.5 .6h0m2.1 0h0m.4-.1h0m.4 .7h0m.1 .5h0m0-2.2h0m.8 .7h0m0 1.2h0m.4 0h0m.2-1.8h0m.4 1.1h0m.5-.4h0m.8-.6h0m.4 .6h0m.6 1.3h0m.3 .6h0m.5-1.5h0m0 1h0m.7-1.7h0m.2 2.2h0m.2-.9h0m.4-.1h0m.2-.6h0m.6-.6h0m0-.5h0m.2 2.5h0m.2-1h0m.1-.3h0m.4-.8h0m.3 2.2h0m.2-.1h0m.1-1.1h0m0-.7h0m.2 1.5h0m.2-.9h0m34.6-1.4h0m7 1.8h0m.5 1.1h0m2.5-.5h0m.3-1.7h0m.1 .9h0m.6 1h0m.1-1.9h0m.2 0h0m1.7 1.6h0m.4-.3h0m2.8-.4h0m1.3 1.3h0m.1-2h0m-.8 2.4h0m-1.1 1.4h0m-.8 .5h0m-.1 0h0m-.2 .7h0m-.2-1.3h0m-.4 1.3h0m-.7-1.3h0m-.1-.2h0m-.5-.2h0m-.2 0h0m-1-.6h0m-.4-.2h0m-.2-.2h0m-1.1 0h0m-.2 1.9h0m-.1 .5h0m-.3-1.9h0m-.5 1.2h0m-1 .9h0m-.2 0h0m-1.6-1.1h0m-.1-1h0m-.2 1.6h0m-1.2-.5h0m-1.8-1.2h0m-35.6-.5h0m-.2 .7h0m-.7 1.2h0m-.2-.7h0m-.5-.6h0m-1.1 1.2h0m-.2-.7h0m-1.1-1.1h0m-.2 2.8h0m-.2-2.7h0m-.8 1h0m-.2 1.2h0m-.1-.1h0m-.4-.5h0m0 1.1h0m-.6-1.7h0m-.1 .7h0m-.5-1.4h0m-.2 2.1h0m-.2-.8h0m-.3-.7h0m0 .4h0m-.5 .5h0m-.3-.5h0m-.7 .3h0m-.9 .7h0m-.1-2.4h0m0 .2h0m-.3 2.6h0m-.3-2.7h0m-.6 .2h0m-.1 .9h0m-.9 .1h0m-.6-1.2h0m-.6 .1h0m-.3 1.3h0m0-.9h0m-.4 2.1h0m-.1-2.4h0m-.9 1.5h0m-.3 .2h0m-.1-1.4h0m-1.8-.1h0m-30.7-.6h0m20.6 5.8h0m10.1-.2h0m.6-.3h0m1.6-1.1h0m.2 1h0m0-1.2h0m1.2 1.7h0m1.1-1.6h0m.1-.2h0m.2-.7h0m.5 2.7h0m1.7-2.6h0m.1 1.4h0m.2-1h0m1.1 1.5h0m.1-.6h0m.1-1.4h0m.5 2.6h0m.5-.7h0m.4-.4h0m.8-.8h0m.1-.1h0m.6 .9h0m0-1.2h0m.5 .2h0m.1 2.1h0m.5-.3h0m.2 .2h0m.5-.7h0m.1 .3h0m.2-1.7h0m.4 1.8h0m.4 .3h0m.3-2.3h0m.1 .7h0m.1 1.4h0m2.1 .4h0m38.2-1.1h0m1.3-1.8h0m.3 .1h0m.3 .9h0m3.6-.6h0m.3 0h0m.2 1.1h0m.2-.4h0m.1-.5h0m.6 .7h0m1.6-.9h0m.4-.1h0m-45.8 4.5h0m-.9-.7h0m-.4 1.7h0m-1.2-2.7h0m-.6 1.5h0m-1.2-1.1h0m-.5 2h0m-.2-.2h0m0-1.8h0m-.1 .4h0m-.3 1h0m-.1-.7h0m-.2-.4h0m-.6 .8h0m-.3-1.6h0m-.1 2.6h0m0-1.8h0m-.8 2h0m-.5-2.1h0m-.1 1.1h0m-.3 .8h0m-.1-2.6h0m-.1 2.1h0m-.1-.6h0m-.1 1h0m-.1-1.7h0m0 1.5h0m-.7-2.1h0m0 1.7h0m-.7-1.8h0m-1.2 2.8h0m-.7-.4h0m-.2 .3h0m-.5 .1h0m-.1-.1h0m0-.3h0m0-.8h0m-.2 1.1h0m-.5-.4h0m-.3-.5h0m0-1.2h0m0 .6h0m-.7-1.3h0m-.5 1.1h0m-.2 .9h0m-.6 .4h0m-1.2-1.1h0m-.2 .6h0m0 .6h0m-.1-.3h0m-.1 .2h0m-.2-.7h0m-.1-1.2h0m-.4 .1h0m-1.1 .7h0m-.2-.7h0m-.1 .6h0m-.2 1.1h0m-.6 .2h0m-.4-.1h0m-.2-1.1h0m-.2-.2h0m-1.9 1.5h0m-.1-1.1h0m-.7 1.4h0m-.2-2h0m-.1-.5h0m-.1 0h0m-7.4 5.2h0m2.2-2h0m.4 1.5h0m.3 .3h0m.2-2.1h0m.4 1.5h0m.1 .1h0m1.7 .8h0m1.5 .2h0m.8-1.4h0m.1 .3h0m.1 .5h0m.1-1.3h0m.8 0h0m.1-.2h0m1 .5h0m2.2-.1h0m.6 1.7h0m0-1.8h0m0 .1h0m.1-.7h0m.4 2.1h0m.1-.6h0m1.4 .2h0m.1 .3h0m.5 0h0m.6-1.5h0m1.2 1.1h0m0-.1h0m.2 .4h0m0-1.9h0m.1 1h0m.1-.5h0m0 .6h0m.2-1.5h0m.9 .5h0m.3 2.2h0m.3-2.7h0m.4 .8h0m.1 1.4h0m.3-2.1h0m.3 1.2h0m.3 .3h0m0 .5h0m.1 .1h0m.3-.8h0m0-.1h0m1.2-1h0m.8 2h0m.9 .1h0m.1-.3h0m0-1.9h0m.7 .1h0m.3 1.4h0m1.3-.1h0m.5-1.6h0m.8 2.5h0m.6-.9h0m.4-.7h0m.2 1.5h0m0-.6h0m.4 .9h0m.7-.4h0m.3-.7h0m.1 1.2h0m2.4-2.6h0m4.2 2.5h0m3.3 2.8h0m-1.2-1.3h0m-1.4 1.1h0m-.5 .1h0m-.4 .2h0m-.1-.2h0m-.4-.1h0m-.3-1.7h0m-1.4 .7h0m-.8-.8h0m-.1 .9h0m-.4 .6h0m-.1-1.1h0m-1.2 1.3h0m-1 .4h0m-.1-2.6h0m-.9 2h0m-.2 .8h0m-.2-.1h0m-.1-1h0m-.1-1.8h0m-.3 1.1h0m-.4-.4h0m-.1 .7h0m-.1-.8h0m-1.6 1.7h0m-.9 .1h0m-1-1.2h0m-.2-1h0m0 2.1h0m-.1-1.4h0m-.6 0h0m-.7 1.8h0m-.3-2.6h0m-.1 .5h0m-.1 1.4h0m-2.5-.5h0m-.3 .7h0m0 .4h0m-.3-.3h0m-1.2-1.1h0m-.3-1.2h0m-.4 2.2h0m-.2 .4h0m-.4-.5h0m-.3-1.4h0m-.5 1.5h0m-.6-1.9h0m-.5 .6h0m-.2-.8h0m-.1 1.1h0m-.4 1.2h0m-.1-1.6h0m-1.3 .6h0m-.1-.1h0m-.1 1.4h0m-.3-.2h0m-.2 .1h0m-.3-1.3h0m-.3 .3h0m-.5 .1h0m-.9 .1h0m0-.6h0m-.9 .4h0m-.4-.5h0m-.2 1.3h0m-.1-.1h0m-.1-.2h0m-.6-.7h0m-.3-1.1h0m0 .9h0m-.2 .1h0m-1.5-1h0m0 1.6h0m-.5-.2h0m-.1 .5h0m-.7-1.7h0m-1 1.8h0m-.3 .3h0m-.6-.1h0m-.6-.8h0m-.6-1.3h0m-.5 2.4h0m-.5-2.3h0m-.2 .1h0m-4.7 .9h0m-.2 2.3h0m3.7 .1h0m.7 1.6h0m.5-1.2h0m.2 1h0m1.4-1.9h0m0 .2h0m.5 0h0m0 .2h0m.4 1.1h0m.1-1.5h0m.2 1h0m.3-1h0m.2 .9h0m.6-.4h0m.1 1.2h0m.7 .4h0m.7-2.1h0m.2 .7h0m.4 1.4h0m.6-.6h0m.2-.2h0m1-1.6h0m.2 1.5h0m1.1-.7h0m0-.3h0m1.1 1.2h0m.4-.9h0m0-.3h0m1.1 1.7h0m.3 .6h0m.2-1.5h0m.8 1.5h0m.1-2.8h0m1.2 2h0m.7-1.6h0m.1 2.3h0m0-.1h0m1.3-2.1h0m.5 .4h0m0 1.6h0m.1-2.3h0m0 .9h0m.2 1.3h0m.4-.7h0m.5 1.1h0m.9-.7h0m.3-.5h0m0-1.1h0m.2 .4h0m0 .5h0m.1 .2h0m.9-.6h0m1-.9h0m.2-.2h0m1.7 2.2h0m.6-1.3h0m.6 1h0m.7-1.6h0m.4 .1h0m.4 .9h0m.8-1h0m.7 .3h0m0 1.3h0m.8-1.9h0m0 2.2h0m.1-2h0m.2 .4h0m.1 1.3h0m.7-1.6h0m1 2.2h0m.1 0h0m0-1.7h0m0-.5h0m.6 1.9h0m.3-.6h0m.3 1.2h0m0-2.1h0m.2 .4h0m.2-.2h0m.5-.3h0m.3 1.4h0m0-1.2h0m.5 .8h0m0 0h0m.1-.3h0m.6 1.4h0m0-1.6h0m.7 1.8h0m.2-2h0m1.6 1.5h0m1.6 .5h0m1-1h0m.2 .1h0m1-.1h0m-3 1.5h0m-2.4-.3h0m-.1 1.2h0m-1.4-1.3h0m-.3 .6h0m0-.6h0m-1 .6h0m-.3 2.2h0m-.9-1.9h0m-.1 1.1h0m-.4 .7h0m0-.9h0m-1.3-1.7h0m-.4 2.2h0m-.1-2.1h0m-1.4 .1h0m-.2-.2h0m-.3-.1h0m-.2 1.4h0m-.2 1.2h0m-.5-2.5h0m-.2 .7h0m-.1-.2h0m0-.6h0m-.7 1.6h0m-.2 .8h0m-1.4-2.2h0m-.1-.1h0m-.1 2.1h0m-.4-.8h0m-.4 1.3h0m-1.3-2.6h0m-.4 .2h0m-.9 1.5h0m-1.2-1.8h0m-.1 .7h0m-.3 .1h0m-.8 1.4h0m-.1-.6h0m-.6-.8h0m-.3-.1h0m-.1 .9h0m-.9 .9h0m0-1.1h0m-.1 .3h0m-.1-.5h0m-.1-.9h0m-.1 .8h0m-1.1 .3h0m-.2 .2h0m-.6-.5h0m0-.4h0m-.1 .7h0m-.9-1h0m-.1 2.4h0m-.4-2.2h0m-.5 1.5h0m-.1 .1h0m-.6-.5h0m0 1.2h0m-.1-.9h0m-.5-1.6h0m-.8 0h0m-.1 2.5h0m-.6-.6h0m-.8-.3h0m-.5 .6h0m-.5-2.1h0m-.1 .7h0m-.7 .2h0m-.2 .1h0m-1.8 .8h0m-.6-2.2h0m-1.1 1.4h0m-.5 .4h0m-.1 .5h0m-.5-1.2h0m0 .9h0m-1.5-.3h0m-.7 .4h0m-.1-1.8h0m-1.6 1.7h0m-2-.6h0m2.6 2h0m2 2.3h0m.4-2.7h0m.4 2.7h0m1.4-1.9h0m.2-.6h0m1.1 1.9h0m.3-2h0m1.1 2h0m.1 .4h0m.2-2.6h0m.4 2.8h0m.1-2h0m.3-.4h0m.1 1.3h0m.4-1.1h0m.1 .4h0m0 1.3h0m0-1.6h0m.1 2h0m.6-.1h0m0-2h0m1.5 1.7h0m.1-2.1h0m.1 .5h0m.3-.3h0m.6 1.2h0m.3 .6h0m0-.3h0m.1 .2h0m.2-1.3h0m.1 1.1h0m.5-1.5h0m1.1-.3h0m.5 1.2h0m.9 .4h0m.4-1.1h0m0 1.1h0m.2 .6h0m.4-1.2h0m0-1.1h0m.9 1.4h0m.1-1.1h0m.9 .3h0m.6 1.5h0m.8-1.8h0m.1 .9h0m.1-.1h0m.2 1.4h0m.1-2.2h0m0 .2h0m.1 .4h0m.1-.5h0m.4 1.7h0m.4-.3h0m.2-1.3h0m0 .1h0m.2 .2h0m.3 1.2h0m.1-.5h0m.1-1.5h0m1.3 .2h0m0 1.4h0m.3 1.1h0m.3-1.5h0m.9 1.2h0m0-1.4h0m.3 .6h0m.1-1h0m1.7 1.8h0m0-2.1h0m.7 1.1h0m.2-1.3h0m.3 1.4h0m.1-.8h0m.5 1.2h0m0-1.3h0m.1 .7h0m.2-1h0m.7 .8h0m.8-1.1h0m1.1 1.7h0m0-.4h0m1-.1h0m1.2 .3h0m-3.4 3.3h0m-2.1 .7h0m-.8 .1h0m-.1-2h0m-1.9 1.6h0m0 .2h0m-.2-1.3h0m-.5-.8h0m-.1 1.4h0m0-1h0m-.2 1.8h0m-.4-1.9h0m-.4 .5h0m-.3 1.2h0m-.2-1.3h0m-.3-.4h0m0 1.7h0m-.2-.4h0m-.6 .4h0m-.2-.9h0m-.8-.2h0m-.1-.5h0m-.4 1h0m-.1 1.2h0m-.1-.3h0m0-1.5h0m-1.8-.8h0m-.1 0h0m-.2 .6h0m-.2-.7h0m-.2 .5h0m-.3-.1h0m-.9-.2h0m-.2 2.5h0m-.1-2h0m-1.2 .7h0m-.6 .5h0m-.1-.2h0m-.1 .6h0m-.2-2.2h0m-.7 2.5h0m-.1-2.8h0m-.8 2h0m-.8-2h0m-.6 2h0m-.7 .9h0m-1.3-2h0m-.7-.3h0m-.5 1.8h0m-.5 .4h0m0-.9h0m-.6 0h0m-.3-.4h0m-2-1.5h0m-1.3 2.9h0m-1.2-2h0m1.6 2.3h0m.3 .1h0m4.1 .4h0m.8-.1h0m0 .8h0m.1-.6h0m1.1 .4h0m.3-1h0m.3 .8h0m.5-.3h0m.1 1.5h0m.3-1.7h0m.3 1.3h0m.2 1.1h0m.2-.7h0m.2-.5h0m1.6-1.1h0m.1 2.3h0m.3-2.1h0m.6 .2h0m.3-.7h0m1.2 1.5h0m1.2-.8h0m.7 1.9h0m.2-2.7h0m2.4 2.6h0m1.5-.7h0m3.2-1.5h0m.7 2.3h0m-9.2 1.3h0m-.3-.4h0m-.1-.3h0m-.9-.4h0m-.6 .7h0m-2-.6h0m-.3 2.1h0m-.1 0h0m-.3-2.3h0m-.3 1.5h0m-.8-.3h0m-2.4 .9h0m-.4-1.6h0m-4.5-.3h0" stroke="#b3e28a" stroke-width="1.2" stroke-linecap="square" fill="none"/>
<path d="M86.6 252.7h0m.1 1h0m1.6 1.1h0m.4-2.8h0m6.2 5.9h0m-4.6-2.5h0m-.6 1.2h0m-.5-1.1h0m-.4 1.8h0m-.3-1.7h0m-.8 1.6h0m0 .7h0m-.1-.1h0m-1.2-2.7h0m0 1.8h0m-.1-.8h0m-.8 .8h0m-.7 .5h0m-.8 .2h0m-1.3 3h0m.2-1.3h0m.1 .7h0m.5-.5h0m.6 1.3h0m.6-1.6h0m.1-1.2h0m0 .4h0m1.8 1h0m.5 .5h0m.8 .9h0m.8-1.9h0m.1-.6h0m.2 2.2h0m.1-.7h0m1.5 .7h0m.1-2.3h0m1.5 1.8h0m3 .4h0m-3.7 1.2h0m-1.3 2.3h0m-.1-.1h0m-2-.1h0m-.1-2.3h0m-1.8-.4h0m-.2 2.7h0m-.4-1.2h0m-.1-1.2h0m-2.2 .4h0m-.9 .3h0m-1 1.6h0m.6 .9h0m2.1 2h0m.7-2.1h0m2.3 .5h0m2.5-.1h0m4.9 1.1h0m3.4 0h0m-.3 3.7h0m-6-1.1h0m-2.2-.3h0m-.8 1.3h0m-.7-.8h0m-.2 1.2h0m-1.1-2.6h0m0 2.2h0m-.9-.1h0m-1.1 .2h0m-.6-.7h0m-2.8-.8h0m-.5 1h0m-.1 .8h0m-.6-1.4h0m-17.6 4h0m17.4-.2h0m.1-1.7h0m.3 1.3h0m.4-1.1h0m1 .4h0m1.2 .1h0m.7 1.1h0m.7 .2h0m1.3-.2h0m.3-.8h0m0-.2h0m1.4 .9h0m.3-2h0m.7 .3h0m5.4 1.4h0m.4-2h0m33.3 5.3h0m-.9-.4h0m-.8-.2h0m-5.6 .2h0m-1.6-.5h0m-1.5 1h0m-.5-.6h0m-3.1-.1h0m-.4 0h0m-.1 .3h0m-1.2 .4h0m-.8-.3h0m-2.5 .7h0m-10.8-1.4h0m-4-.2h0m-4.2 .9h0m-.8-1.8h0m-1.9 1.3h0m0-.9h0m-1-.5h0m-.5 2.2h0m-1.4-1.4h0m-1.5-.4h0m-.5 1.8h0m-.9-1.9h0m0 1.2h0m-.2-.9h0m-.5 1.1h0m-.1 .9h0m0-1.7h0m-1.5 .9h0m-.4 .7h0m-15.1-2.4h0m-.2 .6h0m-1.1 .7h0m-.9-.1h0m-.6 1.2h0m1.5 2.5h0m.1-2h0m.2 1.7h0m.1-.7h0m.1 0h0m.7 .8h0m.5-.6h0m1.1 .5h0m.3 .2h0m12.4 .7h0m.2-.8h0m.1-1.1h0m0 .3h0m0 .4h0m.5-1.3h0m.8 2h0m.1-1.5h0m.7 .8h0m.5 .1h0m.4 .2h0m.6-.8h0m.1-.4h0m.5 .9h0m1.4 1.3h0m1-2.4h0m.7 .1h0m.5 2.3h0m.2 0h0m.4-.3h0m.6 .2h0m6.8-.9h0m1.4-.8h0m1.2-.1h0m9.3-.1h0m.6 .8h0m.1 .4h0m0-.3h0m.3-1.2h0m.1 .5h0m.3 .7h0m1.4-.5h0m.2-.5h0m.2 .4h0m.5 .1h0m.2-.7h0m.3 1.7h0m.1-1.7h0m.6 1.2h0m.3 1.1h0m.1-.9h0m0 .1h0m.7-1.7h0m.2 1.9h0m.6-1.4h0m0 .8h0m.5 .9h0m.1 .2h0m.5-.3h0m.9-.7h0m.6 .5h0m.1 .2h0m.1-.8h0m.3-1.6h0m.5 .3h0m.7 .8h0m.4 1.2h0m.2-1h0m.1 .7h0m.1-.9h0m0 .5h0m.5-.6h0m0 .7h0m.3-.6h0m.2 .9h0m5.8-.6h0m3.3 3.7h0m-2.4-1.6h0m-7.1 .9h0m-.1-1.3h0m-.2-.1h0m-1.4-.1h0m0 1.8h0m-.4-.3h0m-1.1 1.3h0m-.3-.5h0m-.2-.7h0m-.1 .9h0m-.9-1.8h0m-.6 1.7h0m-.2-.7h0m0-.9h0m-.6 1.9h0m-.3 .1h0m-.6-1.4h0m-.3-1.4h0m-.1 1.4h0m-.1 .1h0m-.6-1.3h0m-.5 1.5h0m-.5-1.5h0m-.2 .8h0m-.6-.9h0m-.3 1h0m0-.7h0m-.4 .2h0m-.7-.4h0m-18.6 1.6h0m-.7-.8h0m-.6 1.1h0m-.7-2h0m-.2 1.9h0m-.7-.1h0m-.3-1.5h0m-1.5 .5h0m-.6 .2h0m-.2-.7h0m-.4 2.2h0m-.1-1.2h0m-1.3 .5h0m-2 .4h0m-1.1-1.1h0m-11.7 1.3h0m-.4 .4h0m-.8-1.2h0m-.3-.5h0m-.7 .5h0m-14.9 3.6h0m15.7-.2h0m0 .6h0m.3-1h0m.3-.3h0m0-1.1h0m.4 1.1h0m.7-1.3h0m.2 2.8h0m.2-2.6h0m.5 .9h0m13.8 .3h0m.5-.9h0m.1 .9h0m.9-.8h0m.4-.7h0m0 2.8h0m.4-2.5h0m.8-.2h0m.3 2.6h0m.2-.1h0m.4-2h0m0 1.8h0m0-2h0m.3 1.7h0m.3-.4h0m.7-.6h0m.5-.1h0m.5 .6h0m19.6 .8h0m.4-.4h0m0 .9h0m.2-.2h0m0-1.4h0m.2 1.5h0m.8-1.1h0m.1 1.2h0m0-.3h0m.2-2h0m.4 .4h0m.5-.8h0m1.1 .3h0m0 .1h0m1.6-.2h0m.1-.2h0m1 0h0m0 .9h0m1.7-.4h0m-5.3 2.5h0m-1.1 .2h0m0 .3h0m-1.2 .4h0m-.5-.5h0m-.1 .4h0m0-.5h0m-21.6 1.5h0m-.1-1.6h0m-1.9 0h0m-.4 2.5h0m-.9-.4h0m-.6-1.9h0m-10.1 1.5h0m-.8-.2h0m-.4 0h0m0 .5h0m-.9-1.5h0m-.1 .1h0m-.2 1.8h0m-1.9 0h0m-.1-2.5h0m-.3-.2h0m-.6 1.2h0m-.4 .9h0m-.1-1.2h0m-.4 1.3h0m-.5-1h0m-.1 1.6h0m-.7-.3h0m-.2-.3h0m-10.1-1.3h0m-1.3-.9h0m-.5 1.2h0m-2.3-.9h0m-2.1 1.8h0m-.2-1.2h0m-1.5-.7h0m-.4 2.4h0m-.7 0h0m-.6-.6h0m-.2-1.1h0m-.2-.1h0m-1 1.4h0m-.1-.9h0m-.1-.2h0m-.1 1.4h0m-.6-.2h0m-.9 .5h0m-.6-.2h0m-.8 2.3h0m.1-.6h0m1 .9h0m1.2-1.3h0m.3 .8h0m0 .6h0m.2-1h0m.3-.1h0m.6 .5h0m.1 0h0m.2 .2h0m.2-1h0m.4 .5h0m1.3 1h0m0-2.5h0m.5 1.3h0m1-.4h0m0 1.8h0m.4 .2h0m.3-.2h0m.1-1.9h0m.4 2.1h0m.3-2.8h0m1.3 0h0m.8 1.9h0m.1 .7h0m.4-2.1h0m.3 1.9h0m.7-1.4h0m.7 1.3h0m10.6-1.8h0m.5 .7h0m.1-1.1h0m.3 .4h0m.1 2.2h0m1.2-2h0m1.4 .4h0m.4 .1h0m.2 1.3h0m.8-.9h0m.4-1.5h0m.6 .6h0m.2 1.6h0m.5-.5h0m.3 0h0m.2-1h0m.6-.1h0m.3 .4h0m.3-.4h0m.6 1.5h0m.7-1.2h0m.9-.2h0m7.2-.2h0m.5 .2h0m.4-.6h0m.4 1.1h0m1.7 .1h0m.4-1.1h0m59.5 2.4h0m4.2 2.4h0m-1.6 .3h0m-1.2-.2h0m-.6-1.2h0m-1.3 .3h0m-.3-.8h0m-1.4 .9h0m-25.5 1.1h0m-7.2-1.6h0m-11.1 .6h0m-.4 .4h0m0 0h0m-26.1-1.2h0m-.3-.1h0m-.1 .1h0m-.3-.4h0m-1.2-.2h0m-.2 1.3h0m-.3 .7h0m-.1-.4h0m-.4-1.8h0m-.6 .1h0m-.3 1h0m0-.4h0m-1.2-.1h0m0 .8h0m-1.3 .3h0m-.3-.9h0m-.1-.8h0m-.5 .9h0m-.1-.4h0m-13.6 .3h0m-3.9-.5h0m-.6 2.6h0m-.5-1.7h0m-.9 1.5h0m-.3 0h0m-.3-1.9h0m-.3-.4h0m0 .8h0m-.1-1.1h0m-.1 2.4h0m-1.9-2.2h0m-.1 1.4h0m-.2-.4h0m-.6-1h0m4.6 2.9h0m.2 1.6h0m.2-.8h0m.7 .4h0m2.6-.5h0m17.4 1.6h0m.2-1.8h0m.3 1.8h0m.3-.6h0m.5 .5h0m.9-.9h0m20.8 1h0m8.2-.9h0m.4 .2h0m2.5 .9h0m13.7-.9h0m24.8-.6h0m1.1-.2h0m2.7 1.7h0m.1-.8h0m.6-.8h0m4.7 .9h0m.7 .3h0m3.4 3.4h0m-.8-.6h0m-.7 .3h0m-.2-1.5h0m-.3 .7h0m-.2 .9h0m-1.2-1.7h0m-.7 1.6h0m-.1-1.1h0m-1.2-1h0m-1.1 1.1h0m-.2 1.4h0m-1-.8h0m0-1.1h0m-.2 1h0m-.4-1.4h0m-2.4 2.4h0m-.6-.3h0m-1.7-.7h0m-.4 0h0m-49.9-1.6h0m-21.4 0h0m-.1 .6h0m-.4 .2h0m-.2-.6h0m-.8 .2h0m21.2 2.4h0m12.9 1.6h0m35.3 .4h0m1.3-.5h0m.7 .1h0m2.2 1h0m.4 .1h0m2-1.9h0m3 1.7h0m.5-2.5h0m.5 .2h0m.5 1.8h0m.6 .5h0m2.1-.7h0m.5-1.5h0m1.3 .9h0m2 4.6h0m-.2-.5h0m-1.3-1.8h0m-1.3 1.2h0m-.1 0h0m-2.1-.9h0m-.5 .5h0m-2 1.2h0m-.9-2.4h0m-1.7 1.8h0m-2-.9h0m0-.9h0m-.3 .8h0m-.5 1.1h0m-.7-.8h0m-2.6 .4h0m-.2-.9h0m-1.3 1.4h0m-3.4-1.8h0m-32.3 1.7h0m-27-.2h0m-6.3 1.2h0m.4 1.5h0m14 1.2h0m17.2-.7h0m25-.1h0m6.5 0h0m2 .8h0m.7-.4h0m.9 .5h0m.3-2.3h0m1.2-.3h0m1.5 1.5h0m1.7 .1h0m.2-.8h0m.3 1.4h0m.6-2.5h0m1.2 .1h0m1.2 .4h0m.2 1.7h0m.4-1.6h0m.3 1.8h0m1.1-.2h0m.4 .6h0m1.3-2.6h0m.2 2.1h0m5.2 .5h0m1-2.3h0m1.8-.5h0m.2 1.8h0m.2 .5h0m.8 1.9h0m-2.1 .9h0m-1.2-.2h0m-.7 .4h0m-1.6-1.6h0m-.1-.6h0m-.8 2h0m-1.4-1.4h0m-2.7-.1h0m-.3 .7h0m-1.7 0h0m-.8 .9h0m0 .1h0m-.3-.8h0m-.1-.3h0m-.1 1.6h0m-2.1-2.5h0m-.6 1.2h0m-.2 .9h0m-1-1.5h0m-.2 .5h0m-1.2-1.4h0m-1.7 2.1h0m-1.6-1.8h0m-1.1 1.7h0m-3.1-1.9h0m-9.2 2.4h0m-16.2-.5h0m-3.8-.2h0m-40.4 2h0m32.1 1.2h0m8.2 .3h0m13-1h0m1.4-.9h0m5.2 1.6h0m6.1-.7h0m.3 0h0m.6 .8h0m.8-1.5h0m.1 .1h0m1.7-.5h0m.1 2.1h0m.9-2.1h0m5.3 1.7h0m.6-1.4h0m.3 1.8h0m1.3-1.7h0m.1-.1h0m1.6 1.4h0m1.1-.8h0m.2 1.7h0m.4-2.2h0m2.5 1.8h0m1.5-.7h0m0-1.1h0m.5 .9h0m1.1-.9h0m.1 2.2h0m.2-1.1h0m.3 0h0m1.3-1.2h0m.4-.1h0m1 .2h0m.4 1.8h0m.7-2.1h0m1.1 .8h0m.4 1.8h0m.2-2.9h0m.8 .2h0m.5 2.5h0m0-2h0m.1 .7h0m1.3-.4h0m.5-.1h0m-2.8 4.8h0m-1 .2h0m-2.5-2.3h0m-2.8 1.5h0m-.4-.4h0m-.1 .8h0m-.9-1.5h0m-.2 1h0m-1.8 .3h0m-.4-1.9h0m-.1 1.3h0m-7.4 0h0m-1.1-1h0m-.1 1.7h0m-.4-2h0m-.3 0h0m-2.1 0h0m-1.3 .3h0m-1.9-.6h0m-24.8 2.1h0m-2.6-.2h0m-1.3-.1h0m-2.1-1.2h0m-4.1-.7h0m-5 3.5h0m.2 2.4h0m5.3 0h0m.1-1.3h0m25.1 .7h0m2.2-1.4h0m8.7 0h0m1 1.9h0m1-.8h0m0-.1h0m1.7 .8h0m.4-1h0m3.9 .7h0m.3-2.4h0m0 .6h0m.5 .7h0m.5 1.3h0m1.5-1.5h0m1.7 .1h0m.6 .9h0m.2-.8h0m.1-.8h0m2.4 .6h0m2.2-.3h0m.3 2.1h0m.1-1.8h0m2.6 .8h0m.5-.5h0m.1-.3h0m.1 1.3h0m0-.9h0m.3 .8h0m.3-.2h0m.4-.4h0m.1 .2h0m1.4-1.8h0m.3-.1h0m-1.8 3.3h0m-.5 1.9h0m-.2-1.6h0m-.1 1.1h0m-.6-.5h0m-1.5-.2h0m-.4 1.4h0m-1.6-1.9h0m-.1-.4h0m0 2.8h0m-.3-2.7h0m-.3 1.4h0m-.9 .9h0m-1.6-2.4h0m-.1 1.7h0m-1 0h0m-.3-1.5h0m-.6 2.3h0m-.5 .1h0m-.2 .2h0m-1.1-1.7h0m-3.2-.6h0m-.1 2.1h0m-.4-.5h0m-1.7-2.1h0m-.4 .6h0m-2.2-.6h0m-39.7 2.6h0m-4.1-2.4h0m-4.5 2.5h0m-15.5-1.4h0m-16.8 3.4h0m.7-.5h0m29.1-1.2h0m6.7 1.9h0m4.9-.7h0m41.3 1.3h0m2.2-.1h0m.9-1.9h0m.1 1.6h0m1-.9h0m2 .2h0m2.1 .9h0m.2 .3h0m.2-.8h0m2-1.2h0m.3 1.5h0m.7-1.6h0m.5-.4h0m.9 2.5h0m.8-.7h0m.7-.2h0m.2-.1h0m.3-.8h0m.5 1.8h0m.1-.7h0m1.2-.6h0m-3.8 3.4h0m-1.7 .9h0m-.2-2.6h0m0 .1h0m-.1 .1h0m-.2 1.4h0m-1.4-.1h0m-.8 1h0m-.6-2.4h0m-1.5 2.7h0m-1.8-1.4h0m-.4-.5h0m-.1 1.6h0m-.6-.7h0m-.3 .4h0m-2.6-1.4h0m-40 2h0m-8.5-.4h0m-.2-1.2h0m-1.9 .2h0m-7.9-.2h0m60.6 2.2h0m1.4-.2h0m1 .1h0m3.3 1.2h0m2.4-1h0m3.2 .7h0m-52 1.9h0m-2.8 1.9h0m-13.2-.3h0m-4.3-.5h0m-1.1 .4h0m-7.1 2.3h0m7.9 1.8h0m3.1-.3h0m12.6-.1h0m3 .5h0m1.5 1.8h0m-2 .9h0m-1.5-2.6h0m-1.6 0h0m-21.5 1.6h0m-.5-.2h0m-3-.9h0m-2.4 .2h0m-1.3 3.3h0m1-1h0m.4 2.6h0m11.4-1.7h0m4.5 .3h0m10.5 .6h0m1-1.8h0m7 .4h0m3.4 4.2h0m-5.4-.2h0m-4.4 1.3h0m-.5-2.2h0m-1.8 1.7h0m-5.1 .3h0m-2.4-.2h0m-3-1.5h0m-2.4 2.1h0m-.2-1.1h0m-1.4 0h0m-2.7 .2h0m-.8-.8h0m-4.1 .3h0m-1.7 2.1h0m5.2 .3h0m8-.6h0m5.5 .8h0m.3 .6h0m4.2 0h0m2.4 .6h0m7.2-1.8h0m1.1-.3h0m-3.3 3.2h0m-.8 .1h0m-14.9 1.3h0m-.7-1.5h0m-5.3 .4h0m-2.5 .2h0m-.5 .6h0m6 4.1h0m3.9-1.3h0m6.2 .1h0m1.4-1.3h0m-3.1 3.4h0m-4.5 .5h0m-2.1 1.5h0" stroke="#3faa35" stroke-width="1.2" stroke-linecap="square" fill="none"/>
<path d="M94.7 257.9h0m-3.1-2.1h0m-4.5 10.3h0m-.1 2.6h0m-5.4 1.3h0m43.1 4.5h0m-5.5 .8h0m-55.8-2h0m-.6-.1h0m-1.8 4.2h0m53.5-.2h0m2.9 .1h0m1.9 .7h0m.4-1.4h0m4.9 4.7h0m-7.5-2h0m-7.4 .5h0m-45.7-.4h0m-.1 1.6h0m-17.4 8.5h0m3.1-.3h0m2.6-.8h0m92.2 2.7h0m-94.5 .7h0m17.8 3.5h0m31.2 .2h0m46.7-.5h0m-6.1 3h0m-53.1 2.4h0m56.8-.1h0m-2 3.6h0m-.3-.7h0m-7.3 5.6h0m-68.2 5.9h0m64.8-1.4h0m15.4 3.2h0m-40.8 26h0m-30.1 3.1h0m11.7 7.8h0" stroke="#e5262a" stroke-width="1.2" stroke-linecap="square" fill="none"/>
<path d="M101.5 306.9h0m.9-.2h0m.2 1.1h0m.5-1h0m2.9 .8h0m-.7 1.7h0m-.1 .2h0m-.2 2.1h0m-1 0h0m-.7-1.6h0m-2.9 .3h0m-.2-1.2h0m-2.7 1.1h0m-4.5 2.5h0m.5 .7h0m.5-.7h0m.1 1.7h0m.2-.2h0m.7-2.2h0m.6 2.7h0m.2-.7h0m.9-1.6h0m5.7 .8h0m1.2-.4h0m1.3-.4h0m1 1.5h0m-4.6 2.6h0m-2.1 1.1h0m-2.7-1.6h0m-.5 .7h0m-1.7 1h0m-.4-1.5h0m-.5 1h0m-.7 .2h0m-.3-.5h0m-3.3 .1h0m-3.2 3.4h0m.3-.1h0m.1-1.2h0m1.4-.9h0m.9 1.7h0m7.3 1h0m1.4 3h0m-2.8-.1h0m-.1-.8h0m-2 .3h0m-.5-1.5h0m-2.8-.3h0m-1.7 .5h0m-3.8-.3h0m2.4 3.8h0m.3 .1h0m.2 1.1h0m2.4-1.3h0m1.5 1.5h0m.2-1.7h0m1.2 1.1h0m4.9-.1h0m.4-1.6h0m-.1 4.7h0m-1.3-1.9h0m-.9 1.6h0m-.1-1.4h0m-.2 1.6h0m-6.2-1.6h0m-.8 1.6h0m-.6-2h0m-4.6 2.6h0m-1.2-1.8h0m2 2.9h0m.5 1.3h0m2.7-.1h0m.8-.2h0m2.5-1.4h0m.6 1.6h0m1-.1h0m.5 .8h0m.1-1.7h0m.1-.4h0m1 1.6h0m.7 .5h0m1.3-.6h0m1.1-.5h0m-1.3 1.3h0m-.4 .7h0m-.9 0h0m-.5 1.6h0m-.4-1.7h0m-1 0h0m-2 .3h0m0-.8h0m-.1-.1h0m-3.3 1.7h0m-3.4-1.2h0m-.4 1.7h0m-.2-.3h0m-2.5-.5h0m-1.2-1.1h0m-8.7 4.2h0m7.4 1.3h0m2.8 .1h0m.2-1.5h0m2.2-.4h0m.2 0h0m2 1.9h0m1.5-1.7h0m4.1 1.1h0m1.2-1.3h0m4.5-.6h0m1.5 .8h0m1.2-.8h0m3.5 2.9h0m-1.3 .2h0m-.7-.4h0m-9.9 .3h0m-1.3 .4h0m-2.1 .4h0m-1.6 1.5h0m-.9-.8h0m-.2-.5h0m-3.9 .5h0m-.3-1.1h0m-.9-.7h0m-1.2 2.4h0m-.1-2.1h0m-5.1 .9h0m-2 .6h0m-1.4 .5h0m-1.9-.6h0m9.3 2.2h0m2 .9h0m.1-.7h0m2.7-.4h0m1-.4h0m1 .8h0m.9 .1h0m0 .1h0m1.7 .1h0m.1-1.3h0m0 1h0m4.5 .4h0m2.5-.7h0m.6 0h0m7.8-.1h0m1.4 1.3h0m2.7-2h0m.8 1.6h0m-5.3 1.6h0m-1.5 .5h0m-.6-.4h0m-2.9 2h0m-1-2h0m-3.3 1.9h0m-3.7-.8h0m-.4-1.1h0m-.2 .1h0m-1.1 .5h0m-1.1 1.6h0m-.6-1h0m-.2-.2h0m-.5 .2h0m-.2-1.1h0m-1.7 .7h0m-.3-.8h0m-3.2 .4h0m-1.2 .2h0m-6.8 .4h0m-2.7 .9h0m-1.2 0h0m-4.1-2.2h0m7.1 3.3h0m.1 .8h0m13.4 .1h0m3.1 .4h0m10 .9h0m-15 1h0m-8.5-.5h0m-1.6 5.1h0m4.3-2h0m6.4 2.9h0" stroke="#a9d3e6" stroke-width="1.2" stroke-linecap="square" fill="none"/>
<path d="M60.6 275h0m1.9 1h0m.2 2.9h0m.1-.9h0m1.9-1.5h0m46.1 6.7h0m-14.5 8.6h0m-8.5 7.4h0m-23.6 2.1h0m67.3 1.5h0m2.1-1.5h0m.8 .4h0m19.7 3.2h0m-23.4 .1h0m-5.1-.1h0m-27.6-1h0m-16 1.6h0m-21.5 2.8h0m22.8 .4h0m.1-2.5h0m10.8 0h0m61.3 5h0m-43.2 .3h0m-50.7-2.5h0m-1.3 1h0m56.2 2.2h0m39.2 2.8h0m-50.4 2.5h0m17.2 1.3h0m3.6-.6h0m3 2.5h0m25.2 .6h0m-36.6 .3h0m-18.8 2.3h0m-26.9 1.5h0m25.8 1.3h0m33.9-2h0m-83.4 2.3h0m87.1 3.4h0m-30.3 10.2h0m-.3-.9h0m-40.4-.7h0m-.3 1h0m-1.3 0h0m-.6 3h0m44.1 2.3h0m-7.3 4.1h0m4.7-1.4h0m-36.6 6.1h0m14 4.7h0m-5.2 2.7h0m4-.7h0" stroke="#f59a9e" stroke-width="1.2" stroke-linecap="square" fill="none"/>
<path d="M78.7 311.9h0m-5.9-.7h0m-9.8 .3h0m9.5 4.3h0m6 13.1h0m-3.7 3.7h0" stroke="#ffffff" stroke-width="1.2" stroke-linecap="square" fill="none"/>
<rect x="34.3" y="247.3" width="127.4" height="119.4" fill="none" stroke="#a9a9a9" stroke-width="0.7"/>
<path d="M34.3 252.2h-1.6M34.3 273.5h-1.6M34.3 294.8h-1.6M34.3 316h-1.6M34.3 337.3h-1.6M34.3 358.6h-1.6M51.6 366.7v1.6M75.4 366.7v1.6M99.3 366.7v1.6M123.2 366.7v1.6M147.1 366.7v1.6" stroke="#555" stroke-width="0.5" fill="none"/>
<text x="32.3" y="255.7" font-size="10" text-anchor="end" textLength="8.6" lengthAdjust="spacingAndGlyphs">15</text>
<text x="32.3" y="277" font-size="10" text-anchor="end" textLength="8.6" lengthAdjust="spacingAndGlyphs">10</text>
<text x="32.3" y="298.3" font-size="10" text-anchor="end" textLength="4.4" lengthAdjust="spacingAndGlyphs">5</text>
<text x="32.3" y="319.5" font-size="10" text-anchor="end" textLength="4.4" lengthAdjust="spacingAndGlyphs">0</text>
<text x="32.3" y="340.8" font-size="10" text-anchor="end" textLength="7.6" lengthAdjust="spacingAndGlyphs">-5</text>
<text x="32.3" y="362.1" font-size="10" text-anchor="end" textLength="11.8" lengthAdjust="spacingAndGlyphs">-10</text>
<text x="47" y="377.6" font-size="10" text-anchor="middle" textLength="11.8" lengthAdjust="spacingAndGlyphs">-10</text>
<text x="74" y="377.6" font-size="10" text-anchor="middle" textLength="7.6" lengthAdjust="spacingAndGlyphs">-5</text>
<text x="99.3" y="377.6" font-size="10" text-anchor="middle" textLength="4.4" lengthAdjust="spacingAndGlyphs">0</text>
<text x="123.3" y="377.6" font-size="10" text-anchor="middle" textLength="4.4" lengthAdjust="spacingAndGlyphs">5</text>
<text x="144.8" y="377.6" font-size="10" text-anchor="middle" textLength="11.8" lengthAdjust="spacingAndGlyphs">-10</text>
<circle cx="169.4" cy="259.9" r="2.7" fill="#3f80ba"/>
<text x="175.7" y="263.3" font-size="10" textLength="45.6" lengthAdjust="spacingAndGlyphs">GSE168737</text>
<circle cx="169.4" cy="272.2" r="2.7" fill="#3faa35"/>
<text x="175.7" y="275.6" font-size="10" textLength="63.3" lengthAdjust="spacingAndGlyphs">GSE178693_WT</text>
<circle cx="169.4" cy="284.6" r="2.7" fill="#e5262a"/>
<text x="175.7" y="288" font-size="10" textLength="45.6" lengthAdjust="spacingAndGlyphs">GSE200003</text>
<circle cx="169.4" cy="296.9" r="2.7" fill="#f58422"/>
<text x="175.7" y="300.3" font-size="10" textLength="45.6" lengthAdjust="spacingAndGlyphs">GSE211538</text>
<circle cx="169.4" cy="309.2" r="2.7" fill="#5e3a9c"/>
<text x="175.7" y="312.6" font-size="10" textLength="45.6" lengthAdjust="spacingAndGlyphs">GSE226809</text>
<circle cx="169.4" cy="321.5" r="2.7" fill="#b15e2c"/>
<text x="175.7" y="324.9" font-size="10" textLength="45.6" lengthAdjust="spacingAndGlyphs">GSE236349</text>
<circle cx="169.4" cy="333.9" r="2.7" fill="#a9d3e6"/>
<text x="175.7" y="337.3" font-size="10" textLength="79.6" lengthAdjust="spacingAndGlyphs">GSE247602_medulla</text>
<circle cx="169.4" cy="346.2" r="2.7" fill="#b3e28a"/>
<text x="175.7" y="349.6" font-size="10" textLength="68" lengthAdjust="spacingAndGlyphs">GSE247602_pons</text>
<circle cx="169.4" cy="358.6" r="2.7" fill="#f59a9e"/>
<text x="175.7" y="362" font-size="10" textLength="56.5" lengthAdjust="spacingAndGlyphs">Schwalbe et al.</text>
<path d="M16.9 357.7V372.6H32.3" stroke="#c4c4c4" stroke-width="0.7" fill="none"/>
<text x="10.5" y="359.5" font-size="10" text-anchor="middle" textLength="29.2" lengthAdjust="spacingAndGlyphs" transform="rotate(-90 10.5 359.5)" fill="#2a2a2a">UMAP2</text>
<text x="16.9" y="388" font-size="10" textLength="27.6" lengthAdjust="spacingAndGlyphs" fill="#2a2a2a">UMAP1</text>
<rect x="290" y="217.9" width="105.3" height="24.3" rx="5" fill="#fdfdf7" stroke="#a8a8a8" stroke-width="0.55" stroke-dasharray="3.4 0.7"/>
<text x="342.7" y="234.7" font-size="12.3" text-anchor="middle" textLength="27" lengthAdjust="spacingAndGlyphs">Strain</text>
<rect x="281" y="248.4" width="125.5" height="118" fill="#fff"/>
<path d="M281 253H406.5M281 274H406.5M281 295.1H406.5M281 316.1H406.5M281 337.2H406.5M281 358.2H406.5M297.3 248.4V366.4M321 248.4V366.4M344.7 248.4V366.4M368.4 248.4V366.4M392.1 248.4V366.4" stroke="#ececec" stroke-width="0.6" fill="none"/>
<path d="M281 263.5H406.5M281 284.6H406.5M281 305.6H406.5M281 326.6H406.5M281 347.7H406.5M285.5 248.4V366.4M309.1 248.4V366.4M332.9 248.4V366.4M356.5 248.4V366.4M380.2 248.4V366.4M403.9 248.4V366.4" stroke="#f3f3f3" stroke-width="0.4" fill="none"/>
<path d="M303 311.8 304 310.6 305.1 309.7 306.1 308.6 307.4 308.1 308.6 307.5 309.7 306.5 311.3 306.5 312.8 306.2 314.4 306 315.7 304.9 317.3 304.8 318.9 304.7 320.4 305.6 321.9 305.7 323.3 305.2 325 305.5 326.2 305 327.1 304.1 327.9 305 329.2 305.6 330.1 306.4 330.6 308 332 308.9 332.8 310.3 333.5 311.4 335.4 311.2 337.2 311.7 337.8 310.4 338.8 309.4 339.1 308 339.8 306.8 340.6 305.6 341.7 304.6 342.4 303.4 343.3 302.1 344.8 302.2 345.5 301.7 347 301.8 348.5 301.9 350.2 301.8 351 302.8 351.8 303.8 352.7 304.7 353.5 306.2 355 307 356.1 308.4 357.9 308.5 359.3 309.6 361.2 310.1 362.5 308.9 364 308.8 365.7 309.2 367.1 308.5 368.9 308.6 369.8 307.4 370.8 306.4 372.4 306.3 373.7 305.7 374.6 304.6 375.7 303.4 377.1 302.6 378.9 302 379.8 300.6 380.3 299 381.4 297.9 381.7 296.6 382.1 295.4 383.4 294.4 383.2 292.8 384.3 291.9 385 290.6 385.5 289.3 386.5 288.5 388.3 288.4 389.6 289.4 391.3 290 392.3 291.3 393.8 292.2 394.5 293.3 394.6 294.8 395.5 295.8 396.8 296.6 396.8 298.1 398.1 299.1 398.6 300.4 398.7 301.8 399.3 303 400.2 304.1 399.5 305.5 400.7 306.6 401 307.9 400.6 309.3 401.3 310.6 401.5 312 401.7 313.5 401.7 315 400.7 316.4 400.7 318.1 400 319.5 399.8 321.2 399.1 322.4 398 323.4 397.9 324.9 397.1 326.1 396.3 327.1 395.8 328.7 394.7 329.8 393 330.3 392.1 331.4 391.1 332.5 389.8 333.1 388.3 333 387.2 333.3 385.6 334.3 383.9 333.6 382.6 333.9 381.3 333.3 380.2 332.6 378.8 331.9 378.1 330.7 378.4 329 377 328.1 376.9 326.5 375.8 325.2 375.7 323.4 374.5 322.3 373.2 321.3 372.4 320.2 370.7 320 369.3 320.9 367.9 321.2 366.3 321.3 364.7 321.5 363.6 322.5 362.5 323.6 361 323.8 359.8 324.9 357.9 324.8 358.5 322.8 359.8 322.1 360.8 321 362.1 320.7 361.6 319.6 361.1 318.7 362.1 317.4 363.5 316.7 364.9 316.1 365.6 314.4 364 314.4 362.3 314.1 360.7 314.6 359.2 315.5 357.6 316 356.4 316.4 354.7 316 353.6 316.7 352.2 317 351.2 318.5 349.5 318.5 348.1 319.3 346.7 320.4 345.8 321.8 344.7 323.1 345.5 324.8 344.6 326.1 344.5 327.6 344.4 329.1 344.8 330.6 345.6 332 346.4 333.5 347.2 335.1 348.7 335.8 349.5 337.1 350.4 338.4 351.5 339.5 353.1 340.2 354 341.5 355.1 342.4 355.6 343.6 355.8 344.7 354.8 345.7 353.5 346.3 352.4 347.1 351.4 348.1 349.9 348 348.5 348.1 347.2 348.8 346.1 350 345 351.3 343.5 352 342.7 353.2 341.9 354.3 340.7 355 339.9 356.3 338.3 356.3 337.5 357.6 336 357.7 334.4 358.3 332.9 359 331.2 359 329.7 359.7 328.1 360 326.5 360.2 325.1 361.3 323.5 362 321.6 361.7 319.9 361.4 318.3 360.7 317 359.6 316.7 358.1 315.6 357.2 314.5 356.4 313.9 355 312.5 354.3 311.8 353 310.5 352.3 309.7 351.1 309 349.7 308.1 348.6 307.1 347.9 306.4 346.4 306.5 344.8 306.7 343.3 307.1 341.7 308 340.4 309.1 339.5 309.9 338.5 310.5 337.3 311.5 336.4 311.9 334.9 312.9 333.8 314.2 333 315.6 332.3 317 331.8 318.4 331.6 319.6 331.2 320.6 330.4 321.5 329.9 321.4 328.6 320.9 327.5 319.8 326.7 318.3 326.5 317.1 325.9 316.2 324.5 314.5 324.6 313.7 323.2 312.4 322.5 310.9 321.9 310.3 320.6 308.6 320.1 307.7 318.9 306.9 317.5 305.5 316.5 305.2 314.7 304 314 303.3 313ZM334.7 253 335.9 253.3 337.1 254 338.4 253.8 339.3 255.1 340.2 256.4 341.5 257.4 342.2 258.8 342.6 260.2 342.9 261.6 344.1 262.7 344.4 264.2 345.2 265.6 344.4 267.1 344.5 268.6 345.2 270.1 344.2 271.6 344.2 273 344.2 274.3 343.8 275.5 343.9 276.9 343.7 278.2 342.8 279.3 342.2 280.8 341 282 339.8 283.3 338.7 283.9 337.2 283.9 336 284.4 334.6 284.6 333.5 285.5 332.7 286.5 332.2 287.6 331.5 288.6 330.4 289.9 329 291.3 328 290.3 327.2 290.6 327.1 289.3 327.1 288 326.8 286.7 326.9 285.6 326.1 284.1 325.3 282.8 324.2 281.8 322.8 281.8 323.3 280.2 322.8 278.7 324 277.5 324.5 276 324.2 274.3 324.8 273.1 325.9 272 325.7 270.6 326.5 269.4 326 267.8 325.8 266.3 326.6 264.8 326.9 263.3 326.9 261.9 327.2 260.5 327.9 259.4 329.1 258.3 329.3 257.1 329.8 255.6 331 254.6 332.1 253.4 333.3 253ZM285 289.3 285.9 288.4 287 287.7 287.5 286.5 289.1 286 290.8 285.5 292.4 284.6 294.1 284.7 295.8 284.6 297.2 284.5 298.7 284.8 299.6 285.8 301 286.8 300.2 288.4 300.4 289.7 299.8 291.1 298.1 291.2 296.9 292.2 296.6 293.6 296 294.8 295.8 296.3 295 297.4 293.7 298 291.9 297.4 290.4 296.3 289.1 295.3 287.7 294.4 286.8 293 286.1 291.8 286 290.4ZM306.1 274.4 307.4 273.8 308.3 273.4 309.7 274 310.8 275 310.8 276.2 311.4 277.4 311.1 278.7 311.6 280.2 312 281.7 313.3 282.9 313.9 284.2 315 285.3 315.3 287.1 316.8 287.6 318.5 287.6 319.3 288.7 319.3 289.9 319.7 291 318.7 291.8 318 293 317.1 293.9 315.7 294.8 315.3 296.2 314.7 297.4 314.3 298.6 314 300.1 312.4 301.1 311.1 302.4 310.1 301.9 310.6 300.3 311.5 298.9 312.1 297.4 312.1 295.8 311.7 294.2 310.3 293.8 309.8 292.9 309.6 291.5 309.3 290.2 309 288.8 308.4 287.3 309 286.2 309.7 285.2 310 284.4 310.4 282.8 309.5 281.4 309.4 279.6 307.9 279.1 307.2 278 306.9 276.8 305.7 275.7ZM332.8 294.8 334.1 295 334.8 294.9 335.3 296.4 335.3 298 334.2 299.2 333.5 300.7 332.2 301.7 331.1 302.9 329.9 304 329 305.9 327.8 305.5 326.1 304.7 327.8 303.9 328.7 302.5 329 300.8 330.6 300 331.3 298.8 331.6 297.4 332.3 296.2ZM336.6 288.7 338.1 289.1 339.4 289.6 340.8 290.3 341.8 291.4 342.7 292.5 343.9 293.3 344.3 294.6 345 295.7 345.6 296.8 346.9 297.8 347.4 299.1 347.9 300.9 346.2 300.6 345.3 299.3 343.8 298.3 343.8 296.4 342.8 295.2 341.5 294.1 340.4 292.9 339 292.4 337.9 291.7 337.2 290.5ZM349.3 278.1 350.6 277.7 352 277.6 353 276.6 354.3 276.2 355.8 275.9 357.1 275.1 358.6 275 360.2 275.4 362.1 275.7 362 274.3 363 273.2 364.3 273.1 365.2 273.8 365.9 275 366.4 275.8 368.3 275.7 369.2 274.9 370.6 274.6 371.9 274.7 373.7 274.5 374.3 275.6 374.1 276.9 375 277.9 375.8 279.5 376.5 281.4 375.2 282.3 373.6 282.4 372.1 282.9 370.8 283.1 370 282.2 369.5 281 368.8 280 367.5 279.6 366.1 279.6 365 280.7 363.3 281.1 362.1 281.9 361 282.7 359.8 283.5 358.7 284.5 357.6 285.5 356.4 286.4 355.3 287.6 353.9 288.1 352.8 287.5 352.5 286.4 351.6 284.8 351.8 283.4 352.6 282 352.9 281.1 351.7 280.4 351 279.3ZM353.1 291.9 354.5 292.1 356 292.5 357.4 292 358.9 292.5 360.3 293.2 362.1 293.4 362.8 294.6 363.8 295.8 364.6 296.9 366.1 297.7 366.6 299.1 367.6 300.2 368.1 302 369.3 301.6 370.7 300.7 371.8 302.2 373.1 302.1 372.8 303.8 372.2 305.3 371.2 306.4 369.4 307 368.9 305.7 367.6 305.1 366.9 303.9 366.2 302.8 365.2 301.9 364.9 300.5 364 299.5 363.5 298.2 362.4 297.4 361.2 296.8 359.9 296.5 358.7 295.9 357.3 295.5 356 295 355.3 293.9 354.4 292.8ZM293 326.5 294.3 325.9 295.4 325.6 297 325.3 298.4 325.5 298 326.6 296.6 327.7 294.9 328 294 327.1Z" fill="#48ab34" stroke="#48ab34" stroke-width="0.7" stroke-linejoin="round"/>
<path d="M323.6 321.4h0.6v0.5h-0.6zM326.2 321.5h0.8v0.6h-0.8zM323.9 321.9h0.6v0.5h-0.6zM320.6 321.8h1.3v1h-1.3zM322.6 320.9h0.6v0.5h-0.6zM324.9 320.4h0.8v0.6h-0.8zM327.1 321.5h0.8v0.6h-0.8zM325.2 319.4h1.3v1h-1.3zM317.7 319.2h0.6v0.5h-0.6zM318.6 319.8h0.8v0.6h-0.8zM326.5 320.1h0.8v0.6h-0.8zM322.6 321.2h0.8v0.6h-0.8zM318.3 322.1h0.8v0.6h-0.8zM327.7 321.8h1v0.8h-1zM331.9 315.3h0.6v0.5h-0.6zM332.7 314.9h1v0.8h-1zM333.7 316h1v0.8h-1zM332.9 314.9h0.8v0.6h-0.8zM333.3 314.9h0.8v0.6h-0.8zM333.3 314.3h0.8v0.6h-0.8zM326.1 327.2h1v0.8h-1zM324.2 328.1h1v0.8h-1zM325.5 328h1v0.8h-1zM325.7 328.2h1v0.8h-1zM323.6 329.4h0.6v0.5h-0.6z" fill="#fff"/>
<path d="M331.4 262.3h0m-15.6 28.2h0m74.5 9.8h0m-81.5 8.6h0m64.3 2.3h0m-15 1.6h0m-7.6 3.3h0m-5.2 1.8h0m-1.2 3.6h0m-2.3 3.5h0m44.1 2.3h0m-48 2.8h0m-12.1 6.4h0m14.5 4.7h0m-25.9 .6h0m4.8 .6h0m29.2 2.6h0" stroke="#e5262a" stroke-width="1.1" stroke-linecap="square" fill="none"/>
<path d="M309.7 274.1h0m34.5 23.7h0m48.3 3.8h0m-17.4 11.2h0m15.2 .9h0m-75.3 1.3h0m13.4 12.8h0" stroke="#3f80ba" stroke-width="1.1" stroke-linecap="square" fill="none"/>
<rect x="281" y="248.4" width="125.5" height="118" fill="none" stroke="#a9a9a9" stroke-width="0.7"/>
<path d="M281 253h-1.6M281 274h-1.6M281 295.1h-1.6M281 316.1h-1.6M281 337.1h-1.6M281 358.2h-1.6M297.3 366.4v1.6M321 366.4v1.6M344.7 366.4v1.6M368.4 366.4v1.6M392.1 366.4v1.6" stroke="#555" stroke-width="0.5" fill="none"/>
<text x="278" y="256.5" font-size="10" text-anchor="end" textLength="8.6" lengthAdjust="spacingAndGlyphs">15</text>
<text x="278" y="277.5" font-size="10" text-anchor="end" textLength="8.6" lengthAdjust="spacingAndGlyphs">10</text>
<text x="278" y="298.6" font-size="10" text-anchor="end" textLength="4.4" lengthAdjust="spacingAndGlyphs">5</text>
<text x="278" y="319.6" font-size="10" text-anchor="end" textLength="4.4" lengthAdjust="spacingAndGlyphs">0</text>
<text x="278" y="340.6" font-size="10" text-anchor="end" textLength="7.6" lengthAdjust="spacingAndGlyphs">-5</text>
<text x="278" y="361.7" font-size="10" text-anchor="end" textLength="11.8" lengthAdjust="spacingAndGlyphs">-10</text>
<text x="293.1" y="376.6" font-size="10" text-anchor="middle" textLength="11.8" lengthAdjust="spacingAndGlyphs">-10</text>
<text x="319.4" y="376.6" font-size="10" text-anchor="middle" textLength="7.6" lengthAdjust="spacingAndGlyphs">-5</text>
<text x="344.7" y="376.6" font-size="10" text-anchor="middle" textLength="4.4" lengthAdjust="spacingAndGlyphs">0</text>
<text x="369" y="376.6" font-size="10" text-anchor="middle" textLength="4.4" lengthAdjust="spacingAndGlyphs">5</text>
<text x="390.9" y="376.6" font-size="10" text-anchor="middle" textLength="11.8" lengthAdjust="spacingAndGlyphs">-10</text>
<circle cx="413" cy="285" r="2.7" fill="#3f80ba"/>
<text x="420" y="288.4" font-size="10" textLength="37.7" lengthAdjust="spacingAndGlyphs">B6SJL-Tg</text>
<circle cx="413" cy="297.9" r="2.7" fill="#3faa35"/>
<text x="420" y="301.3" font-size="10" textLength="37.2" lengthAdjust="spacingAndGlyphs">C57BL/6J</text>
<circle cx="413" cy="310.7" r="2.7" fill="#e5262a"/>
<text x="420" y="314.1" font-size="10" textLength="36.5" lengthAdjust="spacingAndGlyphs">C57BI6/N</text>
<rect x="489.4" y="213.6" width="119.2" height="30.4" rx="5" fill="#fdfdf7" stroke="#a8a8a8" stroke-width="0.55" stroke-dasharray="3.4 0.7"/>
<text x="548.5" y="233.6" font-size="12.3" text-anchor="middle" textLength="95.8" lengthAdjust="spacingAndGlyphs">Sequencing platform</text>
<rect x="487.1" y="247.2" width="123.7" height="118.6" fill="#fff"/>
<path d="M487.1 252.3H610.8M487.1 273.4H610.8M487.1 294.5H610.8M487.1 315.7H610.8M487.1 336.8H610.8M487.1 357.9H610.8M504.1 247.2V365.8M527.6 247.2V365.8M551.1 247.2V365.8M574.6 247.2V365.8M598.1 247.2V365.8" stroke="#ececec" stroke-width="0.6" fill="none"/>
<path d="M487.1 262.9H610.8M487.1 284H610.8M487.1 305.1H610.8M487.1 326.2H610.8M487.1 347.3H610.8M492.4 247.2V365.8M515.9 247.2V365.8M539.4 247.2V365.8M562.9 247.2V365.8M586.4 247.2V365.8M609.9 247.2V365.8" stroke="#f3f3f3" stroke-width="0.4" fill="none"/>
<path d="M508.7 310.9 509.8 309.7 510.9 308.8 511.8 307.7 513.1 307.2 514.3 306.6 515.4 305.6 517 305.5 518.5 305.3 520 305.1 521.3 304 522.9 303.9 524.5 303.8 525.9 304.7 527.4 304.7 528.8 304.2 530.4 304.6 531.6 304.1 532.5 303.2 533.4 304.1 534.6 304.7 535.5 305.5 536 307.1 537.4 308 538.2 309.4 538.8 310.5 540.7 310.3 542.5 310.8 543.1 309.5 544.1 308.5 544.4 307.1 545.1 305.9 545.9 304.7 546.9 303.7 547.7 302.5 548.5 301.2 549.9 301.3 550.7 300.8 552.2 300.9 553.6 301 555.3 300.9 556.1 301.8 556.9 302.9 557.8 303.7 558.5 305.3 560 306.1 561.1 307.6 562.9 307.6 564.3 308.7 566.1 309.2 567.4 308 568.9 307.9 570.6 308.3 572 307.6 573.7 307.7 574.6 306.5 575.6 305.5 577.2 305.4 578.5 304.8 579.4 303.7 580.5 302.5 581.9 301.7 583.6 301.1 584.5 299.7 585 298 586.1 297 586.4 295.7 586.8 294.4 588 293.4 587.8 291.8 588.9 290.9 589.6 289.6 590.1 288.3 591.1 287.5 592.8 287.4 594.1 288.4 595.8 289 596.8 290.3 598.3 291.3 599 292.4 599.1 293.9 600 294.8 601.2 295.7 601.3 297.2 602.6 298.1 603 299.5 603.1 300.9 603.7 302.1 604.6 303.2 603.9 304.6 605.1 305.7 605.3 307 605 308.4 605.7 309.7 605.9 311.1 606.1 312.6 606 314.1 605.1 315.6 605.1 317.2 604.4 318.7 604.2 320.3 603.5 321.6 602.4 322.6 602.3 324.1 601.6 325.3 600.7 326.3 600.2 327.9 599.2 329 597.5 329.5 596.6 330.6 595.6 331.7 594.4 332.3 592.9 332.3 591.7 332.6 590.2 333.5 588.5 332.8 587.2 333.1 586 332.5 584.9 331.8 583.5 331.1 582.8 329.9 583.1 328.2 581.7 327.3 581.6 325.6 580.5 324.4 580.4 322.6 579.2 321.5 577.9 320.4 577.2 319.4 575.5 319.1 574.2 320.1 572.7 320.4 571.2 320.5 569.6 320.7 568.5 321.7 567.4 322.8 565.9 323 564.8 324 562.9 324 563.4 322 564.8 321.3 565.8 320.1 567 319.9 566.6 318.8 566.1 317.8 567 316.5 568.4 315.8 569.8 315.3 570.5 313.5 568.9 313.6 567.3 313.2 565.7 313.7 564.1 314.6 562.6 315.1 561.4 315.6 559.8 315.2 558.6 315.9 557.3 316.1 556.3 317.6 554.6 317.7 553.3 318.5 551.8 319.5 551 321 549.9 322.3 550.6 323.9 549.8 325.3 549.7 326.8 549.6 328.3 550 329.8 550.8 331.3 551.5 332.7 552.3 334.3 553.8 335 554.6 336.4 555.5 337.6 556.6 338.8 558.2 339.4 559.1 340.8 560.1 341.6 560.6 342.8 560.8 344 559.9 345 558.6 345.6 557.4 346.4 556.4 347.4 555 347.3 553.6 347.4 552.4 348.1 551.2 349.3 550.2 350.6 548.7 351.4 547.9 352.5 547.1 353.6 546 354.3 545.2 355.7 543.6 355.7 542.8 357 541.3 357.1 539.8 357.7 538.3 358.4 536.6 358.4 535.1 359.1 533.5 359.4 531.9 359.5 530.6 360.7 529 361.4 527.2 361.1 525.5 360.7 523.9 360.1 522.6 359 522.3 357.5 521.2 356.6 520.1 355.7 519.6 354.4 518.1 353.7 517.5 352.4 516.2 351.6 515.4 350.4 514.7 349.1 513.8 347.9 512.9 347.2 512.2 345.7 512.2 344.1 512.5 342.6 512.8 341 513.7 339.7 514.8 338.8 515.6 337.7 516.2 336.6 517.1 335.7 517.6 334.1 518.5 333 519.8 332.2 521.2 331.6 522.6 331.1 524 330.8 525.2 330.4 526.2 329.6 527 329.1 526.9 327.8 526.4 326.7 525.3 325.9 523.9 325.7 522.6 325.1 521.8 323.7 520.1 323.8 519.3 322.4 518 321.7 516.6 321.1 516 319.7 514.3 319.2 513.4 318.1 512.7 316.6 511.3 315.6 511 313.9 509.8 313.1 509.1 312.2ZM540 251.8 541.2 252.2 542.4 252.8 543.7 252.6 544.6 253.9 545.5 255.2 546.8 256.2 547.4 257.7 547.8 259.1 548.1 260.5 549.3 261.6 549.6 263.1 550.3 264.5 549.5 266 549.7 267.5 550.4 269 549.3 270.5 549.4 271.9 549.3 273.2 549 274.5 549.1 275.9 548.9 277.2 548 278.2 547.4 279.8 546.2 280.9 545.1 282.2 543.9 282.9 542.5 282.9 541.3 283.3 539.9 283.6 538.8 284.5 538.1 285.5 537.6 286.6 536.8 287.6 535.8 288.9 534.4 290.3 533.4 289.3 532.6 289.6 532.6 288.3 532.6 287 532.3 285.7 532.4 284.6 531.5 283 530.7 281.8 529.7 280.8 528.3 280.8 528.8 279.2 528.3 277.6 529.5 276.4 530 274.9 529.7 273.2 530.3 272 531.3 270.9 531.1 269.6 532 268.4 531.5 266.7 531.3 265.1 532 263.6 532.3 262.2 532.3 260.7 532.6 259.4 533.3 258.2 534.5 257.2 534.7 255.9 535.2 254.4 536.3 253.5 537.4 252.2 538.6 251.8ZM491 288.3 491.9 287.4 493 286.7 493.5 285.5 495.1 285 496.8 284.5 498.3 283.6 500 283.7 501.6 283.6 503.1 283.5 504.6 283.8 505.4 284.8 506.8 285.8 506 287.4 506.2 288.8 505.6 290.1 503.9 290.2 502.8 291.2 502.5 292.6 501.9 293.8 501.7 295.4 500.9 296.4 499.6 297 497.8 296.5 496.3 295.4 495.1 294.3 493.7 293.4 492.8 292 492.2 290.8 492 289.4ZM511.8 273.3 513.1 272.7 514 272.4 515.4 273 516.5 273.9 516.5 275.2 517 276.4 516.8 277.7 517.2 279.2 517.6 280.7 518.9 281.8 519.5 283.2 520.6 284.3 520.9 286.1 522.4 286.6 524.1 286.6 524.8 287.7 524.8 288.9 525.2 290 524.2 290.9 523.6 292.1 522.7 292.9 521.3 293.9 520.9 295.3 520.4 296.5 519.9 297.7 519.6 299.2 518 300.1 516.7 301.4 515.8 300.9 516.3 299.3 517.1 298 517.8 296.4 517.7 294.8 517.3 293.3 516 292.8 515.4 292 515.3 290.6 515 289.2 514.7 287.8 514.1 286.3 514.7 285.2 515.3 284.2 515.7 283.4 516 281.7 515.2 280.4 515.1 278.6 513.6 278.1 512.9 277 512.6 275.8 511.5 274.7ZM538.2 293.9 539.4 294 540.1 293.9 540.7 295.5 540.6 297 539.5 298.2 538.9 299.7 537.6 300.8 536.4 302 535.3 303.1 534.4 305 533.2 304.5 531.6 303.8 533.2 302.9 534.1 301.5 534.4 299.8 536 299.1 536.7 297.8 537 296.5 537.6 295.2ZM541.9 287.7 543.4 288.1 544.6 288.6 546 289.3 547 290.4 547.9 291.5 549.1 292.3 549.5 293.6 550.2 294.7 550.8 295.9 552.1 296.8 552.5 298.2 553 300 551.4 299.7 550.4 298.4 549 297.4 549 295.4 548 294.2 546.7 293.2 545.6 291.9 544.3 291.5 543.2 290.7 542.5 289.5ZM554.4 277 555.7 276.6 557.1 276.5 558.1 275.6 559.4 275.1 560.8 274.8 562.1 274 563.6 273.9 565.1 274.4 567 274.7 566.9 273.2 568 272.1 569.2 272 570.1 272.8 570.8 274 571.3 274.8 573.1 274.6 574 273.8 575.4 273.6 576.7 273.6 578.4 273.4 579 274.5 578.9 275.9 579.8 276.8 580.5 278.5 581.3 280.4 580 281.2 578.4 281.4 576.9 281.9 575.7 282.1 574.8 281.2 574.3 280 573.6 279 572.3 278.6 571 278.6 569.9 279.7 568.2 280 567.1 280.9 565.9 281.7 564.7 282.5 563.7 283.4 562.6 284.5 561.4 285.4 560.3 286.6 559 287.1 557.9 286.5 557.6 285.4 556.7 283.8 556.9 282.3 557.7 281 557.9 280.1 556.8 279.3 556.1 278.3ZM558.2 291 559.6 291.1 561 291.5 562.4 291 563.8 291.6 565.3 292.2 567 292.4 567.7 293.7 568.7 294.8 569.5 295.9 571 296.8 571.5 298.2 572.5 299.3 572.9 301.1 574.1 300.7 575.5 299.7 576.6 301.2 577.9 301.2 577.6 302.9 577 304.4 576 305.5 574.2 306.1 573.8 304.8 572.4 304.2 571.8 303 571.1 301.9 570.1 300.9 569.8 299.6 568.9 298.6 568.5 297.3 567.3 296.4 566.1 295.9 564.8 295.6 563.7 295 562.3 294.5 561 294.1 560.4 292.9 559.5 291.8ZM498.9 325.7 500.2 325.1 501.3 324.8 502.8 324.5 504.2 324.7 503.8 325.8 502.5 326.9 500.8 327.2 500 326.3Z" fill="#41ac36" stroke="#41ac36" stroke-width="0.7" stroke-linejoin="round"/>
<path d="M529.1 320.6h0.6v0.5h-0.6zM531.6 320.7h0.8v0.6h-0.8zM529.4 321h0.6v0.5h-0.6zM526.1 320.9h1.3v1h-1.3zM528.1 320.1h0.6v0.5h-0.6zM530.3 319.6h0.8v0.6h-0.8zM532.5 320.6h0.8v0.6h-0.8zM530.7 318.6h1.3v1h-1.3zM523.2 318.4h0.6v0.5h-0.6zM524.2 319h0.8v0.6h-0.8zM532 319.2h0.8v0.6h-0.8zM528.1 320.4h0.8v0.6h-0.8zM523.9 321.2h0.8v0.6h-0.8zM533.1 321h1v0.8h-1zM537.3 314.4h0.6v0.5h-0.6zM538 314.1h1v0.8h-1zM539 315.1h1v0.8h-1zM538.2 314h0.8v0.6h-0.8zM538.7 314h0.8v0.6h-0.8zM538.7 313.5h0.8v0.6h-0.8zM531.6 326.4h1v0.8h-1zM529.6 327.3h1v0.8h-1zM531 327.2h1v0.8h-1zM531.1 327.4h1v0.8h-1zM529.1 328.6h0.6v0.5h-0.6z" fill="#fff"/>
<path d="M536.4 254.6h0m.4 .3h0m.8-2.1h0m.2 1h0m.1-1.3h0m.1 1.1h0m.4-1.2h0m.3 .2h0m.1 1.1h0m1.5-1.6h0m.5 .6h0m.2 .5h0m.1 .2h0m1.1-1h0m.2 .3h0m.4 1.4h0m.1-.3h0m.1-.4h0m0 1.1h0m.5-1.1h0m0 1h0m2.2 3.3h0m-.3-2.2h0m-.5 .9h0m-.2-.4h0m-.1-.8h0m-.3-.2h0m-.6 1.7h0m-1-1.1h0m-.8 2.1h0m-.2-1.5h0m-.8 .2h0m-1.9 .7h0m-.1 .6h0m-.7-1h0m-.3 .8h0m-.9-2.5h0m-.2 1.7h0m-1.1 .6h0m-.3-2h0m-.1 2.1h0m0-1.2h0m-.2-.1h0m-1.2 4h0m.1-.5h0m.1 .8h0m.2-1.3h0m0 1.6h0m.1-.9h0m.1-1.2h0m.3-.4h0m.1 1.2h0m.1-1.2h0m4.3-.1h0m.3 2.7h0m.3-1.2h0m.1-.7h0m.2 .2h0m.2 .5h0m2.8 .7h0m.4-.9h0m.4 .9h0m0-.4h0m.8 .5h0m.2-2.2h0m.1 1.8h0m1.5-2h0m.2 1.8h0m.1-.2h0m.1 .4h0m.1-.4h0m.7-.4h0m1.5 4.6h0m-.6-1.2h0m-.8-1.4h0m-.5-.1h0m-.5 1.2h0m-.8 .6h0m-1.8-.4h0m-.3-.2h0m-.9 .4h0m-.4 .4h0m-.1-1.7h0m-1.7 1h0m-4-.1h0m-2-1.1h0m-1.1 .6h0m-.4 .9h0m-.5-1.2h0m-.4-.1h0m-.3 1.6h0m-.4 3.4h0m1.6-2.1h0m2.7-.1h0m.7 2.2h0m.1 .3h0m.3-1.6h0m.6-.9h0m.6 .9h0m2 .6h0m.4-1.2h0m2.3 2.2h0m.8-2.3h0m1.4 .1h0m.2 1.2h0m1.1 1h0m1.1-2.4h0m.7 2h0m.4-.7h0m.6 .7h0m0 3h0m-.1 .4h0m-.1-2.1h0m0 1.7h0m-.2-1h0m-.3 .4h0m0-1.2h0m-.1 1.8h0m-.2 .1h0m-.5 .1h0m-.8-1.8h0m-2.4 1.1h0m-.4 .1h0m-.8 0h0m-1.7-.7h0m-.3 1.6h0m-2.6-2.5h0m-.6 1.1h0m-1.1-1.1h0m-1.6 1.9h0m-.6-2.1h0m-2.8 2.2h0m-.2-2.2h0m-.3 .9h0m-18.6 4.9h0m1.3-.7h0m19.1-.1h0m2.1-.6h0m2.7-1h0m.3 2.4h0m.2-2.9h0m.8 1.6h0m.1-1h0m.2-.6h0m1 2.3h0m.9-.2h0m0-.6h0m.2 .4h0m.8-.5h0m.2-.3h0m.3 1.1h0m1.4-.5h0m0 1.2h0m1-.3h0m.2-1.7h0m.1-.1h0m1.1 2h0m.7-.8h0m.6-.6h0m.3-.4h0m.2 1.1h0m.2-.6h0m.6-.2h0m28.5 4.2h0m-.5-1.3h0m-.7 .1h0m0 .1h0m-.5-.5h0m-.1 .2h0m-.2 1.6h0m-.1 .2h0m-.1-2.4h0m-.1 .1h0m-.4 .7h0m0 .4h0m-.4-.5h0m-.2 .1h0m-.2-.1h0m-.9 1.2h0m-.7-.7h0m-.9 .4h0m-1 .6h0m-.6-1.2h0m-.2 .4h0m0-.1h0m-.1 1h0m-.2-2.2h0m0 2.3h0m-.1-1.4h0m-.2 .1h0m-.2 .4h0m0 .3h0m-.1-.1h0m-.3 .7h0m-.2 0h0m-.1-1.8h0m-.2 0h0m-1.5 1.1h0m-.3-.7h0m-1.6 1h0m-1.5-1.1h0m-.4 0h0m-.1 .3h0m-1.9 .1h0m-.9 .4h0m0 .7h0m-1.5-.4h0m-9.8-1.5h0m-.6-.7h0m0 2.5h0m-.2-1.5h0m-.4 .3h0m-.2-.2h0m-.1 .7h0m0-1h0m-.8-1h0m-.4 1h0m-.4 .1h0m-.2-.8h0m0 .2h0m-.1 0h0m-.1 .1h0m-.4 .4h0m-.2 .8h0m-.5-1h0m-.2-.3h0m-.8 1.6h0m0 .4h0m-.2-2.1h0m-1.2 1.3h0m0-1.3h0m-1.7 .9h0m0 .4h0m-.7-1.8h0m-.4 2.3h0m-.2-1h0m-.1-.2h0m-3.3-1.1h0m-2.1 1h0m-1.2-.7h0m-.3 1.1h0m-2.2 .4h0m-13.5 1.1h0m-.6-2.2h0m-.3-.4h0m-.3-.3h0m-.4 0h0m-.1 0h0m0 .6h0m-.3 .9h0m0 1.2h0m-.1-1.6h0m-.4 .1h0m-.2-.2h0m-.1 .3h0m-.4 1.6h0m-.1-1.7h0m-.4 0h0m-.1 .9h0m-.5 .3h0m-.1-2.1h0m.4 2.8h0m.3 .2h0m.2 .8h0m.2-.6h0m.5 1.4h0m.3-.3h0m.1-.7h0m.1 0h0m.5-.6h0m0 2.3h0m.1-1.5h0m0 .8h0m0-.2h0m.1 0h0m.1-1.1h0m.4 .2h0m0 .3h0m.7-.6h0m.3 1h0m0-.6h0m0 .7h0m.2-1.4h0m.1 1.6h0m.1 1h0m.2-.6h0m11.5 .6h0m.4-1.1h0m.1-1.1h0m3.6-.2h0m1.6 1.7h0m.3 .1h0m2.3 .3h0m1 0h0m.1 .3h0m1.2-1.1h0m.7-.8h0m.3 .4h0m.5 .1h0m.8-.1h0m1.1 .8h0m0-1h0m.3 .4h0m.5-.2h0m.5 .9h0m.6-1.7h0m0 .3h0m.4-.1h0m.4-.3h0m.1 .9h0m.4-.5h0m.6 1.1h0m.1-1.4h0m.2 1.3h0m0 .7h0m.3-1.3h0m0-.5h0m.3 1.7h0m.4-1.5h0m0 .8h0m.6 0h0m.2-1.2h0m6.3 .8h0m1.3-.7h0m.5 .8h0m.1 .4h0m.1-.3h0m.2-1.2h0m.2 .7h0m0 1.9h0m.2-1.4h0m.5 .7h0m.3 .7h0m.4-.2h0m.2-1.7h0m.6 1.7h0m.2-1.7h0m.2-.7h0m.3 2.1h0m0-.4h0m1 .7h0m0-.2h0m.1-.8h0m.2-1.6h0m.5 0h0m.2 .4h0m0 1.5h0m.5-1.4h0m0 .7h0m.2 .2h0m.3 1.3h0m0-.5h0m.1 .1h0m.5-.1h0m0-.1h0m.3-1.3h0m.9-.6h0m.2 .6h0m.1 1.1h0m.9 .8h0m.8-1.9h0m.3 1.2h0m.2-1h0m.1 .7h0m.1-.9h0m0 .5h0m.3-.4h0m0 1.8h0m.2-2h0m0 .7h0m0 1.4h0m.3-.6h0m.1-.5h0m.7 .3h0m.2 .8h0m.2-.2h0m.3-2.1h0m.1-.5h0m.1 .2h0m1.6 1.9h0m.6-.2h0m.2-.8h0m.1 1.3h0m.5-2.2h0m.2 2.5h0m.4-2.1h0m.3-.4h0m.1 1.2h0m.1-.3h0m.3 0h0m.1 .9h0m.5 .8h0m.1-.2h0m1.5 0h0m.6 .2h0m.1-2.4h0m.2 1.5h0m.4-1.7h0m.6 0h0m0 1.9h0m.3-.4h0m0 1.1h0m.5-2h0m.5 1.9h0m.8 .5h0m-.4 .6h0m0-.2h0m-1.2-.7h0m-.1 2h0m-.2-.4h0m-.1 0h0m-.7-.4h0m-.5-1.1h0m-.1 2.2h0m-.1-1.5h0m-.2-.7h0m-.4 .9h0m-.3 .1h0m-.4-.3h0m-1.1 1.2h0m0-2h0m-.6 .1h0m-6.2 1.1h0m-.5-1.2h0m-1 1.9h0m-1.2-.7h0m-.1 1.1h0m-.2 .1h0m-.1-1.1h0m-.2 .7h0m-.2-.7h0m-.8 1.5h0m-.2-2.4h0m-.2 1.3h0m-.4 .3h0m-.1-.4h0m-.1 1.3h0m-.1-2.8h0m-.4 2.2h0m-.4 .1h0m-.4-.8h0m-.1-.5h0m-.5 .1h0m-.4-.7h0m-.1 1.1h0m-.3 1.2h0m-.3-1.9h0m-.4-.6h0m-.2 .5h0m0-.1h0m-.5-.4h0m-.1-.3h0m-.2 0h0m-.1 .8h0m0 2.1h0m-1 0h0m-10.5-2.1h0m0-.2h0m-.2 .5h0m-.9 .9h0m-.7-1.2h0m-.1 1.8h0m-.1-.1h0m0-.7h0m0 1.1h0m-.2-.8h0m-.1-1.3h0m-.3 1.2h0m0-1.6h0m-.1-.1h0m-.2 .2h0m-.4 2.3h0m-.2-1.6h0m-.1 1.3h0m-1-.6h0m-1.3-1.2h0m-.5-.4h0m0 2.1h0m-.4-1.8h0m0 1.7h0m-.2-1.8h0m-.1 .5h0m-1.1-.6h0m-1.2 .8h0m-2 .5h0m-1.5 1.1h0m-1.4-1.8h0m-1 1.7h0m-13.1 .2h0m-.5-.2h0m-.2-.5h0m-.4 .4h0m-.8-1.3h0m-.3-.4h0m-.6 .5h0m-17.9 4.5h0m.2-.2h0m.1 .2h0m2.2-.9h0m.3 .5h0m.1-.2h0m.4-.7h0m.1 .4h0m.4 .1h0m.7-.4h0m.4 1.1h0m.7-.7h0m.3 .2h0m.3-.5h0m12.8-1.3h0m.2-.5h0m.7 .3h0m15.6 .1h0m2.9-.1h0m.4 1.4h0m0-.3h0m.2-.1h0m.2-.5h0m.3-.5h0m1.1 1h0m.1-.7h0m.9-.1h0m.5 .2h0m.9-.1h0m3.5-.5h0m12.7-.1h0m.3 1.3h0m.6 .4h0m.7-1h0m.6 1.8h0m.2-2.2h0m.3 .4h0m0 .8h0m.3-1.1h0m.4 2.4h0m.5-2.3h0m.1-.3h0m.3 0h0m.2 .7h0m.4 1h0m.3 .1h0m.7-2h0m.3 1.2h0m.6 0h0m.1-.4h0m1-.1h0m.7-.4h0m-5.5 3.6h0m-.8-.9h0m0 .3h0m-.5 .6h0m-.2-.7h0m-.1 .2h0m-.3 .3h0m-.6 0h0m0-.5h0m-23.3 2.3h0m-.8-1h0m0 .6h0m-.9 .3h0m-11.6-1.9h0m-.7 2.3h0m-4.5-.6h0m-9.4 0h0m-.1 .1h0m0 .1h0m-.5-1.6h0m0-.1h0m-.4 1.2h0m-.2-1.4h0m-.3 1.7h0m-.3-.2h0m-.1-2h0m-1 .5h0m-.1 .6h0m-1.4 .9h0m-.2-1.9h0m-.5 2.5h0m-.6-.3h0m-.2-2.2h0m-.2 .5h0m-.6 1.3h0m-.1-1.7h0m0 .4h0m-.2-.2h0m-2.7 .9h0m-.6-.7h0m-.2 .2h0m-.2-.5h0m-.2 .6h0m-.4 1h0m-.2 .1h0m-.1-1.1h0m0-.2h0m-.6 1.3h0m-.3 0h0m-.2-.4h0m-.4 .9h0m-.4-1h0m-.1 .8h0m-.1-.2h0m-.7 1.9h0m0 .6h0m.3-.9h0m.2 0h0m.7 2.2h0m.9 0h0m.4-.9h0m1-.6h0m.1 0h0m.4 1.3h0m.4-1.6h0m.2 .8h0m.2-1.2h0m1.8 1.7h0m.8-2.4h0m.5 .5h0m.4 2h0m.1 0h0m.1-.9h0m1.7-.8h0m.1 1.3h0m.3-.5h0m.2 .7h0m.9-1h0m.1 .7h0m.3-1.3h0m0 0h0m0 1.6h0m.7-.2h0m.6-1.1h0m11.2 .9h0m1.8 .7h0m.8-1.3h0m.6 .2h0m.1-.2h0m1-.9h0m14.8 .2h0m6.7-.1h0m.2-.2h0m.5 1.5h0m.3-.9h0m.7-.8h0m.1 1.6h0m.2 .4h0m.6 .5h0m.2-.5h0m.1 0h0m1.6 .7h0m43.5-1.5h0m.1-.5h0m.5 .6h0m.1 0h0m.6 .6h0m.3-1h0m.1 1.5h0m0-.9h0m.3-.9h0m.5 .9h0m.3-.3h0m.1 .7h0m.1 .8h0m.1-.4h0m.1-.5h0m.9 .9h0m.1-2h0m1.2 1.7h0m1.1 .3h0m2.3 2.4h0m-.3-.2h0m-.6-1.3h0m-.1 1.8h0m-.2-.2h0m-.3-1.5h0m0 .3h0m-.2 .7h0m-.1 .2h0m-1.1-.5h0m-.1 .5h0m-.2 .1h0m-.4-1.5h0m-.2 .5h0m-.5-.5h0m-.1 1.3h0m-.2-1.6h0m-1.4 .6h0m0 2h0m-.3-1.9h0m-.3-.8h0m-.1 .3h0m-.1 .9h0m-.2-1.1h0m-.9 .8h0m-.8 1.3h0m-.1 .2h0m-.1-1.7h0m-.8-.5h0m-.2 1.2h0m-.1 .8h0m-.1-2h0m-.2 0h0m0 1.3h0m-.4-.6h0m-.4 1.8h0m-20.6-.6h0m-.5-.3h0m-.5 .2h0m-.3-.5h0m-.5-.4h0m-.1 .1h0m-.7 1h0m-.2-1h0m-.2 .1h0m0 1.2h0m-.2-1h0m-.3 1.2h0m-.3-2.1h0m-.1 .4h0m-.2 1.1h0m0 .3h0m0 0h0m-.1-1.5h0m-.4 .7h0m-.1-.8h0m-.2 1.3h0m-.2-1.1h0m0-.2h0m-.1-.7h0m-.1 .2h0m-.3 1.3h0m-.9-.5h0m-.1 1.3h0m-.6-1.1h0m-.8-.9h0m-10.8 .6h0m-.3 .4h0m0-.6h0m-.4-.7h0m-.3 0h0m-.1-.3h0m-.1 .4h0m-.7 .8h0m-.3-.8h0m-23.6 0h0m-1-.4h0m-2.6 1.5h0m-3.3-1.4h0m-13.2 .3h0m-.1 1.2h0m-.1-.6h0m-.1-.6h0m0 1.6h0m-.3 .1h0m-.4-1.3h0m-.4 .1h0m-.4 1.8h0m-.4-1h0m-.4-1.1h0m-.1 2.3h0m-.6-2.3h0m-1.6 2.3h0m-.2-.1h0m-.7-.5h0m-.2 .2h0m-.1-.2h0m-.7-.2h0m-.2-.8h0m-.3-.7h0m-.5 1.6h0m-1-.9h0m-.2-.4h0m0-.6h0m4.1 4.1h0m0 0h0m.2-.8h0m.3 0h0m0 0h0m0 .8h0m.4-.4h0m.4-.4h0m.1 .2h0m.3 1.1h0m.5 0h0m.2-1.8h0m0 .6h0m.6 .6h0m.3-.8h0m.1-.3h0m.5 0h0m18.5 1.3h0m18.5-1.4h0m9.7 1.1h0m1-1.2h0m.9 1.3h0m.2 .9h0m.1 .6h0m.4-.3h0m11.5-2.3h0m2 1.2h0m.6-1.4h0m.6 1h0m.7 .8h0m.4-.3h0m.8-.6h0m0-.8h0m.1 .6h0m.5 1.9h0m.3-1.9h0m1 1.7h0m.1-.2h0m.2-.5h0m.2 .3h0m.5 .9h0m16.3-.3h0m.8 .2h0m.3-1.6h0m0 1.2h0m.3-1.5h0m0-.3h0m.1 .4h0m.2-.2h0m.3 1.8h0m.8-1.5h0m.9-1.1h0m.6 2.4h0m.4-.7h0m.3-1.1h0m1.2 .1h0m.1 1.6h0m.4-.7h0m.3-1.4h0m.7 1.8h0m.8-1h0m.1-.8h0m.5 .6h0m.2 .8h0m.1 1.3h0m.2-2.2h0m1.1 .9h0m.1-1.6h0m0 1.5h0m.6 .5h0m.4-1.8h0m.5 .2h0m0 .1h0m.1 2.2h0m0-1.9h0m.3 0h0m.3-.4h0m.1 1.6h0m0-1.3h0m.1 .6h0m.5 .7h0m.4 .9h0m.2-.3h0m0-.7h0m.5 1h0m1.2 2.3h0m-.2-.1h0m-.3 .6h0m-.5 0h0m-.3-.5h0m-.1-2.2h0m-.1 2.3h0m0-1h0m-.5-1h0m-.1 1.3h0m-.6 1.2h0m-.1 0h0m-1.8-2.5h0m-.6 2.1h0m0-1.8h0m-.1 1.3h0m-.1-1.8h0m0 .7h0m-.3-.7h0m0 2.1h0m-.1-1.1h0m-1.5 1.5h0m-.4-2.6h0m-.1 2.4h0m0 0h0m-.3-.9h0m-.1-1.1h0m-.6 1.1h0m0-1h0m-.1 .2h0m0 2.1h0m-.1-1.4h0m-.4-.6h0m-.2 1h0m-.2 .2h0m-.4 .8h0m-1.5-.3h0m0-2.3h0m-1.7 .4h0m0 .2h0m-.2-.1h0m-.3 .8h0m-.2-.4h0m-.2-.7h0m-.6 0h0m-.3-.1h0m-.3 1h0m0 1.4h0m-.3-2.7h0m-.3 .2h0m-.2 .4h0m0-.6h0m-.1 1.9h0m0-.4h0m-.1 .2h0m-.1 .6h0m0 .4h0m0-.3h0m-.1-.5h0m-.1-.5h0m0 1.3h0m-.2-1.5h0m-.2 .5h0m-13.3 1.1h0m-.1-.3h0m-.1 0h0m-.6-.8h0m-.2 0h0m-.2 0h0m-.1-1.1h0m-.3 2.2h0m-.1 0h0m-.5-.5h0m-.3-1.6h0m-17.8 .4h0m-.6-.5h0m-.1 .7h0m0-1.1h0m-.4 0h0m-.4 .6h0m-11.2 .3h0m-.9 .3h0m-.3-.5h0m-.7-.8h0m-18.7 0h0m-1.1 1.6h0m20.2 1.3h0m10.5 2.8h0m.3-.2h0m1.9-1.4h0m.2 .7h0m0 .5h0m.2-1.2h0m1.2 1.6h0m.5-1.4h0m.3 0h0m2 1.5h0m16-2.5h0m.3-.1h0m1 1.7h0m.5-.1h0m0 1h0m.5-.7h0m.1 .1h0m.4-.1h0m0 .3h0m.3-1.9h0m.1 2h0m.2-1.3h0m.1 .4h0m.5-1.3h0m.1 1.4h0m.2-1.4h0m0 1.6h0m.3 .8h0m.3-.8h0m0 .2h0m.1 .2h0m.4 0h0m.6-.9h0m1.1 .3h0m3.6 .6h0m.2 .3h0m.6-.7h0m.1-.1h0m.1 .7h0m.6-.6h0m.1-.1h0m.9-1.1h0m.2 .5h0m.7 .4h0m0-.1h0m.6-1.1h0m.1 2h0m.1-1.4h0m.3-.2h0m.1 1.9h0m.1-1.7h0m.3 .1h0m0-1.1h0m.1 .8h0m.3 .3h0m1.6 1.4h0m1-.2h0m.1 .3h0m.9 0h0m.8 .2h0m.2-1.4h0m.1-1.3h0m.5 1h0m0-.3h0m.9 1.2h0m.9-1.3h0m.4 1.6h0m.4-.1h0m.1-.6h0m.6 .9h0m.3 0h0m.7-.4h0m.5-1.5h0m.5 1.9h0m0-.2h0m1-1h0m.3-.3h0m1.3 1.6h0m.1-2h0m0 .3h0m.5-.8h0m0 .6h0m0-.1h0m.4 .4h0m.7-.4h0m.2-.4h0m.3 .6h0m.3 1.3h0m.1-1.1h0m.2 1.3h0m0 .2h0m.1-1.3h0m.4 .8h0m0 .2h0m0 2.1h0m-.4 .6h0m-.1 .2h0m0-2.2h0m-.1 2.8h0m-.1-.7h0m-.3-1.5h0m-.1 1.9h0m-.1-.9h0m0 .9h0m0-.1h0m-.1-2h0m-.2 1.5h0m-.2-1h0m-1-.7h0m-.3 2.7h0m0-.2h0m0-1h0m-.3-1.1h0m-.2 .8h0m-.5-.1h0m-.1 0h0m-.7 .9h0m-.2-1.8h0m-.1 1.9h0m-.1-.6h0m-.3-1.4h0m-.1-.3h0m0 2.5h0m-.4-1.6h0m-.1-.5h0m-.1 1.6h0m-.3 .6h0m-.1 .3h0m0-.8h0m-.1-1.3h0m-.1 1.5h0m0-.3h0m-.2-1.4h0m-1 .7h0m-.5-.7h0m0 1.5h0m-.1-1.8h0m-.2 2.4h0m-.3 0h0m-.1-.8h0m-.6-1.7h0m-.1 2.6h0m0-1.4h0m-.2 1.4h0m0-1.6h0m-.2 1.6h0m-.3-2.6h0m-1.2 2h0m-.7-1.8h0m-.5 .2h0m-.3-.1h0m-.5 2.1h0m-.3-1.7h0m-.4-.1h0m-1.1-.7h0m-.1 .8h0m0 1.3h0m-.2-.8h0m-.4 .1h0m-.2-.4h0m-.4 1.7h0m-.3-2.5h0m-.6 .3h0m-.4 .1h0m-.1 2.1h0m-.1-1.1h0m-.1-.7h0m-.4-.4h0m-.8-.2h0m0 .1h0m-.4 0h0m-.3 1h0m-.8-1.4h0m-.2 2.8h0m-.2-.4h0m-.1-2.5h0m-.3 .3h0m-.1 1.9h0m-.2-1.6h0m-.2-.3h0m-.1-.3h0m-.1 1.5h0m-.1 .4h0m-.7-1h0m-1 1.9h0m-.5-.1h0m-.5-.4h0m-1 .4h0m-.7-2.6h0m-.1 .5h0m-.4 .8h0m-.2-1.3h0m0 1.9h0m-.1 .2h0m-.3-.7h0m0-1.1h0m-.2 2.2h0m0-.1h0m-1-1.1h0m-1.2-1.3h0m-14.6 1.5h0m-2.1 .2h0m-3-1.4h0m-.4-.2h0m-.5 2.2h0m-.1-1.3h0m-.1 1.2h0m-.1 .1h0m-.1-1.7h0m-.4 2.2h0m-.1-1.3h0m-.2-.2h0m-.3-1.4h0m0 2.2h0m-.3-1.5h0m-.1 1h0m0 1.1h0m0-.4h0m0-.7h0m-.3 .3h0m-.9 .3h0m-.2-1.9h0m-.2 1.7h0m-.1-.8h0m-.5 1.2h0m-.2-1.8h0m-.2 .4h0m-.9 1.7h0m-.9-1.1h0m-25-.1h0m-.1 2.6h0m12.2-.2h0m12.8-.2h0m0 1.7h0m0-2.3h0m.2-.1h0m.5 2.5h0m.7-1h0m.1-1.5h0m.4 2.8h0m.2-2.6h0m0 .8h0m.1-.7h0m.2 .2h0m.1-.2h0m.3 2.4h0m.1-1.2h0m.1-1.2h0m.1 1.8h0m1.3-1.5h0m.2 .4h0m0 .9h0m.2-1.7h0m.1 1.4h0m.4 .8h0m.1-.6h0m.8-1.4h0m.1-.4h0m9.5 1.6h0m.4 .7h0m1.6 0h0m.2-.2h0m2.4 .7h0m2.3-.4h0m.5 .3h0m.5 0h0m1.8-1.1h0m.8-.1h0m0 .8h0m.1 .2h0m.7-1.1h0m1 .9h0m0 .5h0m1.3-.6h0m.7-.9h0m.1-1.4h0m0 .8h0m.2 0h0m.2 2h0m.2-1.2h0m0-.3h0m.9 1.3h0m.9-.4h0m.9-.7h0m.2-1.1h0m.1 .6h0m.1 1.1h0m0-1h0m.2-.3h0m0 .6h0m1.8-1h0m.7 .6h0m.1 1.5h0m.1-1.1h0m.1 .9h0m.4-2.2h0m.2 .2h0m.3 0h0m.1 2.3h0m.6-.3h0m.2-.6h0m.3 .8h0m.9-1.2h0m.4-1h0m.8 1.6h0m.4-.5h0m.1-.9h0m.5 2.3h0m.5-1h0m.2-.3h0m.1 1.1h0m1-.6h0m.6-.5h0m.4-1.5h0m0 .8h0m.2 .9h0m.4-1.6h0m.3 1.8h0m.4-1.7h0m0 1.7h0m0-.9h0m.5 .7h0m.1-.4h0m0 .4h0m.1 0h0m.4 .6h0m.4-.7h0m.1-.5h0m.9 1.2h0m1.6 .1h0m.9-1.6h0m.3 1.9h0m.6-.1h0m.6-.3h0m.1-1.7h0m.7-.3h0m.2 1.6h0m.2-1.9h0m.9 0h0m.7 1.9h0m1.1-.6h0m.1 1.3h0m.1-.8h0m.1-1.2h0m0 1h0m.1 .6h0m.2-1.1h0m.5 1.7h0m.4 .1h0m.5-2.6h0m.8 3.3h0m-.4 1.1h0m-.1 1.1h0m-.6-2.2h0m-.3 .1h0m-.4 0h0m-.1-.1h0m-1 1h0m-.5-.7h0m-.1 .5h0m-.4 .2h0m-.3-.3h0m-.2-.5h0m-.3-.3h0m-.3 .9h0m-1.5 1.3h0m0 .1h0m-.8-2.4h0m-.7 2h0m-.1-.8h0m-.4-.3h0m-.1 1.6h0m0-2.8h0m-1.2 2h0m-.7 .8h0m-.5-.8h0m-.3-.5h0m-.4 .7h0m-.2-.6h0m-.4-.3h0m-.1-.6h0m-.6 2.1h0m-.2-.1h0m-.6-1.1h0m-.4-1.2h0m-.6 1.3h0m-.1 .7h0m-.3-1.8h0m-.5-.7h0m-.6 1.5h0m-.5 .3h0m-.8-.9h0m-.1 .4h0m-.5-.2h0m-.9-.7h0m-.2 .2h0m-.1 2.3h0m-.1-2.4h0m-.3 .8h0m-.9 1.1h0m-.6 .4h0m-.2-1.5h0m-.9-.3h0m-.5-1h0m0 2.7h0m-.8-2h0m-.2 1.9h0m0 .3h0m-.3-.8h0m-.1-.2h0m-.3-1.2h0m-.1 .7h0m-.1 1.2h0m-.1-1.4h0m-.5 1.7h0m-.5-2.3h0m-.5 1.3h0m-.1 0h0m-.4 .8h0m-.5-1.4h0m-1.7-.2h0m-.2 .8h0m0 0h0m0 .7h0m-.2-1.6h0m-.3 .1h0m-.4-1.1h0m-.1 2.1h0m-.2-1.4h0m-.7-.1h0m-.1-.4h0m-.1 .9h0m-.4 1.7h0m-.1-.6h0m-.2 .3h0m-.3-1.2h0m-.1-.2h0m-.1 1.1h0m0-1.1h0m-.3 .3h0m-.7 .2h0m-.8-1.1h0m-.3 1.8h0m-1.1 .3h0m-.1-.2h0m-.6-.8h0m0 .8h0m-.1-.4h0m-.2 .3h0m-.3-.1h0m-.1-.8h0m-.2-1h0m-.3 1.7h0m-.4 .5h0m-.2-.5h0m0 .6h0m-.2-1.8h0m-.1 .5h0m-.3-.4h0m-.1 1.1h0m-.1-1.2h0m-.4 1.7h0m-.1-1.1h0m0 .7h0m-.1 .4h0m-.2 .3h0m-.1-2.1h0m-.1 .6h0m-.1 .9h0m-.1 .3h0m-1.1-.1h0m-.2-.3h0m-.1-1.3h0m-.2 .1h0m-.2 1.9h0m-.3-.4h0m-.3-1.5h0m-.1-.3h0m-.9-.3h0m0 .7h0m0 1.2h0m-1.3 .3h0m-4-1.7h0m-.5 1.2h0m-3.7-.2h0m-1.1 .6h0m-.3-1.4h0m-.8-.5h0m-.2 1.5h0m-.1-1.3h0m-.2 .9h0m-.1-.4h0m-.8-.6h0m-.2 .1h0m-.1 .8h0m-.1 .2h0m-.3 1.1h0m-.7-.4h0m-.3-.2h0m-.7 .1h0m0 .5h0m0-2.5h0m-.1 .4h0m0 .7h0m-.2-.9h0m0 .2h0m-.1 1h0m-.2-.6h0m-.1 .1h0m0 1.1h0m-.2-2.3h0m-.1 1.9h0m-.1-.4h0m-3.6 .5h0m-.2 .3h0m-1.7-.1h0m-17-1.4h0m.3 3.1h0m10.3 .9h0m.2-.9h0m5.2-.6h0m5.4 1.9h0m.3-1.6h0m.4 2.1h0m.1-1.9h0m.3 .4h0m.1 .6h0m.1 0h0m0-1.7h0m.1 1.2h0m.5 1.3h0m.5-.8h0m.4 .2h0m.1-1.7h0m.4 1.9h0m.2-2.3h0m.3 .9h0m.7-.1h0m.2 .6h0m.2-.6h0m.2-.5h0m.4 .3h0m.1 1h0m5-1.3h0m1 2.3h0m.4 .2h0m.9-1.6h0m1.5 .5h0m1.6-1.2h0m.3 1.9h0m1.2-.5h0m.2-.3h0m.1-1.6h0m.1 .7h0m.4 .8h0m.5 .1h0m.6 .4h0m.2-.8h0m0-.8h0m.9 1.1h0m.3-1h0m.3 .6h0m0-1h0m.1 .3h0m.5 .3h0m0 0h0m.3 .7h0m.7-1.4h0m.2 1h0m.3-.7h0m.6 .2h0m.8 .4h0m.5 .6h0m.3-1.4h0m.1 1.6h0m.3 .1h0m.6 0h0m.2-.1h0m0 1.1h0m.2-.1h0m.2-.8h0m0-1.4h0m.2-.5h0m.1 .6h0m.1 .3h0m.3 1.9h0m.2-1.5h0m.1 .3h0m.7 .3h0m.1-1.3h0m0-.4h0m.1 2.3h0m.4-2.2h0m.1 2.6h0m.1-.8h0m.1 .2h0m.4-.3h0m.2-1.2h0m.4 1.7h0m.1 .3h0m.3-1.3h0m.4 1h0m.2-1.7h0m0-.5h0m.3-.2h0m.9 2.6h0m0 .1h0m0 0h0m.2-1.6h0m.1-.6h0m0 2.3h0m.1-2.3h0m.2 1h0m.4 .5h0m.2-1.3h0m.7 .6h0m.3 1.3h0m.4-.7h0m.3-1.1h0m.5 1.5h0m.2-.7h0m.1 .4h0m.7-1.7h0m.1 .8h0m0 1.3h0m.2-1.6h0m.1 1.7h0m.3 .2h0m.7-.8h0m.5-1h0m.2 1h0m1 .6h0m.3-.9h0m.4-1.5h0m.2 1.6h0m.5-1.6h0m.3 2.7h0m.6-.1h0m.2 .1h0m.4-2.8h0m.1 2.6h0m.2-1.3h0m.2 .9h0m.9-1.7h0m.1 1.6h0m0-1h0m.1 .3h0m.4-1.5h0m.1 2.4h0m.4-2h0m.7-.4h0m.7 2.8h0m.4-.9h0m.1-1.3h0m0 2.1h0m0-.6h0m.3-1.6h0m1.6 .4h0m1.2 1.4h0m.5-.7h0m0-.5h0m.1-.1h0m.3 1h0m.3 0h0m.2 .7h0m.3-2.5h0m1 0h0m.2 1.6h0m.7 .1h0m.9-.9h0m.2-.3h0m.8 1h0m0-.9h0m.1 1.5h0m.1-1.6h0m.1 1h0m.2 1.2h0m.3-1.7h0m.4 .5h0m0-1.2h0m.3 .3h0m.1 1.3h0m.1-1.2h0m.2 1.5h0m.6-1h0m.5-.4h0m.2 .7h0m.5-1.1h0m.2 .5h0m.1-.5h0m.2 1.3h0m.1 .4h0m.2 .2h0m.5-.1h0m.3-1.2h0m-1 4.7h0m-.6-2.3h0m0 .1h0m-.2 1h0m-.4-.1h0m-.1-.9h0m-.2-.5h0m-.7 2.1h0m0 .1h0m-.4 .1h0m-1.1-.6h0m-.1-1.1h0m-.9 1.1h0m-.1-1.1h0m-.2 .8h0m-.8 1h0m-.1-.7h0m-.4-1.2h0m-.2 .9h0m0 0h0m-.2-.2h0m-.2-1.3h0m-.4 1.5h0m-.6-.1h0m-.1-.6h0m-1.7 .6h0m-.2-1h0m-.1-.2h0m-.1 .9h0m-.2-.8h0m-.8 1.8h0m0-1.2h0m-.1 .4h0m-.3 .1h0m-.4-.6h0m-.4-.7h0m-.2 2.4h0m-.5-.9h0m0-.8h0m0 2h0m-.5-1.7h0m0 1.6h0m0 0h0m-1.4-2.8h0m-.7 2.4h0m-.9 .4h0m-.5-2.4h0m-.4 2.5h0m-.5-.5h0m-.8-2.4h0m-.7 2.9h0m-.1-.3h0m0-.3h0m-.2 .5h0m-.1-2.7h0m-.4 2.2h0m-.5-.6h0m-.8-.8h0m-.2-.8h0m-.1 .2h0m0 1.6h0m-.4-1.7h0m-.2 .4h0m0 2h0m-.1-.9h0m-.1-1.5h0m-.1 2.3h0m-.2-2.1h0m-1.4 1.2h0m0-1.2h0m-.8 .7h0m-.6 .5h0m-.1-1.5h0m-.2 .1h0m-.3 .2h0m-.1 1.2h0m-.1-.7h0m-.3 1.6h0m-.2-1.8h0m-.5-.2h0m-.4 1.9h0m-.1 .2h0m-.8-2.5h0m-.1 0h0m-.1 2.4h0m-.4-.7h0m-.4-.2h0m-.2-.1h0m-.2 0h0m-.1-.7h0m-.2 .2h0m0 .6h0m-.7 1.1h0m-.2-.8h0m0 .1h0m-.2-.3h0m-.2 1.2h0m-.1-.4h0m-.3-.5h0m-.1-1.9h0m-.3 1.4h0m-.6 .5h0m-.1 .3h0m-2.1-1.4h0m-.1 2h0m-.2-1.1h0m-.1-.1h0m0 .4h0m-.3-.1h0m-.4 .5h0m-1.1-.2h0m-.2 .4h0m-8.1-1.9h0m-1.9 1.1h0m-1.4 .7h0m-.6-1.7h0m-1.9 .7h0m-.1 1.3h0m-.5-1.6h0m-.4 1.3h0m-2.1 .2h0m-2.4-.3h0m-.2-2.5h0m-.2 .2h0m-.3 2h0m-.3-.1h0m-.6 .3h0m-.1-.3h0m-.4-1.5h0m-.1 1h0m-.1-.4h0m-.5-.2h0m-.1-.6h0m-.2-.4h0m-.2 1.8h0m-.2-.2h0m-.1-.3h0m-3.2 .9h0m-.4-2.2h0m-4 .9h0m-.1-.7h0m-9 .6h0m-1.9 1.4h0m-7-1.6h0m2.4 3.7h0m3.6 .1h0m7.8-.5h0m2.6-.3h0m1.4-.5h0m1 2h0m5.3-1.3h0m.1 .4h0m.2-1.2h0m.4 1.5h0m.5 .8h0m.1-2.1h0m.1 .8h0m.1 1.1h0m.1-1.3h0m.2 2.1h0m.1-.4h0m.7-1.8h0m.6-.7h0m.2 2.2h0m.1-1.1h0m.1 1.1h0m.1-.9h0m0-.8h0m.2 .8h0m.6 .1h0m.1 .6h0m.2-1.7h0m3.3 1.1h0m1.1 .6h0m15.9 .2h0m.1 0h0m0 .3h0m.1-.4h0m.2-1h0m.1-.5h0m.1-.2h0m0 1.3h0m.2 .2h0m.2-1.3h0m.5 1.6h0m.1-.2h0m1 .7h0m.1-2.4h0m.6 1.8h0m.1-2.1h0m0 2.1h0m.3-.7h0m.7 .6h0m0-1.1h0m.2-.6h0m.6 .7h0m.2 1.1h0m.3-1.9h0m.7 .8h0m.3-1h0m.2 .7h0m.2 .6h0m1.1-1h0m.1-.3h0m.3 .5h0m.7-.3h0m.8 .2h0m0-.4h0m.4 .2h0m.1 1.2h0m.2 .3h0m1.2 .4h0m.1 .1h0m.2-1.2h0m.4 1.2h0m.2-.8h0m.2-.1h0m.1 .1h0m.7 1.1h0m0-.1h0m.4-.2h0m0-1h0m.7-1.2h0m.1 0h0m0 .1h0m.1 1h0m.2-.3h0m.4-.1h0m.2 2h0m.1-2.3h0m.4 2.1h0m.1-2.3h0m.9 .9h0m.4 1.5h0m0-.3h0m.7-.1h0m.2 .1h0m.2-2.2h0m0 1.7h0m.1-1.1h0m.1-.7h0m0 1.5h0m.3 1.1h0m.4-1.7h0m.4 1.8h0m.4-.3h0m0-1.4h0m.1 0h0m.8-.5h0m.1 .9h0m1.6-.8h0m.1 1.9h0m.5-2.5h0m0 2.9h0m.1-.2h0m0-2.5h0m0 .5h0m.1 2.2h0m.2-1h0m.2-.6h0m.3-1.3h0m0 2.3h0m.5 .2h0m.2-2.2h0m1 .2h0m.8 0h0m.8 1.7h0m0 .4h0m.3-.1h0m.6-.1h0m.2-.6h0m.3-.2h0m.1 .6h0m.6 .1h0m.3 .1h0m.9-.5h0m.2-.5h0m.1-1.3h0m.2 2.7h0m.2-2.3h0m.1 .4h0m.3 .9h0m.2 .2h0m.1-.5h0m.4 1.2h0m.1-1.4h0m.5-.6h0m.5-.3h0m1.9-.4h0m.7 .4h0m.2-.2h0m-1.2 4.1h0m-.2 .1h0m-.5 1.4h0m-.1-.9h0m-.1 .1h0m0-1h0m-.2 .7h0m-.1-.1h0m-.7-1.4h0m-.3 2.4h0m-.3-1.2h0m0 1h0m-.4-1.6h0m-.3 .8h0m-.2-1.6h0m-.1 1.1h0m-.2 1.2h0m-.1-2h0m-.2 .3h0m-.2 1h0m-.1 0h0m-.2-.1h0m-.5-1.2h0m-.6 .3h0m-.2 1.2h0m-.1-.7h0m-.1 0h0m-.5 1h0m-.6-1.8h0m-.1-.2h0m-.1 2h0m-.4 .3h0m-.4-1.4h0m0 1.5h0m-.8-.8h0m-.1 .2h0m-.3-1h0m-.4 1.3h0m-.8 .2h0m-.1-1.2h0m0 .8h0m-.7 .1h0m-.4-1.4h0m0 .9h0m-.9 .9h0m-.4-.4h0m-.9-1.9h0m-.2 1.1h0m-.2-.3h0m-.2-.5h0m-1.8 .3h0m-.9-.5h0m-.1 .6h0m-.2 1.2h0m-.3-.5h0m-1.3-1h0m-.1-.4h0m-.2 1.8h0m-.5-1.9h0m-1.2 1.3h0m-.3 .3h0m0-.9h0m-.3 .3h0m-.3 1.3h0m-.7-.6h0m-.4-1.7h0m-.3 .1h0m-11.4-.2h0m-.1 0h0m0 1.1h0m-.3-.7h0m-.6 .3h0m0 .9h0m-.2-.4h0m-.1-.1h0m-.4 .4h0m-.2 .3h0m-.4-.2h0m-.1 .2h0m-.6 .7h0m-.5-1.3h0m-1.2 1.1h0m-15.9-1.3h0m-1.9-.7h0m-.3 1h0m-.6-.5h0m-.1-.1h0m-.7 1.5h0m0-1.8h0m-1.3 1.3h0m-.5-.9h0m-.7-.5h0m0 .8h0m-6.5-1h0m-3 2.6h0m-4.8-.1h0m7.3 .4h0m.7 0h0m2.5 .5h0m.4 .9h0m0-.9h0m1.7 .8h0m.5-.6h0m0 1.8h0m2.2-.9h0m4.7-.9h0m.8 1.2h0m33.5 0h0m.2-1.8h0m0 .2h0m0 .6h0m.2 .2h0m1.1 .9h0m.1 .6h0m.1-1.7h0m.2 2h0m.1 0h0m.2-2.8h0m1.1 2.3h0m.4-.5h0m.8-1.9h0m.1 1.5h0m.3 .8h0m.7-1.6h0m1.2 1.6h0m.4-.4h0m.4 1h0m0-2h0m1.5 1.7h0m0-2.4h0m.1 1.6h0m.2 .8h0m.1-2.5h0m.1 .8h0m.3 .3h0m.2 1.4h0m0-.6h0m2-.3h0m.4-.3h0m.1-.9h0m.3-.5h0m.4 2.7h0m.1-.5h0m.3-2h0m.6 1.9h0m.8-.7h0m.5-.6h0m0-.8h0m.1 1.1h0m.1 .8h0m.4-1.7h0m0-.1h0m.4 1.9h0m0-1.7h0m1 2.5h0m0-.8h0m.3-1.5h0m1 1.1h0m.4-.4h0m.2-1.1h0m.6 .1h0m-3.2 3.3h0m-.2 1.4h0m-.3 0h0m-.3-1.5h0m-.2 1.4h0m0-1.4h0m-.6 2h0m0 .1h0m-.5-.6h0m0 .1h0m-.1-1h0m-.2 1.6h0m-.1 .1h0m-.1 .2h0m-.4-1.4h0m-.3 .2h0m0 .6h0m-.1-1.3h0m-.4 1.4h0m-.3 .3h0m-.2-.6h0m-.4-.9h0m-.2 1.3h0m-.2-2h0m-.1 0h0m-.2 0h0m-.5 .3h0m-.2-.2h0m-.5 2.3h0m-.4-1.9h0m-.7-.8h0m-.4 1.2h0m-.1 .6h0m-.3-2h0m-.1 2.2h0m-.4 .1h0m-.1-1h0m-.4 .8h0m-.6 0h0m0-1.4h0m-.1 1.5h0m-.1 .6h0m-.3-1.4h0m-.1-.6h0m-.5 1.6h0m0-.5h0m-.5-1.5h0m-.1-.4h0m-.1 1.6h0m-.2 0h0m-.4 1.2h0m-.1-1.7h0m-.1-.5h0m-.3 .3h0m-.1 .3h0m0 1.5h0m0-1.3h0m-.1 1.2h0m-.4-1.9h0m-.1 1.7h0m-.1-.7h0m-.5-.8h0m-.2 0h0m0 1.7h0m-.1-2.3h0m0 .6h0m-.6-.9h0m0 2.5h0m-.1-2.2h0m-.2 0h0m-.1-.1h0m0 1.3h0m-.2-.8h0m-34.6 1h0m-.1-1.1h0m-.5-.6h0m-6 .5h0m-4.6 .2h0m-.2-.1h0m-2.8-.6h0m-7.6 5.7h0m4.6 .2h0m2.6-2.8h0m.7 2.7h0m2.3-2.4h0m.8 1.8h0m1.2-.9h0m1.8 .2h0m.1-.6h0m2.5 1.3h0m.6 .1h0m.6-1.3h0m.5 1h0m.1 .1h0m1.8-1.7h0m.7 .4h0m1.4 1.4h0m.2-1.1h0m.7 .3h0m.1 .9h0m.5-.7h0m34.1-1.2h0m1.1 1h0m.1 .6h0m.1-1.9h0m.2 2.1h0m0-1.1h0m.7 1.5h0m.4-1.3h0m.8-.9h0m.5 2h0m.8-.2h0m.2 .2h0m0 .1h0m.2-.4h0m.1-.2h0m.1-1h0m.4 .9h0m.1-.3h0m.6 .9h0m.1-.3h0m.7-1.2h0m.4 1.9h0m.6-2.2h0m1 1.3h0m.4-1.9h0m.7 1h0m.5-.7h0m.2 1.3h0m.7-.4h0m.1-.5h0m.9-.1h0m-9.5 2.6h0m-34.5 2h0m-.4-1.5h0m-.1 0h0m-.1 1.9h0m-1.1-2.5h0m0 1.8h0m-.5 .7h0m-.1-1.4h0m-.1 .4h0m-.2-1.3h0m-.3 .3h0m-.1 .6h0m-.4 1.5h0m-.4-2.3h0m-.5 2.3h0m-1-1.9h0m0 .6h0m-.4-1h0m-2 1.4h0m-1.1-.1h0m-.4-.3h0m-1.5 1.2h0m-.4-.7h0m-.5-.3h0m-.5-1.4h0m-.3 2.5h0m-2.2-.2h0m-1-1.5h0m-1.3 .9h0m-1-.6h0m-4.1-.2h0m-.7-.1h0m-2.3 0h0m-3.1 0h0m-2.1-.9h0m-.2 1.1h0m-.1 .8h0m-1.1-1.3h0m-.3-.3h0m-.2 0h0m-.1 .4h0m-.2-.8h0m-.6 .9h0m-.5 .6h0m-.1 .5h0m-.1-1.6h0m-.2 1.3h0m-.1 .7h0m-.3 .2h0m-.1-.7h0m-.4-.7h0m-.1 1.5h0m-.2-.5h0m-.1-.2h0m-.4 .2h0m-.2 .1h0m-.3 .1h0m-2 3.1h0m.2 .2h0m.8-.6h0m.6 .2h0m.1 .5h0m.3 0h0m.1-.8h0m1.4-.4h0m.5 1h0m.1-1.5h0m.5-.6h0m.1 2.4h0m.1-.7h0m1.9-.8h0m2.1 .8h0m.5 .1h0m.5-1.2h0m.4 1h0m1.4-1.3h0m2.2-.2h0m.1-.5h0m.1 2h0m.4 .6h0m.5-.6h0m2-1.4h0m1.6 1.1h0m1.1-1.5h0m2.2 2h0m.8-1.8h0m.6-.3h0m1 1.4h0m2 .9h0m.4-.9h0m1.8-.5h0m3.1-.1h0m.9 .6h0m1.2 .6h0m.9 .1h0m.2-1.8h0m1.1 2.1h0m.1-2.5h0m1.1 1.7h0m.1-1.7h0m.2 1.8h0m.4-.5h0m.5-.7h0m0 1.7h0m.3 .1h0m.7-.6h0m.1-.9h0m.6 .4h0m0 1h0m.1-1.7h0m0 1.4h0m.1-1.2h0m0 .4h0m.1 .1h0m.7 .2h0m.8 1h0m.2 .2h0m3.5 2.6h0m-1.8-.9h0m-.3-.9h0m-.1 1.3h0m-.7 0h0m-.2-.4h0m-.3-.9h0m-.4-.2h0m0 .5h0m-.5 .3h0m0-.2h0m0-.2h0m-.2 2h0m0-2.8h0m-.3 1.7h0m-.1-1h0m-.4 1h0m-.3 .3h0m-.3 .7h0m-.2-1h0m-.2 .9h0m-.2 0h0m-.5-1.8h0m-.1-.2h0m-.2 0h0m-.2 1.4h0m-.8 .3h0m-.6 .5h0m-1.3-1.1h0m-2.2 .4h0m-2.3-1.3h0m-3.2 1.5h0m-.3-2.2h0m-3.6 1.8h0m-.1 1h0m-.2-1.3h0m-.7 .9h0m-.5-2h0m-1.2 .7h0m-.2 1.7h0m-3.7-2.2h0m-.6 1.1h0m-5.1-.8h0m-1.7 .5h0m-2 0h0m-.4 1.2h0m-1.8-1.8h0m-.2 1.2h0m-.1-1.2h0m-.5-.5h0m-.2 .6h0m0 1.5h0m-2.1-.8h0m-.2 0h0m-.3-.1h0m0 1.1h0m-.2-.9h0m-.3-1.5h0m0 .9h0m0 1.7h0m-.1-1h0m-.2-1h0m-.8-.1h0m-.2-.6h0m-.1 1.7h0m-.2-.7h0m0-1.2h0m-.3 .2h0m-.1 2.1h0m-.5-1h0m-.4 1.3h0m-.7 2.2h0m.7-1.6h0m.2 2.6h0m.2-.3h0m.3-2.5h0m.1 1.7h0m.3-1.4h0m0 0h0m.3-.2h0m.1 .4h0m.2 1.2h0m1 .7h0m0-.7h0m2.1 .2h0m0-1.2h0m.2 1.4h0m0-.9h0m.1-1h0m.4 2.7h0m.2-2.4h0m6.1-.1h0m.3 1.3h0m2.6-.2h0m0 .1h0m.4-1.4h0m.2 .7h0m.1-.8h0m2.2 2.7h0m.4-.7h0m1 .1h0m1 .4h0m.5-1.9h0m.5 1.2h0m3.8-.4h0m.6-.5h0m.4 1.7h0m4.4-1.5h0m.6 .7h0m1.5-.4h0m.4 .8h0m.9 .6h0m2.4-.8h0m.3-.4h0m.5 .9h0m.1-1.7h0m.3 1.2h0m.1-.6h0m.3-1.3h0m.5 2.2h0m.2-2.4h0m.4 2.2h0m.1 .3h0m.1-1.6h0m0-.1h0m0 1.5h0m.6-1.9h0m.9-.2h0m.1 1.1h0m.1 .3h0m.9-.6h0m.2 .8h0m.1 .5h0m.2-2.3h0m.6 1h0m.2 1.6h0m.7-.5h0m.4-1.1h0m0 1.5h0m.7-1.3h0m.3 .7h0m.1-.7h0m.1 1.5h0m.5-1.6h0m.1-.4h0m.6 1.7h0m.3-2h0m0 2h0m.1-1.8h0m0 1.3h0m.8 .2h0m.1-.3h0m-2.4 1.7h0m-.1-.2h0m-.1 .4h0m-.9 .6h0m-.9-.4h0m-.4 .2h0m-.4 0h0m-.7 .4h0m-.2 .9h0m-.1-.2h0m-.8-.3h0m-.2 .4h0m-.3 .5h0m-.1-.5h0m-.1-.6h0m0 .4h0m-.5-.2h0m-.6 .5h0m-.1 .5h0m-.1-.1h0m-.8-2.5h0m-.4 1.7h0m-.1-2h0m-.1 1.7h0m-.2-.3h0m-.4-1.3h0m0 2.7h0m-.2-1.6h0m-.1 .2h0m-.1 1h0m-.2-.5h0m0-.9h0m-.6-.7h0m-1.5 1.4h0m-1.5 1h0m-1-2.7h0m-3 .7h0m-1.5 1.7h0m-.6-1h0m-.2-.6h0m-.5 .3h0m-.4 1.5h0m-.1-.2h0m-.1 .5h0m-3.8-2h0m-.2 .4h0m-.9 1h0m-1.1-2h0m-2.9-.2h0m-4.3 .6h0m-.8 1.5h0m0 .5h0m-1.9-1.6h0m-1.3 0h0m-.6-.7h0m-.9 2h0m-.4-1.4h0m-.1 .1h0m-.2-.8h0m-.2 .4h0m0 .9h0m-1.1 .7h0m-.4-2h0m-.3 1.8h0m-.2-.8h0m-.1-1h0m-1.6 2.1h0m-.2-1.7h0m-.5-.5h0m-.3 1.5h0m-.4 .7h0m-.4-.6h0m0-1.7h0m-.6 1h0m2.8 3.5h0m.3-.9h0m.1 1.6h0m.3-1.6h0m.3 .5h0m.3 .4h0m.1-.5h0m.2 1.5h0m0-1.8h0m.1 .3h0m0 .9h0m.5 .4h0m.3-2.2h0m.6 2.5h0m0-1h0m1.1 .7h0m.4-.4h0m.4-.4h0m1.6 .6h0m2.8-2.2h0m.7 .3h0m2.1 .8h0m.6 1h0m1.4-1h0m2-.6h0m3.1 2.3h0m.8-.3h0m.4-1.1h0m2.8-.2h0m2.3 1.6h0m.7-1.2h0m.2-.6h0m.9 .1h0m1-.7h0m4.9 1.7h0m.2 .6h0m.5 0h0m0-2.2h0m.5 .9h0m.1 .1h0m0 .4h0m.2-1.3h0m0 1.6h0m.2-1.8h0m0 .4h0m.7 .5h0m1.1-.9h0m.2 .3h0m.2-.2h0m.1-.1h0m-5.2 3.8h0m-1.3 1.4h0m-1.9 .1h0m0-.9h0m-1-.3h0m-.2-.1h0m0 1h0m-.7-.8h0m-2.1-.1h0m-1 .8h0m-3.3-.6h0m-3.7 .9h0m-3.8 .3h0m-.7-.8h0m-.8-1.3h0m-.6-.4h0m-.3 1.7h0m-1.2-.1h0m-.6-.9h0m-1.5-.4h0m-1 1.5h0m-.6 .2h0m-1.5-2.3h0m-.1 2.4h0m-1-.9h0m-.4-.2h0m-.2-.3h0m-.7-.8h0m2.7 3.5h0m.1 .2h0m.2-.5h0m.6 1.1h0m.6 .7h0m0-1.1h0m0 1.3h0m.2-1.5h0m.1 1.3h0m0-1.2h0m.2 .9h0m0 .2h0m.1 .4h0m.3-.5h0m.1-.7h0m.3 .5h0m2.6-.9h0m.8 1.8h0m.9-.4h0m.7-.1h0m2.6 .2h0m.2-.2h0m1.6-2.1h0m.7-.1h0m.2 2.2h0m.9 .4h0m3.9-2.6h0m1.1 1.8h0m1.7-.1h0m1.7 0h0m.8-1.5h0m-8.3 3.2h0m-.7-.2h0m-1.9 1.1h0m-.4-1.3h0m-.6 2.5h0m0-.3h0m-1.5-1.7h0m-.5 1.5h0m-.6 .4h0m-.5-.3h0m-.8 .2h0m-3.3-1h0m-1.5-.2h0m-.1-.3h0m5.8 2.9h0" stroke="#e5565a" stroke-width="1.1" stroke-linecap="square" fill="none"/>
<path d="M515.6 300.7h0m6.6 5.5h0m.8 3.1h0m-.8 22.7h0m6.5 0h0" stroke="#ffffff" stroke-width="1.1" stroke-linecap="square" fill="none"/>
<rect x="487.1" y="247.2" width="123.7" height="118.6" fill="none" stroke="#a9a9a9" stroke-width="0.7"/>
<path d="M487.1 252.3h-1.6M487.1 273.4h-1.6M487.1 294.5h-1.6M487.1 315.7h-1.6M487.1 336.8h-1.6M487.1 357.9h-1.6M504.1 365.8v1.6M527.6 365.8v1.6M551.1 365.8v1.6M574.6 365.8v1.6M598.1 365.8v1.6" stroke="#555" stroke-width="0.5" fill="none"/>
<text x="484.9" y="256" font-size="10" text-anchor="end" textLength="8.6" lengthAdjust="spacingAndGlyphs">15</text>
<text x="484.9" y="277.7" font-size="10" text-anchor="end" textLength="8.6" lengthAdjust="spacingAndGlyphs">10</text>
<text x="484.9" y="299" font-size="10" text-anchor="end" textLength="4.4" lengthAdjust="spacingAndGlyphs">5</text>
<text x="484.9" y="320.2" font-size="10" text-anchor="end" textLength="4.4" lengthAdjust="spacingAndGlyphs">0</text>
<text x="484.9" y="341.9" font-size="10" text-anchor="end" textLength="7.6" lengthAdjust="spacingAndGlyphs">-5</text>
<text x="484.9" y="362.8" font-size="10" text-anchor="end" textLength="11.8" lengthAdjust="spacingAndGlyphs">-10</text>
<text x="499.9" y="377.1" font-size="10" text-anchor="middle" textLength="11.8" lengthAdjust="spacingAndGlyphs">-10</text>
<text x="526.1" y="377.1" font-size="10" text-anchor="middle" textLength="7.6" lengthAdjust="spacingAndGlyphs">-5</text>
<text x="551.1" y="377.1" font-size="10" text-anchor="middle" textLength="4.4" lengthAdjust="spacingAndGlyphs">0</text>
<text x="575" y="377.1" font-size="10" text-anchor="middle" textLength="4.4" lengthAdjust="spacingAndGlyphs">5</text>
<text x="596.4" y="377.1" font-size="10" text-anchor="middle" textLength="11.8" lengthAdjust="spacingAndGlyphs">-10</text>
<circle cx="619.8" cy="280.7" r="2.7" fill="#3f80ba"/>
<text x="626.8" y="284.1" font-size="10" textLength="33.6" lengthAdjust="spacingAndGlyphs">Drop-seq</text>
<circle cx="619.8" cy="293" r="2.7" fill="#3faa35"/>
<text x="626.8" y="296.4" font-size="10" textLength="41.6" lengthAdjust="spacingAndGlyphs">DroNC-seq</text>
<circle cx="619.8" cy="305.6" r="2.7" fill="#e5262a"/>
<text x="626.8" y="309" font-size="10" textLength="14.4" lengthAdjust="spacingAndGlyphs">10X</text>
<rect x="44.6" y="395.5" width="104.2" height="24.6" rx="5" fill="#fdfdf7" stroke="#a8a8a8" stroke-width="0.55" stroke-dasharray="3.4 0.7"/>
<text x="96.3" y="412.6" font-size="12.3" text-anchor="middle" textLength="33" lengthAdjust="spacingAndGlyphs">Region</text>
<rect x="38.6" y="423.6" width="125.7" height="118.6" fill="#fff"/>
<path d="M38.6 428.1H164.3M38.6 449.4H164.3M38.6 470.6H164.3M38.6 491.9H164.3M38.6 513.1H164.3M38.6 534.4H164.3M55.3 423.6V542.2M79.1 423.6V542.2M102.9 423.6V542.2M126.6 423.6V542.2M150.3 423.6V542.2" stroke="#ececec" stroke-width="0.6" fill="none"/>
<path d="M38.6 438.7H164.3M38.6 460H164.3M38.6 481.2H164.3M38.6 502.5H164.3M38.6 523.8H164.3M43.4 423.6V542.2M67.2 423.6V542.2M91 423.6V542.2M114.8 423.6V542.2M138.6 423.6V542.2M162.4 423.6V542.2" stroke="#f3f3f3" stroke-width="0.4" fill="none"/>
<path d="M60.6 487.3 61.6 486.1 62.8 485.2 63.7 484.1 65 483.6 66.3 483 67.4 482 69 481.9 70.5 481.7 72 481.5 73.3 480.4 75 480.3 76.6 480.2 78 481.1 79.6 481.1 81 480.6 82.6 481 83.9 480.5 84.7 479.6 85.6 480.5 86.8 481.1 87.8 481.9 88.3 483.5 89.7 484.4 90.5 485.8 91.2 486.9 93 486.7 94.9 487.2 95.5 485.9 96.5 484.9 96.8 483.5 97.5 482.3 98.3 481.1 99.4 480.1 100.1 478.9 101 477.6 102.5 477.7 103.2 477.2 104.7 477.3 106.2 477.4 107.9 477.3 108.8 478.2 109.5 479.3 110.4 480.1 111.2 481.7 112.7 482.5 113.8 484 115.6 484 117 485.1 118.9 485.6 120.2 484.4 121.8 484.3 123.4 484.7 124.8 484 126.6 484.1 127.5 482.9 128.6 481.9 130.1 481.8 131.5 481.2 132.4 480.1 133.5 478.9 134.9 478.1 136.7 477.5 137.6 476.1 138.1 474.4 139.2 473.4 139.5 472.1 139.9 470.8 141.1 469.8 141 468.2 142.1 467.3 142.8 466 143.3 464.7 144.3 463.9 146.1 463.8 147.4 464.8 149 465.4 150.1 466.7 151.5 467.7 152.3 468.8 152.4 470.3 153.3 471.2 154.6 472.1 154.6 473.6 155.9 474.5 156.4 475.9 156.5 477.3 157.1 478.5 158 479.6 157.3 481 158.5 482.1 158.8 483.4 158.4 484.8 159.1 486.1 159.3 487.5 159.5 489 159.4 490.5 158.5 492 158.5 493.6 157.8 495.1 157.6 496.7 156.9 498 155.8 499 155.6 500.5 154.9 501.7 154.1 502.7 153.5 504.3 152.5 505.4 150.7 505.9 149.8 507 148.8 508.1 147.6 508.7 146.1 508.7 144.9 509 143.4 509.9 141.7 509.2 140.3 509.5 139.1 508.9 137.9 508.2 136.6 507.5 135.9 506.3 136.2 504.6 134.8 503.7 134.6 502 133.5 500.8 133.4 499 132.2 497.9 130.9 496.8 130.1 495.8 128.4 495.5 127.1 496.5 125.6 496.8 124 496.9 122.4 497.1 121.3 498.1 120.2 499.2 118.7 499.4 117.6 500.4 115.6 500.4 116.2 498.4 117.6 497.7 118.6 496.5 119.8 496.3 119.4 495.2 118.9 494.2 119.8 492.9 121.2 492.2 122.6 491.7 123.3 489.9 121.7 490 120.1 489.6 118.4 490.1 116.9 491 115.3 491.5 114.1 492 112.4 491.6 111.3 492.3 109.9 492.5 108.9 494 107.2 494.1 105.8 494.9 104.4 495.9 103.5 497.4 102.4 498.7 103.2 500.3 102.3 501.7 102.2 503.2 102.2 504.7 102.5 506.2 103.3 507.7 104.1 509.1 104.9 510.7 106.4 511.4 107.2 512.8 108.1 514 109.2 515.2 110.8 515.8 111.8 517.2 112.8 518 113.3 519.2 113.5 520.4 112.5 521.4 111.2 522 110.1 522.8 109.1 523.8 107.6 523.7 106.2 523.8 104.9 524.5 103.8 525.7 102.8 527 101.2 527.8 100.4 528.9 99.6 530 98.4 530.7 97.6 532.1 96 532.1 95.2 533.4 93.7 533.5 92.1 534.1 90.6 534.8 88.9 534.8 87.4 535.5 85.8 535.8 84.1 535.9 82.8 537.1 81.2 537.8 79.3 537.5 77.6 537.1 76 536.5 74.7 535.4 74.4 533.9 73.2 533 72.1 532.1 71.6 530.8 70.1 530.1 69.5 528.8 68.1 528 67.4 526.8 66.7 525.5 65.7 524.3 64.8 523.6 64.1 522.1 64.1 520.5 64.4 519 64.7 517.4 65.6 516.1 66.7 515.2 67.5 514.1 68.2 513 69.1 512.1 69.6 510.5 70.5 509.4 71.8 508.6 73.2 508 74.6 507.5 76.1 507.2 77.3 506.8 78.3 506 79.2 505.5 79.1 504.2 78.6 503.1 77.4 502.3 76 502.1 74.7 501.5 73.9 500.1 72.2 500.2 71.4 498.8 70 498.1 68.6 497.5 68 496.1 66.3 495.6 65.3 494.5 64.6 493 63.1 492 62.9 490.3 61.6 489.5 60.9 488.6ZM92.4 428.2 93.6 428.6 94.7 429.2 96.1 429 97 430.3 97.9 431.6 99.2 432.6 99.9 434.1 100.3 435.5 100.6 436.9 101.8 438 102.1 439.5 102.9 440.9 102.1 442.4 102.2 443.9 102.9 445.4 101.9 446.9 101.9 448.3 101.9 449.6 101.5 450.9 101.6 452.3 101.4 453.6 100.5 454.6 99.9 456.2 98.7 457.3 97.5 458.6 96.3 459.3 94.9 459.3 93.7 459.7 92.3 460 91.2 460.9 90.4 461.9 89.9 463 89.1 464 88.1 465.3 86.7 466.7 85.7 465.7 84.8 466 84.8 464.7 84.8 463.4 84.5 462.1 84.6 461 83.8 459.4 83 458.2 81.9 457.2 80.5 457.2 81 455.6 80.4 454 81.7 452.8 82.2 451.3 81.9 449.6 82.4 448.4 83.5 447.3 83.3 446 84.2 444.8 83.7 443.1 83.5 441.5 84.3 440 84.6 438.6 84.5 437.1 84.8 435.8 85.6 434.6 86.8 433.6 87 432.3 87.5 430.8 88.6 429.9 89.7 428.6 91 428.2ZM42.6 464.7 43.5 463.8 44.6 463.1 45.1 461.9 46.7 461.4 48.4 460.9 50 460 51.7 460.1 53.4 460 54.8 459.9 56.4 460.2 57.2 461.2 58.6 462.2 57.8 463.8 58 465.2 57.4 466.5 55.7 466.6 54.6 467.6 54.2 469 53.6 470.2 53.4 471.8 52.6 472.8 51.3 473.4 49.5 472.9 48 471.8 46.8 470.7 45.3 469.8 44.4 468.4 43.7 467.2 43.6 465.8ZM63.7 449.7 65 449.1 65.9 448.8 67.4 449.4 68.4 450.3 68.4 451.6 69 452.8 68.7 454.1 69.2 455.6 69.6 457.1 70.9 458.2 71.6 459.6 72.6 460.7 72.9 462.5 74.4 463 76.2 463 76.9 464.1 76.9 465.3 77.3 466.4 76.3 467.3 75.6 468.5 74.8 469.3 73.4 470.3 72.9 471.7 72.4 472.9 71.9 474.1 71.6 475.6 70 476.5 68.7 477.8 67.8 477.3 68.2 475.7 69.1 474.4 69.7 472.8 69.7 471.2 69.3 469.7 68 469.2 67.4 468.4 67.3 467 66.9 465.6 66.6 464.2 66.1 462.7 66.6 461.6 67.3 460.6 67.7 459.8 68 458.1 67.2 456.8 67.1 455 65.5 454.5 64.9 453.4 64.5 452.2 63.4 451.1ZM90.5 470.3 91.7 470.4 92.5 470.3 93 471.9 93 473.4 91.9 474.6 91.2 476.1 89.9 477.2 88.7 478.4 87.5 479.5 86.7 481.4 85.4 480.9 83.8 480.2 85.5 479.3 86.4 477.9 86.7 476.2 88.3 475.5 89 474.2 89.3 472.9 89.9 471.6ZM94.3 464.1 95.8 464.5 97 465 98.5 465.7 99.5 466.8 100.4 467.9 101.6 468.7 102 470 102.7 471.1 103.3 472.3 104.7 473.2 105.1 474.6 105.6 476.4 103.9 476.1 103 474.8 101.5 473.8 101.5 471.8 100.5 470.6 99.2 469.6 98.1 468.3 96.7 467.9 95.6 467.1 94.9 465.9ZM107 453.4 108.3 453 109.7 452.9 110.8 452 112 451.5 113.5 451.2 114.8 450.4 116.3 450.3 117.9 450.8 119.8 451.1 119.7 449.6 120.8 448.5 122 448.4 122.9 449.2 123.6 450.4 124.1 451.2 126 451 126.9 450.2 128.3 450 129.7 450 131.4 449.8 132 450.9 131.9 452.3 132.8 453.2 133.6 454.9 134.3 456.8 133 457.6 131.4 457.8 129.8 458.3 128.6 458.5 127.7 457.6 127.3 456.4 126.5 455.4 125.2 455 123.9 455 122.8 456.1 121 456.4 119.9 457.3 118.7 458.1 117.5 458.9 116.5 459.8 115.3 460.9 114.1 461.8 113 463 111.6 463.5 110.5 462.9 110.2 461.8 109.3 460.2 109.5 458.7 110.3 457.4 110.6 456.5 109.4 455.7 108.7 454.7ZM110.8 467.4 112.3 467.5 113.7 467.9 115.1 467.4 116.6 468 118 468.6 119.8 468.8 120.6 470.1 121.5 471.2 122.3 472.3 123.8 473.2 124.4 474.6 125.4 475.7 125.8 477.5 127 477.1 128.4 476.1 129.6 477.6 130.9 477.6 130.5 479.3 130 480.8 129 481.9 127.1 482.5 126.7 481.2 125.3 480.6 124.7 479.4 123.9 478.3 123 477.3 122.6 476 121.7 475 121.3 473.7 120.1 472.8 118.9 472.3 117.6 472 116.4 471.4 115.1 470.9 113.7 470.5 113.1 469.3 112.2 468.2ZM50.6 502.1 51.9 501.5 53.1 501.2 54.6 500.9 56 501.1 55.6 502.2 54.2 503.3 52.5 503.6 51.7 502.7Z" fill="#3fa834" stroke="#3fa834" stroke-width="0.7" stroke-linejoin="round"/>
<path d="M81.2 497h0.6v0.5h-0.6zM83.8 497.1h0.8v0.6h-0.8zM81.5 497.4h0.6v0.5h-0.6zM78.2 497.3h1.3v1h-1.3zM80.3 496.5h0.6v0.5h-0.6zM82.5 496h0.8v0.6h-0.8zM84.7 497h0.8v0.6h-0.8zM82.9 495h1.3v1h-1.3zM75.3 494.8h0.6v0.5h-0.6zM76.3 495.4h0.8v0.6h-0.8zM84.2 495.6h0.8v0.6h-0.8zM80.2 496.8h0.8v0.6h-0.8zM76 497.6h0.8v0.6h-0.8zM85.3 497.4h1v0.8h-1zM89.6 490.8h0.6v0.5h-0.6zM90.3 490.5h1v0.8h-1zM91.4 491.5h1v0.8h-1zM90.6 490.4h0.8v0.6h-0.8zM91 490.4h0.8v0.6h-0.8zM91 489.9h0.8v0.6h-0.8zM83.8 502.8h1v0.8h-1zM81.8 503.7h1v0.8h-1zM83.2 503.6h1v0.8h-1zM83.4 503.8h1v0.8h-1zM81.3 505h0.6v0.5h-0.6z" fill="#fff"/>
<path d="M97 431.6h0m-1-1.8h0m-.8 1.5h0m-.4-2.2h0m-1.4 .5h0m-.2-.5h0m-1.7 .5h0m-1.2 .4h0m-.2 .2h0m-.1-1h0m0 2.1h0m-.7 .1h0m-2.6 1.5h0m.8-.3h0m.5 1.1h0m.4 1h0m.7-1.6h0m.4 1.4h0m.2-.6h0m.1 .1h0m.4-.1h0m.2 .5h0m.1-1.3h0m.7 1h0m.7-.4h0m.2 .8h0m.2-1h0m.2 .3h0m.1 .8h0m.4-.9h0m.7-1.2h0m1.2 .9h0m0 1.5h0m0-1.1h0m.6-1.1h0m1.3 .7h0m.7 1.2h0m.7-.5h0m.1 .1h0m1.7 .2h0m.3 3.2h0m-.5-.1h0m-.4-1.1h0m-1.2-1.1h0m0 .3h0m-.1 .7h0m0 .6h0m-.2-.5h0m-.2-1.2h0m-1.3 1.1h0m-.4-.5h0m-1 1.1h0m0 .9h0m0-1.8h0m-.1 1h0m-1.3 .8h0m-1-2.3h0m-.2-.2h0m-.1 .7h0m-.9 1.1h0m-1-1.4h0m0 1.9h0m-.6-.3h0m-.7 .2h0m-1.9-1.7h0m-.9 .2h0m-.1 .5h0m-.1 .2h0m-1 3.1h0m.5 .9h0m5.4-.6h0m0-.3h0m.1-.5h0m.9 1.6h0m.7-2.9h0m1 2h0m.8-.2h0m.6-.3h0m.6 .7h0m.2 .1h0m.2-2.1h0m.1-.1h0m.1 2.7h0m.8-1.9h0m.3-.2h0m.3 2.2h0m3.8-1.2h0m.4 3h0m-1.2-.8h0m-.2 .4h0m-1.5 .8h0m-.6-.7h0m-.1-1h0m-.1-.2h0m-.2 .9h0m-1.1-.1h0m-.4 .9h0m-.2 .9h0m-.8-.7h0m-.6-.6h0m0 .1h0m-.2 1.1h0m-1.5-1.1h0m-.2-.9h0m-.3 .4h0m-2 .2h0m-.5 1.2h0m-1.9 .3h0m-.4 .1h0m-.1-1.3h0m0-1.3h0m-.2-.2h0m-.9 .6h0m-2 1.3h0m0-2h0m-.1 2.4h0m-.4 .1h0m-.2-.7h0m.1 2.5h0m3.5-.2h0m.9 .7h0m.7-.6h0m1 .4h0m0-1.3h0m.1 1.7h0m.7-1.6h0m.3 1.6h0m.5 .7h0m.4-1.1h0m.1 .8h0m.6 0h0m.3 .1h0m.4-2.1h0m.3 .9h0m.6 .8h0m.1-.3h0m0 1h0m.4 .1h0m2.4-.8h0m.1 0h0m.4-1.2h0m.3-.5h0m.7-.2h0m.8 1.6h0m.3-1.4h0m1.1 1.3h0m.1-.6h0m.8-.9h0m19.7 5.5h0m-19.6-1.8h0m-.5 0h0m-2.3 1.6h0m-.9 .3h0m-.1-2.5h0m-.1 1.7h0m-.2-1.6h0m-.1-.3h0m-.8 1h0m-1.2 1.8h0m-.2-1.3h0m-.1-.7h0m-1.4 .6h0m0-.6h0m-.8-.4h0m-.5 .2h0m-.8-.7h0m0 2.4h0m-1.8-1.9h0m-.8 .1h0m-.8 .8h0m-.8-.5h0m-.3 .2h0m-1.1-.7h0m-.5 .6h0m-1.8-.2h0m-.7 .7h0m-18.5 .8h0m-1 .4h0m.2 2.1h0m.6-1.2h0m.9 .1h0m0 1.6h0m.6-1.8h0m.1 .4h0m0 1.2h0m.3 .6h0m1.9-.1h0m13.2-.8h0m.8 1.1h0m2.1-2.1h0m.1 .9h0m.1 1.1h0m.5-1.9h0m.6 1.3h0m1.4-2.1h0m1.2 .8h0m.9 .1h0m.4-.9h0m.3 .6h0m0 1.6h0m.1 .6h0m1.2-2.2h0m.2 1h0m1.2-.9h0m.5 2h0m1.2-1.6h0m1.4 .4h0m1.5-.3h0m0-.9h0m.1 2.4h0m.6-2.7h0m0-.1h0m.7 .5h0m1.2 1h0m.1-1h0m.3 .5h0m.4-.5h0m.2 1.7h0m10.4 .7h0m.1-1h0m2.4 .6h0m.1-1.3h0m.6 1.7h0m1.4-2.1h0m.4 0h0m1.6 1.1h0m.2 .3h0m1 0h0m.4-1.3h0m.3 .7h0m.8-1.4h0m.8 .3h0m.1 0h0m.7 .9h0m.2-.4h0m.2 1.5h0m.1-2.5h0m.4 1.2h0m.2-.3h0m1.4 1.8h0m1.1-1.6h0m.8-1.1h0m0 2.7h0m.3-1.8h0m.4-.7h0m.3 .4h0m0 .1h0m.2-.1h0m.4 .1h0m0 .4h0m.4-1.1h0m.2 2.3h0m.3-1.8h0m.2-.2h0m.4 2h0m0-1.5h0m.1-.1h0m.6-.1h0m3 5.1h0m-1.3-2.4h0m0 .3h0m-.5 1.7h0m-1.3-.9h0m-.4 .9h0m0-.3h0m-.1 .5h0m-.5-.4h0m-1.4 0h0m0 .1h0m-.4 .2h0m-.3-.9h0m-.1-.9h0m-.2 1.9h0m-.1-1.9h0m-1.2 .7h0m-.5-.7h0m-1.3 .7h0m-.3-.2h0m-1.2 0h0m-.1-.3h0m-.5 .7h0m-.6-.3h0m-.5-1h0m-.2 2h0m-.3 .2h0m-.2-1.9h0m-.2 1h0m-.4-1.2h0m-.2 1.1h0m-1.3-.6h0m-.3-.5h0m0 .2h0m-.8 .6h0m-.6 .6h0m-.1 1.1h0m-.5-.6h0m0-1.6h0m-1 .8h0m-.9-.2h0m-.1 .9h0m-.7 .8h0m-.1-.6h0m-.7-1.9h0m-.9 0h0m-.3 2h0m-.2 .1h0m-.8-1.6h0m-.1 .7h0m-.2-1.2h0m-.6 .4h0m-.5-.8h0m-.2 2h0m-8.4-.9h0m-.9 .1h0m-.3 .1h0m-2.7-.7h0m-1.2 .9h0m-.1-1h0m-1.2 .5h0m-.6 .5h0m-1.6-.4h0m-1.2 1.1h0m-.7-.5h0m-1.3 .8h0m-2.3 0h0m-.6-1.8h0m-.5-.5h0m-.2 .4h0m-.8 .2h0m-.5-.1h0m-.3-.1h0m-.9 .8h0m-.7 1h0m-.1-1.7h0m-.1 2.2h0m-12.5-1.7h0m-.3-.3h0m-1-.7h0m-.1 .3h0m-.5 .6h0m-.2 .9h0m-.6-1.7h0m-.1 .7h0m-1-.5h0m3.6 5.4h0m.7-.9h0m.3 .7h0m.3-.6h0m.5 .2h0m13.5-1h0m.9-.7h0m.7-.2h0m.2 1.3h0m.6-1.5h0m.5-.2h0m.5 .9h0m.2 1.3h0m.2-1.1h0m.7 1.6h0m.2-1.8h0m1.1-.3h0m1.3-.3h0m1.3-.3h0m.1 1.7h0m.4 .1h0m.5-1.7h0m2.3 1.8h0m.6-1.1h0m.7-.6h0m.7 1.8h0m13.3-1.8h0m0 2.1h0m.9-2.1h0m.1 2.5h0m.5-2.4h0m.1 .5h0m0 1.3h0m.6-1.1h0m.5 1.6h0m.1-2.1h0m.2 2.2h0m1.1-1h0m.6-.7h0m.1 .4h0m.5-.3h0m.3 1.1h0m.8-1.5h0m.2 .7h0m.4 .4h0m1.4-.9h0m9.3 1.3h0m.4-2h0m1.4 1.5h0m.1-.7h0m.4-.4h0m1.1 .8h0m-14.4 1.7h0m-1 .1h0m-.2 .4h0m-2.1 .6h0m-.4-1h0m-1.6 .7h0m-.4 1.5h0m-.4-1.6h0m-.3-.7h0m-.1 2.5h0m-.2-.7h0m-.3-1.5h0m-.4 2.2h0m-.1-1.1h0m-17-1.5h0m-1 .1h0m-1.4-.1h0m0 1.9h0m-1.2 .1h0m-.3-1.8h0m-.4 2.2h0m0-1.6h0m-.6-.1h0m-.3 1.1h0m-.9 1h0m-1.1-.6h0m-.1 .3h0m-.4-.3h0m-.3-1.7h0m-.2 0h0m-.4 .1h0m-13.4 1.9h0m-.2-.4h0m-.1-1.9h0m-.2 .5h0m-.6 1.5h0m-.8-.2h0m-.9-.9h0m-11.5 1.8h0m-.6-.8h0m-.1 .3h0m-.5-1.2h0m-.2 .5h0m-.3-.2h0m-1.2-.4h0m-1.1 .3h0m-.1-.4h0m-.4 .7h0m-.2 .8h0m-.2-1.1h0m-.7 1.2h0m-.2 .2h0m-1.4-.5h0m-.3 0h0m-3.9 2.1h0m.3-.3h0m.6 .5h0m.3-.3h0m.7 .7h0m.7-.9h0m.6 .6h0m.4 1.1h0m.3-.8h0m1.5 .9h0m.5-1.6h0m.2 1.6h0m.5-.1h0m.4-2.5h0m1.2 1.1h0m.6 1.2h0m.7-.5h0m.1-1.8h0m.5 1.5h0m.2-1.5h0m0 .9h0m.6 .2h0m.8-.1h0m.6 0h0m.3 .4h0m8.9 1h0m.3-.1h0m.2-1.3h0m.2 .3h0m.3 1.2h0m.5-2.5h0m.5 1h0m.2 1.1h0m.2-1.2h0m.6-.4h0m.2 .1h0m.6 1h0m1.5 .3h0m.7 .6h0m0-2.8h0m1 2.7h0m.7 .1h0m.4-1.6h0m.2 1.7h0m9.5-1.1h0m.1 .3h0m.6 .2h0m.2-.8h0m.2 1h0m1.8-2.2h0m.1 0h0m1 2.4h0m6.2 0h0m15.2-2.6h0m2.6 .2h0m34.6 4.8h0m-.7-.3h0m-.2-.4h0m-.4-.4h0m-.4 1.9h0m-.2-2.8h0m-.1 2.6h0m-.1-.8h0m0 .1h0m-1-1.2h0m-.1 0h0m-.5-.6h0m-1 2.6h0m-.4 0h0m0 0h0m-41.8-.1h0m-.4 0h0m-.2-.4h0m-.6-.1h0m-.3 .6h0m-1.3-1.3h0m-.1 0h0m-.7-1.1h0m-.3 .7h0m-10.7-.6h0m-.9 .1h0m-7.8 1.2h0m-2.1 1h0m-.1 0h0m0-2.6h0m-.3-.2h0m-.2 1.2h0m-.8-.3h0m-.2 1.2h0m-.8-.3h0m-.2 .4h0m-.6-1.3h0m-.3 1.2h0m-.2 .6h0m-.2-1.1h0m-.6-1.4h0m-.1 .6h0m-.2-.4h0m-.1 2.2h0m-2-1.5h0m-.3-1.1h0m-.4 .3h0m-11.7-.2h0m0 0h0m-.6 1.4h0m-.3-1.5h0m-.4 1.7h0m-.1-.7h0m-1.3-.1h0m-.5 1.4h0m-.2-1.6h0m-.2-.7h0m-.1 1.9h0m-.5-.2h0m-.1-.6h0m-.2 .8h0m-.5-.2h0m-.2 .6h0m-.6-2.1h0m-.2 .1h0m-1.5 1h0m-.8-.3h0m-.3-.2h0m-.2 1.3h0m0-2.1h0m-.7 .4h0m-.1 1.2h0m-.1-.2h0m-.4 .9h0m-1-1h0m-.6-1.2h0m-.5 .3h0m0 .6h0m2 2.7h0m1.6-.7h0m.4 1.5h0m.8 .2h0m0 .2h0m.3-.2h0m.7 .5h0m.2 .1h0m.5-.4h0m.2 .5h0m.9-2.4h0m.3 .2h0m.1 1h0m.2 1.1h0m.1-.9h0m.9 .7h0m.1 .8h0m.1-.1h0m.2-2.5h0m.3-.1h0m.4 1.3h0m.4-1.1h0m.2 .6h0m14.2-.2h0m1.5-.4h0m.1 2.3h0m1-2.6h0m1.4 .7h0m.1 .4h0m.1-.3h0m1.2-.5h0m17 2.1h0m1.5-.1h0m.4 .2h0m7.2-2.4h0m.2 1.4h0m.2 .9h0m.3-1.5h0m0 0h0m12.7 1h0m.1-1.3h0m1.1-.3h0m.4 0h0m.3 0h0m.5 .1h0m.1 1.2h0m.2-1.1h0m.5 1.9h0m.2-1.4h0m.3 1.6h0m0-.6h0m.7 .3h0m.5-1.7h0m1.3 .7h0m.7 1.1h0m21.1-2h0m2.1 1.3h0m.8-1.3h0m.5 1.8h0m.4-2.1h0m.1 .4h0m.1 .2h0m.4 1.9h0m.1-2.3h0m.3-.1h0m.4 .1h0m1.4-.4h0m.4 .5h0m.8 .9h0m.9 1.3h0m.4-1.3h0m.6 .3h0m.2 1h0m.1-2.6h0m.9 2.7h0m0 .1h0m2 2.1h0m-.1-1h0m0 1.3h0m-.9-1.6h0m-.2 2.2h0m0-1.5h0m-.4-1.2h0m-.3 0h0m-.4 2.1h0m-2.4-2.2h0m-.4 .9h0m-.2-.8h0m-.6-.2h0m-.1 1.6h0m-.4-1.6h0m-.2 1.4h0m-1.1-.4h0m-.5-.9h0m-.7 .8h0m-.7 .3h0m-.6 .6h0m-1.4-1.8h0m-.9 2h0m-.2-1.8h0m-.3-.2h0m-.3 .6h0m-.1 0h0m-.2 1.7h0m-.9-.3h0m-.1 .6h0m-16.5-.3h0m-.4-.9h0m-.5 .2h0m-.1 .2h0m-1.6 .6h0m-.2-2.3h0m-.2 .6h0m-.7 .2h0m-.4 .3h0m-2-.4h0m-13.6 1.1h0m-.6-.3h0m-.5-1.1h0m-.5 .5h0m-9.2 .5h0m-.5 .7h0m-.1 .4h0m-1.5-1.5h0m-.1 1.8h0m-18.4-1.5h0m0-.9h0m-.4 .8h0m-.1-1h0m-.5 2.5h0m-1.2-.1h0m-19.2-2.7h0m-.4 .4h0m-.4 .4h0m-.1-.8h0m-.3 0h0m20 4.1h0m.3 .7h0m.9-1.8h0m17.5 1.1h0m1.8 1.8h0m12.7-2.2h0m.2-.5h0m1.1 .8h0m18.8 0h0m.4 .8h0m.2 .4h0m.3 .6h0m1.1-.9h0m.2 0h0m3 .9h0m11.1-1.5h0m.1 .4h0m.1-.6h0m.2-1.1h0m.2 2.5h0m.6-1.8h0m1 .4h0m.4-.6h0m.2 .4h0m.3-.8h0m.1 2.4h0m.1-2.5h0m0 .2h0m1.8 1.7h0m.5 .9h0m1-.6h0m.4 0h0m.2-1h0m.2-1h0m.7 .7h0m.3 2h0m.6-1.1h0m0 .2h0m.1-.2h0m.5 .2h0m.4-1.8h0m1.2 1.4h0m.4 .7h0m.1-.5h0m1.5 .5h0m.2-.9h0m.2-.8h0m.6 1.6h0m.7-1.2h0m.1 1.6h0m.1-1.4h0m1.2 1.5h0m.7-1.1h0m.2 3.2h0m0 .6h0m-.4-.8h0m-.2-1.3h0m-.2 2.5h0m-.8-1.4h0m-.6-1.2h0m-.6-.1h0m-.2 .1h0m-1.4 2.6h0m-.1-2h0m-.1 2h0m-.5-.1h0m-.1-.3h0m-.3-.4h0m-.2 .8h0m-1.6-.8h0m-.8-1.7h0m-.2 1.4h0m-.8 .5h0m-1.2 .4h0m-.6-2h0m-.8 1h0m-.8 .5h0m-.2 .1h0m-.7-.1h0m-.4-1.9h0m-1.6 2.3h0m-.2-2.1h0m-.6 .2h0m-.8 2.1h0m0-.5h0m-.1-1.9h0m-.7 .8h0m-.4 0h0m0-.1h0m-.7-.3h0m-.1-.4h0m-.5 2.5h0m-.1 .1h0m-.1-2.7h0m-.6 2.2h0m-.4-.4h0m-.1-.7h0m-.8 1.1h0m-.2-.6h0m-.1 .9h0m-.5 0h0m-.1-.3h0m-.4 .2h0m-2.5-1.4h0m-1.7 1.3h0m0-.7h0m-.5 0h0m-.6-.4h0m0 1.4h0m-.3-1.6h0m-.2-.7h0m-.2 1.5h0m-1.8 .5h0m0-.7h0m-20.8-1.8h0m-16.3 1h0m-.8 .2h0m-.8-.2h0m-1.5 1.8h0m-.8 .1h0m-6 1.9h0m6.6 0h0m.7-.8h0m1.1 1.2h0m.1-2.1h0m10.6 2h0m1.2 .3h0m.9-2.1h0m1.8 1.4h0m1-1.7h0m.5 2.7h0m.7-.4h0m.9-.5h0m2-.2h0m3.5 .5h0m16.5-1.5h0m1.1 1.3h0m.6-.3h0m.2-.8h0m.5-.8h0m.8 2.2h0m2 0h0m.6 .6h0m.1-.1h0m.3-2.4h0m.8 .6h0m.4-.9h0m.8 1.9h0m.1 .4h0m.2-.4h0m.9-1.7h0m0 .7h0m.1-.4h0m0 1.3h0m.2 .9h0m.5-.6h0m.3 .1h0m.9-1.6h0m0 .5h0m.2-1h0m.1 2.4h0m.3-2.5h0m.5 2.7h0m.3-2.1h0m.1 1.6h0m1-1.4h0m.3 .8h0m1.8 .4h0m.8-1.4h0m.1-.6h0m.3 2.4h0m.3-1.9h0m.3 .6h0m.7 1.5h0m.7-2.3h0m.6 1.9h0m.2-1.4h0m.8 .5h0m.4 .8h0m.3-2.1h0m0 1.5h0m.2-.9h0m1.3-.6h0m.2 1.7h0m0-.3h0m.2-1.1h0m.5 0h0m.5 1.6h0m.2 .7h0m.2-1.5h0m.4 .5h0m.1 .4h0m.6 .7h0m.4-2.6h0m.7 2h0m0-1h0m.2 1.3h0m1.1-2.1h0m.3 1h0m.2-.3h0m.1 .9h0m.6 .3h0m.1-.6h0m.5-.8h0m1 1.9h0m-.5 2.6h0m-.1 .5h0m-.4-.6h0m-.6-.6h0m-.1-.6h0m-.1 .2h0m-.2-.5h0m-1.1 .6h0m-.1 .8h0m-1.7-.4h0m-.1-.4h0m-1.5 1.3h0m-.1 .2h0m-.2-1.7h0m-.4 1h0m-.3-1.9h0m-.1 1.7h0m-.3 .6h0m-.5-.7h0m-1.7-.1h0m-1.4 .7h0m-.4-1.3h0m-.1-.4h0m0 .4h0m-.1 0h0m-.5 .2h0m-.4 0h0m-.5 1.4h0m-.2-1.6h0m-.6-.2h0m-.8 1.5h0m-.2-.4h0m-1.6-1.1h0m0 .5h0m-.3-1.4h0m-.9 .8h0m-.2 1.3h0m0-2.1h0m-.3 2.8h0m-.4-2.1h0m-.9 1.2h0m-.2 .8h0m-.1-1.3h0m-.3-.2h0m-.7 .5h0m-.8 .1h0m0-.1h0m-.1-.9h0m-.1 1h0m-.1 .1h0m-.1 .5h0m-.5-1.1h0m-.3 .9h0m-1.2-2.2h0m-.1 1h0m-.7-.6h0m-.3 .5h0m-1.4 2h0m-.2-1.9h0m-.7 1.2h0m-.5-1.6h0m-1.5 1.8h0m-1.2-.1h0m-1.6-1.2h0m-.1 .9h0m-.1-1h0m-.1 .8h0m-.8 1h0m-.5 .1h0m-3-.1h0m-1.7-.5h0m-2.3-.7h0m-.9 1.2h0m-1.4-1.2h0m-2.3-.4h0m-1.6-1.1h0m-1 .7h0m-1.6 .8h0m-1.8 1.3h0m-2.9-1.2h0m-1.9-.7h0m-.2 1.2h0m-12.1-.9h0m-.1 .3h0m-1-1.3h0m-8.5-.3h0m-3.1 3.1h0m8.4 1.4h0m.1-.2h0m1.4-1h0m.9 2.4h0m1-2.5h0m.5 2.4h0m2.2 .2h0m1.5-1.1h0m1.8-.2h0m.4 1.4h0m3.3-1.1h0m.8 .5h0m.6-.6h0m4.3-.1h0m4.6 .5h0m.8-1.8h0m.8 2h0m4.4 .5h0m.2-2.3h0m0 1.2h0m0 .9h0m1.4-1.2h0m.2 .9h0m.4-2h0m.2 1.3h0m.1 .3h0m1.2 .1h0m.1-.3h0m.7 .3h0m.6-1.6h0m.3 .4h0m.1-.5h0m.2 1.8h0m.6-.6h0m.1 1.4h0m1-1.5h0m.8 .6h0m1.1 0h0m.9-1.7h0m1.3 1.3h0m.7 0h0m.7-1.6h0m.8 .1h0m.1 1.4h0m.5 1.2h0m.3-2.3h0m.1 2.1h0m.1-1.2h0m.1 0h0m.1-.8h0m1.4 1.6h0m1.3 .4h0m.1-1.2h0m.5-1.3h0m.5 2.3h0m.8-1.5h0m0 1h0m0-1.7h0m.4 1.4h0m.3 .5h0m.2-1.9h0m.3 1h0m.2 .5h0m.3-.1h0m0 1.3h0m.1-.7h0m.5-1.7h0m.3 .6h0m1 1.4h0m.3-.4h0m.1-.2h0m.2 .3h0m.5-2h0m.2 .8h0m.1 1.7h0m1.4-1.7h0m.1-.4h0m.2 .8h0m.1-1h0m.2 .4h0m.9 .5h0m.6 1.2h0m.1-2.1h0m.8 .7h0m.1 .7h0m.1-1.6h0m.3 1.8h0m.9-1.7h0m.7 2h0m.3 .1h0m.6-2.1h0m0 2.2h0m.1-1.6h0m1.3 .7h0m.5 .8h0m.7-.3h0m.6-.7h0m.7 1h0m.5-.5h0m.1 .8h0m.4-.1h0m1.1-.4h0m.3 .1h0m0 .2h0m1.3-.5h0m0-1.8h0m0 .8h0m.8-.2h0m.1 1.4h0m.1-.1h0m0 .9h0m.3-.3h0m.2-1.8h0m.2 1.1h0m.3-.9h0m.7 1.8h0m.4-2.7h0m0-.1h0m.1 2.7h0m0-2.6h0m1.4 1h0m.4-1.1h0m-.2 4.8h0m-.7-.1h0m-.1-.4h0m-.3-.8h0m-.3 2.1h0m-.7-2.2h0m-.1 2.2h0m-.4-1.8h0m-.5 1h0m-.4-.3h0m-.4-.4h0m-.6 .8h0m-.2 .6h0m-.2-2.4h0m-.2 2.5h0m0-1.5h0m-2.5 .9h0m-.1-.8h0m-.1 1.3h0m-1.5-.4h0m-.1-.7h0m-.4 0h0m-.3-1h0m-.2-.1h0m-.5 2.4h0m0 .2h0m-1-2.4h0m-.2 2.3h0m-.3-2.2h0m-1.5 1.5h0m-.1-2.1h0m-1.9 2.4h0m-.1-.6h0m-.3 0h0m-.5-.9h0m-.2-.9h0m-.9 1.7h0m-.1 1.1h0m0-.2h0m-1-.4h0m-.4-.3h0m-.3 .4h0m-.2-1.9h0m-.6 .6h0m-.9 1h0m-.6-.1h0m-.6-1.5h0m-.3 2.1h0m-.1 .1h0m-.4-.4h0m-.3 0h0m-.4 .6h0m-.3-2.2h0m0 1.3h0m-.5-.2h0m-.3-.2h0m-.1-.4h0m-.2 .7h0m0 1h0m-.9-1.4h0m-1.1 1.4h0m-.5-1.7h0m-.1-.8h0m-.5 2h0m-.3-.3h0m-.1 .1h0m-.3-.1h0m-1.7 .2h0m-.2-.3h0m-.1-1.7h0m-.5 1.2h0m-.5 .1h0m-1.7-.8h0m-.9 .6h0m-1.2-.1h0m-.3-.1h0m-.1-.4h0m-.3 .3h0m0-.6h0m-.5-.1h0m-1.7 .1h0m-.6 .5h0m-.6-.8h0m-.6 1.3h0m-.6-.5h0m-.5 .8h0m-.3-.3h0m-.2-.8h0m-1.7-.5h0m-.2 .9h0m-.9-1h0m-2.7 2h0m-1.1 .4h0m-.5-.7h0m-.6 .5h0m-7.6-2h0m-1.6 2.4h0m-.1-2.3h0m-1.5 .5h0m-.6-.5h0m-.1 1.9h0m-6.8 .4h0m-.2-2h0m-2.8 1.8h0m-2.2-2.4h0m-21 0h0m6.7 5.7h0m17.4-.2h0m.7-.5h0m.8 .4h0m.7-.1h0m.2 .2h0m5.5-1.8h0m.1 .3h0m1.8 .7h0m4.6-1.5h0m3.5 2.3h0m0-1.3h0m1.4 .8h0m.4 0h0m.4-.2h0m1.1-.5h0m.2-.4h0m1.7-.7h0m8.2 1.9h0m4.3 .7h0m.4-1.4h0m.6-.5h0m.7 1.4h0m.5-1h0m0 .1h0m.9-.4h0m.2-.8h0m1.5 2.2h0m.2 .5h0m.6-.9h0m.1-1.1h0m0 .9h0m0 .8h0m.9-1.1h0m0 .9h0m.1-2.3h0m.1 1.8h0m.1 .7h0m.3-1.6h0m.6 .3h0m.3-.1h0m.7 1.1h0m2.2 .5h0m.3-2.8h0m.4 2.4h0m0 .1h0m.2-1.2h0m.8 1.5h0m.7-.9h0m.2-.2h0m.2-1.3h0m.1 1.4h0m.2 .4h0m.1-.2h0m0-.3h0m.2 .6h0m.6 .1h0m.6 .1h0m.8-.2h0m.4-1.4h0m.6 1.7h0m.9 .3h0m.3-1.1h0m1.6-.7h0m.1 1.1h0m.1-1.6h0m.3 2h0m.7-.6h0m1-1.1h0m.5-.5h0m.8 1h0m.3 1.5h0m.8-2.6h0m1 2.6h0m.2-2.6h0m.6 .7h0m.7-.2h0m.1 .2h0m.3-.9h0m1.2 2.8h0m.4-1.6h0m.1 .4h0m1-.4h0m0 .2h0m.4-.7h0m1-.2h0m1-.5h0m.1 .9h0m.6-1h0m.4 2.6h0m.2-.3h0m-.7 2.8h0m-1.4-1h0m-1.2-.3h0m-.4-.7h0m-.3 .6h0m-.1-.2h0m0 1.6h0m-.6 .3h0m-.4-1.2h0m-.1 .1h0m0 1.4h0m0-2.5h0m-1.6 1.6h0m-.1 1h0m-.2-1.1h0m-.2-.2h0m-.1 .8h0m-.1-1.4h0m-.5 1h0m-.4-.1h0m-.2-.6h0m-.2-.9h0m-.1 2h0m-.1-.4h0m0-.1h0m-.3-.2h0m-1.8 .6h0m-1.5-.5h0m-.3-1h0m-.5-.6h0m-.7-.1h0m-1.2 2h0m-.1 .6h0m-.3-1.8h0m-1-.4h0m0 .4h0m-.4 .5h0m-.2-.4h0m0 .5h0m-.3-.4h0m-.4 1h0m-.3-1.1h0m-.1 .5h0m-.6 1h0m-.5-.5h0m-.2 .1h0m-1.1 .4h0m0 .2h0m-.7-.1h0m-.1-.4h0m-.2-2h0m-1.2 2.1h0m-.3-.6h0m0-1h0m-.4 .3h0m0 1h0m-.7-1.1h0m-.1 0h0m0-.1h0m-.8-.3h0m-.2 1.2h0m0 .9h0m-.1-1h0m-1.4-1h0m-5.3 1h0m-.7-.7h0m-.4-.5h0m-2.8 1.3h0m-.2 .9h0m-.4-.1h0m-.3 .4h0m-.1-1.7h0m-.5 .5h0m-16.6-.3h0m-.4-.1h0m-.3-.4h0m0 .2h0m-.9 1.1h0m-6.9-2.1h0m-1.9 1.8h0m-2.6-.1h0m-2.7-1h0m-1.9 1.1h0m-14.2-.7h0m12.3 3.8h0m1.1-1.5h0m5 2.5h0m9.3-1.4h0m.2-.1h0m.7-.2h0m.5 .5h0m16.7-1.1h0m1.3 .4h0m.4 .2h0m.6-.6h0m0-.1h0m.3 .5h0m14 .8h0m.3-1.3h0m.3-.3h0m.1 2.3h0m0-1.4h0m0 1.6h0m.7-2.2h0m2.6 .2h0m0-.2h0m.6 1h0m.2-1.2h0m1.6 1.3h0m1.5-1.2h0m0 1.5h0m.1-1.2h0m.1 2.2h0m.9-1.2h0m.2-.2h0m.6 1.1h0m.4-1.4h0m0 1.3h0m.3-1.5h0m.1-.4h0m0 .3h0m.3 .6h0m.1 1h0m.6-1.1h0m.1 .4h0m.7 .7h0m.1-1.8h0m0 .9h0m.2 .9h0m.3-2.2h0m.2 1h0m1 .6h0m.3 .7h0m.1-1.1h0m.4 0h0m.6-.4h0m.2 .4h0m0-.6h0m.5 1.5h0m0 0h0m0 0h0m.1-1.9h0m0 .7h0m.5 1.3h0m.4-.6h0m.7-.9h0m.1 0h0m.2-1h0m.5 .5h0m.4 .5h0m.3-.8h0m.3 .6h0m0 1h0m.6-.3h0m.1-1.4h0m.5 2.5h0m.2-1.5h0m0-.1h0m.2 .4h0m.2 .8h0m.8-1.5h0m-3.7 2.4h0m-.2 1.1h0m-1.7 1.6h0m-.2 0h0m-.1-2.3h0m-.1-.3h0m-.4 .2h0m-.2 .4h0m-.7-.3h0m-.1 1h0m-.9-1.4h0m0 1.5h0m-.9-.8h0m-.4 .3h0m-.3 1.8h0m-.1 0h0m-.2 0h0m-.9-.5h0m-.3-.2h0m-.7-1h0m-.6 .7h0m-.7 .5h0m-1.2-1.1h0m-.4 .4h0m-.1-.2h0m-.8 1.2h0m-.3-2.6h0m-.7 1.6h0m-1.7 .1h0m-.9 .1h0m-.7 .5h0m0-2.1h0m-.1 1.1h0m-.1-1.2h0m-.2 2.4h0m-34.5-.6h0m-1.6-.9h0m-1.5 1.2h0m-2.5-1.2h0m-1.8 .5h0m-1.6-1h0m-1.6 .1h0m-.2 1.3h0m-1.9 0h0m-.7-2h0m-.7 2.1h0m-.9-1.5h0m-9-.6h0m8 5.6h0m1 .3h0m2.4-.1h0m.1-.2h0m.2-1.4h0m.1-1.1h0m1.9 1.5h0m1.7 .3h0m.6-1.1h0m5.5 1.4h0m1.8-.8h0m1.3 1.3h0m34.1-2.7h0m.3 1.9h0m.6 .1h0m.7-.9h0m.8-.5h0m0 .2h0m.1 1.7h0m.3-2.5h0m.1 2.2h0m.5-1.2h0m.2 0h0m.1-.4h0m.6 1.2h0m0-.5h0m.1 .8h0m.3 .7h0m.1-2.6h0m.1 .6h0m.4 1.2h0m.1-1.9h0m.1 2.7h0m.1-1.2h0m.5-.1h0m.3-.8h0m.2 1h0m.4-.1h0m.5-.8h0m.7 1.4h0m.5-.9h0m.2 1.5h0m2.1-2.6h0m.1 2h0m0-1.8h0m.2 1.1h0m.5 .1h0m0 .2h0m.4-1.4h0m.5 .5h0m.4 1.2h0m.2-.1h0m.2-.7h0m.6 .5h0m.6-.6h0m.5 .1h0m.3 0h0m-2 2h0m-.3-.2h0m-2.7 1.2h0m-1-1.3h0m-.6 2.2h0m-.4-1.9h0m-.8 1.5h0m-.6-.9h0m-.1 .3h0m-.1 .2h0m-.7 .4h0m-.3-.2h0m-1.1-1.3h0m-.4 2.3h0m-1-.6h0m-.7-1.5h0m-35 2h0m-1.8-.6h0m-2-.1h0m-.3 1h0m0-2.6h0m-.6 1h0m-1.5-.1h0m-.2 1.6h0m-.2-1.2h0m-.2-.1h0m-.2 1.1h0m-1.5-.9h0m-.5-.9h0m-.9 .2h0m-.2 1.6h0m-.3-.9h0m-.2 1h0m-.2-.9h0m-.2-1.4h0m-.1 .6h0m-.4 .9h0m-.9-1.3h0m-2.7 2h0m-1.2 .3h0m-.1-1.8h0m-.8 0h0m-1.4-.2h0m-.4 .2h0m-.1 1.2h0m-.3-.7h0m-.2-.2h0m-8 1.1h0m-1.3 .4h0m-2.6-.5h0m-3.5 2.5h0m1-.2h0m.3-1h0m.4 .7h0m.1 .7h0m.1 .7h0m.3-.9h0m0-.7h0m.8 .2h0m.2-1h0m.4 1.9h0m.4-1.1h0m1.2 .8h0m2.6-1.8h0m.3 .3h0m.9-.3h0m1.1 1.6h0m.6-1.5h0m.6 .2h0m0 2.4h0m1.6-2.8h0m.1 2.3h0m.3-2h0m.1 .9h0m.7 1.7h0m.4-2.9h0m.2 2.9h0m1.4-2.5h0m.3 .2h0m.9 2.1h0m0-1.8h0m2.2 .4h0m.3-.6h0m.7 1.6h0m.3-.8h0m.1 .1h0m1.4 0h0m2.7-.4h0m1.2 1.5h0m0-1.2h0m.3 .6h0m.5-.8h0m.7-.2h0m1-.1h0m.2 .2h0m2.4-.4h0m.7 2.1h0m.3-.8h0m.9 .8h0m.4-2.3h0m.8 1.4h0m2.5 .5h0m4 3h0m-1.4-1.5h0m-.7-.2h0m-.1-.1h0m-.1 .8h0m-.1-.7h0m0 1h0m-1.8 .2h0m-1.3 .3h0m-.7-.5h0m-2.2 0h0m-.4-.2h0m-.1-1.2h0m-1.3 .2h0m-.1 0h0m-1.2 .7h0m-2.9 1.3h0m-.6-1.7h0m0 1.7h0m-.3-.1h0m-.3-1.4h0m-.5 0h0m-1.1 1.3h0m-.8-2.2h0m0-.1h0m-.3 .9h0m-.1-.6h0m0 .5h0m-.9 .1h0m-1.2 1.9h0m-1.2-1.8h0m-2.1 .7h0m-.1 1h0m-.3-1.6h0m-1.4-.5h0m-.1 .6h0m-.4 .2h0m-1.7 0h0m-1.9 .5h0m-.8-.6h0m-.5-1h0m-.2-.2h0m-1.6 .9h0m-.7 .6h0m-.5-.3h0m-.6 1.1h0m-1.5-2.3h0m-.5 1.7h0m-.8 .2h0m-1.3-.8h0m-.6 1.2h0m-2.3 .2h0m-1.3-.1h0m-1.7 3h0m.7-.2h0m.4 .3h0m.1 0h0m.2-.2h0m.5 .1h0m.8-2.3h0m.2 2h0m.1 0h0m.2-2.2h0m.8 1h0m1.2 .6h0m0 .9h0m.8-.5h0m.9-.6h0m1.1 .5h0m.2-1.6h0m.3 2h0m.2 0h0m.1-1.2h0m.9 1.7h0m.4-1.1h0m1.3-.9h0m2.5-.4h0m.7 .5h0m.6 1.6h0m.3-.4h0m.8-1.7h0m.1 .6h0m.7 1.8h0m0-2.5h0m.5-.1h0m.6 .9h0m.2 0h0m4.2-1.1h0m.3 .5h0m.3 2.3h0m0-1.7h0m1.4 1.3h0m.5 .2h0m.2-1.7h0m.3-.1h0m0 .4h0m2.8-.6h0m.1 1h0m.4-.3h0m.7 .3h0m1.8 .2h0m0-.7h0m.9-.2h0m1.4 1.3h0m.2-2.2h0m.6 1.5h0m.3 .7h0m.2-.9h0m.3-.7h0m.3 1.3h0m.8-.7h0m.2 .7h0m.8-.9h0m.8 1.5h0m.5-1.8h0m.3-.6h0m0 2.2h0m.8 .1h0m1.6-.5h0m1 .8h0m.2 0h0m.1-.4h0m.2-1.3h0m1 .7h0m.6-.8h0m1.1-1h0m0 1.3h0m.3-.4h0m2.4 3.6h0m-2.4 1h0m0 .2h0m0 .2h0m-.2-2.3h0m-1-.2h0m-1.8 1.6h0m-.7-1.6h0m-2 1h0m-.6-1.4h0m-.1 .2h0m-.1 1.7h0m-1.5 .5h0m-.4-2.1h0m-.2 .5h0m-.1 1.7h0m-.7-1.3h0m-.3 .8h0m-.8-.2h0m-1.2 .5h0m-2.1-.5h0m-.3 .4h0m0-.6h0m-1.1-1h0m-.5 1h0m-.5 .6h0m-.1-.4h0m-.6-1.5h0m-.4 1.9h0m-1.1-1.5h0m-.5 2h0m-1.3-2.6h0m-.9 2.2h0m0-.7h0m-.3-1.5h0m-.7 .4h0m-.4 .6h0m-2 .8h0m0-.5h0m-.1 1.4h0m-2.9-.8h0m-2.4 .6h0m-.5-1.3h0m0 .4h0m-.2 .5h0m-1.8 0h0m-1.1-.6h0m-3.2-1.6h0m-.3 .6h0m-1.5 2.2h0m-.8-1.9h0m-1.9 .9h0m-1.9-.7h0m-.4-.1h0m0 .9h0m-.9-.2h0m-.5 .9h0m-1.1-.1h0m-.5-.7h0m-.1-.6h0m5.3 4.4h0m1.1 .3h0m1-.5h0m1.7 .2h0m0-.6h0m.9-1.5h0m0-.5h0m1.3 2.5h0m.6-.9h0m0 .5h0m.5 .3h0m.2-2.3h0m.1 1.9h0m.1-1.9h0m.3 2.6h0m.1-.5h0m.1 .4h0m.6-.4h0m.1-.9h0m.2 1.2h0m.4-1.9h0m1.1 1.7h0m.2-.2h0m.1-.6h0m1.1 .9h0m.2-1.4h0m.4 1h0m.4-.5h0m.1 .4h0m.6-.1h0m.2-.3h0m1-1.5h0m1.2 2.7h0m1-2.4h0m.2 .9h0m.6 1h0m1.5-1h0m.2 1.5h0m.2-.8h0m0 .2h0m.1 .4h0m.7 .4h0m.2-2.3h0m.2 1.7h0m.2-.5h0m1.1-1.3h0m.1 .3h0m2.1-.7h0m2.1 1.8h0m0 .9h0m.1-2.5h0m1.1 2h0m.4-1.1h0m.2-1.1h0m.2 1.9h0m1.4-.9h0m1.3 1.1h0m.1-1.6h0m.4 1.6h0m.4-.9h0m0 1.5h0m.1-.2h0m.3-1.7h0m.6-.1h0m.2 2h0m.2-1.4h0m.3 0h0m1 .9h0m0-.1h0m.6 .7h0m.6-1.8h0m.6 .6h0m.2-.4h0m.7 .3h0m3.7-1.5h0m-7.3 3.6h0m-.8 .5h0m-1.4 .9h0m-.2-.6h0m-.4-1.2h0m-.7 .1h0m-.9 1.6h0m-.5 0h0m-1.8-2h0m-.2 2.1h0m-.1 .1h0m-.2-.6h0m-.3-.6h0m-1.8-.7h0m0 .1h0m-.3 .6h0m-.2-.1h0m-.5 1.1h0m-.8 .6h0m-.8 0h0m-1.3-2.2h0m-.7 2.3h0m-.4-1.6h0m-1.1-.3h0m-1 1.5h0m-1.1-.3h0m-.1 .7h0m-.6-1.7h0m-.9-.3h0m-.9 1.2h0m-.7 .1h0m-.1-.4h0m-.3 .3h0m-1.1-1.1h0m-.1-.3h0m-1 1h0m-.6-1h0m-1.1 2h0m-1.4-2.2h0m-1.1 .5h0m-1.3 1.7h0m-.1-1.7h0m-6.7-.7h0m2.2 3.7h0m.4 .2h0m1-1h0m.8 0h0m.1 1.1h0m.2-.6h0m.2 1h0m.4 .3h0m.2 .1h0m.4-.3h0m1.7 1.2h0m.1-2h0m.4-.7h0m.8 2.4h0m.7-.2h0m.6-.8h0m.3 .9h0m1.2 .3h0m.4-.1h0m.8-2h0m2 2h0m.6-.4h0m.3-1.1h0m.1-.6h0m.1 .2h0m.1 2.1h0m.4-1h0m.2 .1h0m.4-1.7h0m1.1 2h0m.3 .2h0m.7 .2h0m3.8 0h0m.1-1.2h0m.1 1.1h0m.4-.8h0m.2-1.3h0m.9 .5h0m.2 1h0m1-1.6h0m.3 2h0m.1-1.7h0m.5 .4h0m.7-.2h0m.1-.5h0m.1 .6h0m.1-.3h0m.8-.4h0m1.7 1h0m.4 .8h0m.8-1.6h0m-3.7 3.1h0m-1.1 .7h0m-1.3 1.3h0m-.3-1.3h0m-.8 .7h0m-.9-1.2h0m-.4 1.2h0m-.6-.6h0m-.4-.3h0m-2.7-.9h0m-.1 2.8h0m-.6-.2h0m-.3-.4h0m-.2 .4h0m-.2-2.4h0m-.4 1.6h0m-3.4-.4h0m-3.2-.2h0m-.5 .9h0m-.8 .3h0m-2.7-2.4h0m-.4 .7h0m-.4 1.2h0m-.3-1.6h0m-1.7 0h0m0-.2h0m4.1 3.6h0m1.1-.1h0m.2 1.9h0m.1-1.6h0m1.3 1.7h0m.3-.1h0m.4-.8h0m1-.9h0m1.3-.7h0m.2 1.4h0m.9 1h0m.3-1.5h0m.2 .9h0m.4 .5h0m.2-1.2h0m.4-.5h0m1.2 .4h0m.5-.9h0m4 .3h0" stroke="#b3e28a" stroke-width="1.1" stroke-linecap="square" fill="none"/>
<path d="M93.9 431.6h0m-3.8-1.3h0m-3.7 3.8h0m.9 .5h0m.1-2.1h0m2.5-.2h0m.3 5.1h0m-3.3-.3h0m-1.2 2h0m.2 1.5h0m3.3-1.9h0m.6 2.1h0m1.9-.9h0m1.6-1.1h0m.4 1.3h0m-5.3 1h0m-1 .2h0m-3.7 4.4h0m.2-1.6h0m3.7 1.7h0m.3-.2h0m1.3 3.8h0m-4.5 .3h0m-.8-1.6h0m-19.4 3h0m19.6 .1h0m0 .3h0m3.6 .3h0m31.1 .7h0m4.3-1.4h0m5.7 1.4h0m.4-.4h0m-2.3 3.4h0m-14.2-.7h0m-3.1-1.6h0m-22.9 1.8h0m-1.6-.7h0m-.2 .9h0m-3.7-1.9h0m0 1.9h0m-.2-.3h0m-14.2-1.4h0m-.1 .8h0m14.5 1.9h0m3.8 .1h0m1.2 1.8h0m.6-1.5h0m6.7 .4h0m3 .4h0m.6 .5h0m14.4-1.8h0m-.5 5.7h0m-.9-.2h0m-21.2-1.9h0m-.2 .4h0m-.8 .6h0m-.8 1.2h0m-41.9 1.1h0m6.8 1.8h0m20.5-1h0m16.9 0h0m21.2-1.7h0m35.2 2.7h0m1.8 2.4h0m-61.2-1.5h0m-14.4 1.3h0m-.2-1.3h0m-1.8 1.8h0m-22.5-.1h0m-1.6-1.6h0m-.3-.8h0m.8 4.6h0m3.6-1.5h0m1.9 2.4h0m20.8 .1h0m42.2-2h0m2.2 .3h0m.3 .9h0m1.4-.7h0m22.3 1.2h0m2.2-2h0m1.1 1.8h0m10.5 3.2h0m-6.7 .1h0m-2.9-.7h0m-.4-1.7h0m-41.6 2.6h0m-.5-1.9h0m-.5 2h0m-1.5-2.1h0m-29.7 1.6h0m-.6-.7h0m-1.7 3.3h0m2.1-.8h0m68.3 1.1h0m.2-.8h0m5.5 1.3h0m3.1-.6h0m2.6-.7h0m6.2 3.4h0m-2.4-1.2h0m-.3 2.1h0m-1.4-2.5h0m-1.3 1h0m-2.9 1h0m-2.2-.6h0m-1.5-.6h0m-.2 1.4h0m-2.3-.6h0m-2.5-.4h0m-.9-.8h0m-2.7 .8h0m-6.4-.4h0m-1.2 .5h0m0 .2h0m-.2 .9h0m-25.2-.1h0m1.5 3.1h0m2.2-1.7h0m26.7 .5h0m.7 .3h0m1.8 .9h0m1.2-1h0m2.9-.6h0m1.9-.7h0m.7 .8h0m5.3 .5h0m2 .8h0m6-.8h0m-4.2 1.5h0m-5.1 1h0m0-.5h0m-2.9-.3h0m-2.2 .7h0m-.7 1.3h0m-1.3 .3h0m-5.5-.8h0m-1.3-1.5h0m-3 1.1h0m-.6 .9h0m-2.5-.4h0m-42.9 2.3h0m17.1 .1h0m17 1.1h0m.3-.3h0m13 .1h0m1.1 .3h0m6 .4h0m.1-2.1h0m.5-.5h0m4.6 .9h0m1 0h0m8.8 3.6h0m-2.1-.4h0m-1.6-.8h0m-2 1.2h0m-1.1-1.4h0m-1.4 2.3h0m-3.5-1h0m-5.4 0h0m-3.8-1.3h0m-1.9 1.2h0m-.8-.9h0m-1.5 1.9h0m-10-2.4h0m-12.5 0h0m-6.6 .7h0m25.3 4.9h0m3.3-1.5h0m.4 .1h0m5.2 1.3h0m1.2-.7h0m.2-.5h0m.2-.4h0m0 1h0m.1-.3h0m.7-1.4h0m3.7 1.5h0m5.6 .6h0m6.6-1.1h0m1.2-1.1h0m2.2 1.7h0m.4-.1h0m.5-1h0m-3.7 3.4h0m-8.6 .7h0m-2.8-.1h0m-1.9-.1h0m-4 .1h0m-8.1-1.7h0m-42 3.9h0m36-.5h0m13.8 .6h0m1.8 1.3h0m3.9-1.6h0m5.2-.2h0m2.2 .4h0m1.7 0h0m1.2-1h0m1.9 1.7h0m1.6 .3h0m-2.5 3.9h0m-.3-1.5h0m-4.4 .6h0m-2.4-1.4h0m-.6 1.4h0m-7.9 .7h0m-38.7 2h0m1.5 1.1h0m38-2.5h0m.1 0h0m1.9 .2h0m1 0h0m8.5 .6h0m.3-.2h0m-4.9 3.6h0m-1.3-1.2h0m-.2 1.2h0m-40.8 1.3h0m-3.4-.6h0m-13.8 .7h0m-6-.8h0m-5.7 .1h0m5.9 1.6h0m17.6-.4h0m5.7-.2h0m.1 1.9h0m1-1.1h0m1.9-.9h0m1.1 1.8h0m-.1 3h0m-3.2-1.1h0m-2.8 .9h0m-17.8-.6h0m-10.5 1.2h0m-1.6 2.2h0m14.5 .3h0m10.8-.8h0m13 1.2h0m-9.7 2.9h0m-.2-.4h0m-3.8 .1h0m-6.6-1.7h0m-2.3 .6h0m-2.6 .3h0m-12.1 1h0m-.1-.6h0m-.1 .9h0m0 .4h0m-5.4 2.1h0m27.7 1h0m1.3-2h0m2-.4h0m5.6 .4h0m-11.1 2.8h0m-5.5 .1h0m-13.5 .7h0m-2.7 1.3h0m6.9 .7h0m12.6 .5h0m7.9 2.3h0m-11.7 1.9h0m-.9 .4h0m-1.4-1.5h0m-.1 .9h0m-1.1-.4h0m-9.8-1.2h0m6.1 3.8h0m.8-.5h0m.8 2.2h0m2-.5h0m1.5-.3h0m3.8-1.4h0" stroke="#5e3a9c" stroke-width="1.1" stroke-linecap="square" fill="none"/>
<path d="M92.7 428.5h0m-3.7 4.4h0m.1 9.9h0m11.1 2.7h0m.1 2.9h0m-10.6 .5h0m-1.6 .5h0m-2.2 1h0m14.4 .4h0m12.5 1.9h0m1.7-.2h0m7.9-.8h0m3.1 .8h0m1.6-.9h0m4.1 .3h0m-1.4 4h0m-1.1-2.1h0m-3.5 .5h0m-1.7-.5h0m-1.4 1.5h0m-1.3 0h0m-10.4-.7h0m-23.9 1.2h0m-.6 3h0m.8-.4h0m28.7 0h0m.1-1.6h0m3.3-.2h0m14.4-.3h0m.3 .2h0m-23.2 3.6h0m-21.8-.1h0m-42.3 2.1h0m7.9 .7h0m33.2 .6h0m-14.3 3.8h0m-23.3-2.1h0m-2.2-.1h0m-.5 1.6h0m-1.7 1.7h0m25-.1h0m79.8 1.6h0m1.7 .8h0m-33.5 .8h0m-46.8 .6h0m-20.7-.8h0m20.2 3.5h0m67.6 .4h0m14.9 4h0m-11.7-.1h0m-2.1-1.4h0m-12.8 1.4h0m-.9-.4h0m-16.8 1.2h0m-7.8 0h0m-22.7 1.2h0m22.3-.3h0m26.8 1.3h0m5.1 .5h0m10.1-2.4h0m9 4.8h0m-.2-.2h0m-4.8-.2h0m-.9-.4h0m-42.9 0h0m-5.6 1.4h0m-8.4-.6h0m-22.7-.5h0m-1 .5h0m13.9 3.2h0m27.6 .6h0m18.4-1.7h0m24.8 .4h0m4.5-.4h0m.2 2.2h0m-30.8 .1h0m-22.5 .9h0m-2.5 .3h0m-14.9 0h0m-3.2 3.2h0m25.5 .5h0m1-1.1h0m14.1 1.2h0m10.5-1.8h0m2.7 .6h0m.3 1.3h0m6.8-1.3h0m14.7 1.3h0m-2.4 .7h0m-9.8 2.2h0m-.2-1.4h0m-48.8 1.7h0m-4.6-.5h0m-14.9 3.7h0m57.4-1.6h0m15.4 .5h0m4.2 3.8h0m-61-.1h0m-1.8 0h0m-3.1 .8h0m.7 .2h0m54.9 1.2h0m-2.8 2.1h0m-41.6 1.1h0m-.1-.6h0m-1.9 .4h0m-6-.4h0m-8.1 .8h0m-.8 .8h0m-3.7 .6h0m1.4 1.5h0m24.1 .6h0m-20.5 2.3h0m-3.2 .3h0m-1 .9h0m23.9 .9h0m2.8-.5h0m.8 4.2h0m-4-.5h0m-12.5 1.4h0m-7.7 .8h0m6.3-.2h0m13.6 .3h0m4 1.1h0m-3.3 2.4h0m-25.5 3.5h0m5.9 0h0m.3-1h0m2.7 1.1h0m4-1.2h0m.3 2.2h0m2.2-.5h0m3.2 1.6h0m-18.1-.2h0" stroke="#b15e2c" stroke-width="1.1" stroke-linecap="square" fill="none"/>
<path d="M123.5 449.9h0m-56.6-.5h0m45.3 2.2h0m3.2 4.3h0m-3.7-2.6h0m-.7 1.9h0m3.1 1.8h0m15.1-.5h0m-17.6 4.4h0m-1.2 0h0m2.2 1.5h0m-38.8 2.9h0m54.2 15.6h0m10.1 2.3h0m-30.7 1.7h0m-9.9-.5h0m-.5 1.4h0m.4 1.2h0m33.4-.3h0m-3 3.2h0m-32.7 .9h0m2.3 1.2h0m32.8 2.8h0m17.3 2.2h0m-62.2-1.5h0m65.9 3.3h0m-15 4.2h0m-36.4-1.9h0m-9.1 1.9h0m8.2 3.2h0" stroke="#f58422" stroke-width="1.1" stroke-linecap="square" fill="none"/>
<path d="M76.5 481.4h0m-2.9 5.5h0m9.5 8.7h0m-4 2.4h0m4.5 7h0m-7.5 3h0" stroke="#ffffff" stroke-width="1.1" stroke-linecap="square" fill="none"/>
<rect x="38.6" y="423.6" width="125.7" height="118.6" fill="none" stroke="#a9a9a9" stroke-width="0.7"/>
<path d="M38.6 428.1h-1.6M38.6 449.5h-1.6M38.6 470.9h-1.6M38.6 492.2h-1.6M38.6 513.4h-1.6M38.6 534.4h-1.6M55.3 542.2v1.6M79.1 542.2v1.6M102.9 542.2v1.6M126.6 542.2v1.6M150.3 542.2v1.6" stroke="#555" stroke-width="0.5" fill="none"/>
<text x="35.3" y="430.1" font-size="10" text-anchor="end" textLength="8.6" lengthAdjust="spacingAndGlyphs">15</text>
<text x="35.3" y="451.8" font-size="10" text-anchor="end" textLength="8.6" lengthAdjust="spacingAndGlyphs">10</text>
<text x="35.3" y="473.1" font-size="10" text-anchor="end" textLength="4.4" lengthAdjust="spacingAndGlyphs">5</text>
<text x="35.3" y="495.3" font-size="10" text-anchor="end" textLength="4.4" lengthAdjust="spacingAndGlyphs">0</text>
<text x="35.3" y="516.5" font-size="10" text-anchor="end" textLength="7.6" lengthAdjust="spacingAndGlyphs">-5</text>
<text x="35.3" y="538.1" font-size="10" text-anchor="end" textLength="11.8" lengthAdjust="spacingAndGlyphs">-10</text>
<text x="52" y="553.9" font-size="10" text-anchor="middle" textLength="11.8" lengthAdjust="spacingAndGlyphs">-10</text>
<text x="78" y="553.9" font-size="10" text-anchor="middle" textLength="7.6" lengthAdjust="spacingAndGlyphs">-5</text>
<text x="103" y="553.9" font-size="10" text-anchor="middle" textLength="4.4" lengthAdjust="spacingAndGlyphs">0</text>
<text x="126" y="553.9" font-size="10" text-anchor="middle" textLength="4.4" lengthAdjust="spacingAndGlyphs">5</text>
<circle cx="171" cy="442" r="2.5" fill="#3f80ba"/>
<text x="176.5" y="444.2" font-size="10" textLength="37.8" lengthAdjust="spacingAndGlyphs">Brainstem</text>
<circle cx="171" cy="454" r="2.5" fill="#3faa35"/>
<text x="176.5" y="456.2" font-size="10" textLength="44.7" lengthAdjust="spacingAndGlyphs">Dorsal pons</text>
<circle cx="171" cy="466.1" r="2.5" fill="#e5262a"/>
<text x="176.5" y="468.3" font-size="10" textLength="61.1" lengthAdjust="spacingAndGlyphs">Locus coeruleus</text>
<circle cx="171" cy="478.2" r="2.5" fill="#f58422"/>
<text x="176.5" y="480.4" font-size="10" textLength="29.6" lengthAdjust="spacingAndGlyphs">Medulla</text>
<circle cx="171" cy="490.2" r="2.5" fill="#5e3a9c"/>
<text x="176.5" y="492.4" font-size="10" textLength="16.7" lengthAdjust="spacingAndGlyphs">NTS</text>
<circle cx="171" cy="502.1" r="2.5" fill="#b15e2c"/>
<text x="176.5" y="504.3" font-size="10" textLength="71.3" lengthAdjust="spacingAndGlyphs">Nucleus_ambiguus</text>
<circle cx="171" cy="514" r="2.5" fill="#a9d3e6"/>
<text x="176.5" y="516.2" font-size="10" textLength="19.6" lengthAdjust="spacingAndGlyphs">Pons</text>
<circle cx="171" cy="525.9" r="2.5" fill="#b3e28a"/>
<text x="176.5" y="528.1" font-size="10" textLength="79.5" lengthAdjust="spacingAndGlyphs">Ventrolateral medulla</text>
<path d="M19.4 533.5V546.7H33.5" stroke="#c4c4c4" stroke-width="0.7" fill="none"/>
<text x="12.2" y="534.4" font-size="10" text-anchor="middle" textLength="29.2" lengthAdjust="spacingAndGlyphs" transform="rotate(-90 12.2 534.4)" fill="#2a2a2a">UMAP2</text>
<text x="18.6" y="561.8" font-size="10" textLength="27.6" lengthAdjust="spacingAndGlyphs" fill="#2a2a2a">UMAP1</text>
<rect x="294.2" y="395.4" width="105" height="24.4" rx="5" fill="#fdfdf7" stroke="#a8a8a8" stroke-width="0.55" stroke-dasharray="3.4 0.7"/>
<text x="347" y="412.8" font-size="12.3" text-anchor="middle" textLength="20" lengthAdjust="spacingAndGlyphs" fill="#3c3c3c">Age</text>
<rect x="284.7" y="423" width="126.2" height="120.1" fill="#fff"/>
<path d="M284.7 428.2H410.9M284.7 449.6H410.9M284.7 470.9H410.9M284.7 492.3H410.9M284.7 513.6H410.9M284.7 535H410.9M300.9 423V543.1M324.8 423V543.1M348.6 423V543.1M372.4 423V543.1M396.2 423V543.1" stroke="#ececec" stroke-width="0.6" fill="none"/>
<path d="M284.7 438.9H410.9M284.7 460.2H410.9M284.7 481.6H410.9M284.7 503H410.9M284.7 524.3H410.9M288.9 423V543.1M312.9 423V543.1M336.8 423V543.1M360.7 423V543.1M384.6 423V543.1M408.5 423V543.1" stroke="#f3f3f3" stroke-width="0.4" fill="none"/>
<path d="M306.8 487.5 307.8 486.3 309 485.4 309.9 484.3 311.2 483.7 312.5 483.2 313.6 482.1 315.2 482.1 316.7 481.8 318.3 481.6 319.6 480.5 321.2 480.4 322.8 480.3 324.3 481.2 325.9 481.3 327.2 480.8 328.9 481.1 330.1 480.6 331 479.7 331.9 480.6 333.1 481.2 334.1 482 334.6 483.6 336 484.6 336.8 486 337.5 487.1 339.4 486.9 341.2 487.4 341.8 486.1 342.8 485 343.1 483.6 343.9 482.4 344.7 481.2 345.7 480.2 346.5 479 347.3 477.6 348.8 477.8 349.6 477.3 351.1 477.3 352.6 477.4 354.3 477.3 355.1 478.3 355.9 479.4 356.8 480.3 357.6 481.9 359.1 482.6 360.2 484.1 362 484.2 363.4 485.3 365.3 485.8 366.6 484.6 368.2 484.5 369.9 484.9 371.3 484.1 373.1 484.3 374 483.1 375 482.1 376.6 481.9 377.9 481.4 378.8 480.2 380 479 381.4 478.2 383.2 477.6 384 476.2 384.6 474.5 385.7 473.4 386 472.1 386.4 470.8 387.6 469.8 387.5 468.2 388.6 467.2 389.3 466 389.8 464.6 390.8 463.8 392.6 463.7 393.9 464.7 395.6 465.4 396.6 466.7 398.1 467.6 398.8 468.7 398.9 470.3 399.9 471.2 401.1 472.1 401.2 473.6 402.5 474.6 402.9 475.9 403.1 477.3 403.6 478.5 404.5 479.7 403.9 481.2 405.1 482.2 405.3 483.5 405 485 405.7 486.3 405.9 487.7 406.1 489.2 406 490.8 405.1 492.2 405.1 493.9 404.3 495.4 404.2 497.1 403.5 498.3 402.3 499.4 402.2 500.8 401.5 502.1 400.6 503.1 400.1 504.7 399 505.9 397.3 506.4 396.4 507.5 395.4 508.6 394.1 509.2 392.6 509.1 391.4 509.4 389.9 510.4 388.2 509.7 386.8 510 385.6 509.4 384.4 508.7 383 508 382.3 506.7 382.6 505.1 381.3 504.1 381.1 502.4 380 501.1 379.9 499.3 378.7 498.2 377.4 497.2 376.6 496.1 374.9 495.8 373.5 496.8 372 497.1 370.5 497.2 368.8 497.4 367.7 498.4 366.7 499.5 365.1 499.7 364 500.8 362 500.8 362.6 498.7 364 498 365 496.8 366.2 496.6 365.8 495.5 365.3 494.5 366.2 493.2 367.6 492.5 369 491.9 369.8 490.2 368.1 490.2 366.5 489.9 364.9 490.4 363.3 491.3 361.7 491.8 360.5 492.3 358.8 491.8 357.7 492.5 356.3 492.8 355.3 494.3 353.5 494.4 352.2 495.2 350.7 496.3 349.9 497.7 348.8 499.1 349.5 500.7 348.7 502.1 348.6 503.6 348.5 505.1 348.8 506.7 349.7 508.1 350.4 509.6 351.2 511.2 352.8 511.9 353.6 513.3 354.5 514.6 355.6 515.7 357.2 516.4 358.2 517.8 359.2 518.6 359.7 519.9 359.9 521 358.9 522 357.6 522.7 356.5 523.4 355.4 524.5 354 524.4 352.6 524.5 351.3 525.2 350.1 526.4 349.1 527.7 347.5 528.5 346.7 529.6 345.9 530.8 344.8 531.5 343.9 532.8 342.3 532.8 341.5 534.2 340 534.2 338.4 534.9 336.9 535.6 335.2 535.6 333.7 536.3 332.1 536.6 330.4 536.8 329.1 537.9 327.4 538.6 325.6 538.3 323.9 538 322.2 537.3 320.9 536.2 320.6 534.6 319.5 533.8 318.4 532.9 317.8 531.5 316.4 530.8 315.7 529.5 314.4 528.7 313.6 527.5 312.9 526.1 311.9 525 311 524.2 310.3 522.7 310.3 521.1 310.6 519.6 310.9 518 311.8 516.6 312.9 515.7 313.7 514.7 314.4 513.5 315.3 512.6 315.8 511 316.8 509.9 318.1 509.1 319.4 508.4 320.9 507.9 322.4 507.7 323.6 507.3 324.6 506.5 325.4 505.9 325.3 504.6 324.8 503.5 323.7 502.7 322.2 502.5 321 501.9 320.1 500.4 318.4 500.6 317.6 499.1 316.3 498.5 314.8 497.8 314.2 496.4 312.5 496 311.5 494.8 310.8 493.3 309.3 492.3 309.1 490.5 307.8 489.8 307.1 488.8ZM338.7 427.6 339.9 428 341.1 428.7 342.5 428.5 343.4 429.8 344.3 431.1 345.6 432.1 346.2 433.6 346.6 435 346.9 436.5 348.2 437.6 348.5 439.1 349.2 440.5 348.4 442 348.5 443.6 349.3 445.1 348.2 446.6 348.2 448 348.2 449.4 347.9 450.6 348 452 347.8 453.3 346.8 454.4 346.2 456 345 457.2 343.8 458.5 342.7 459.1 341.3 459.1 340 459.6 338.6 459.8 337.5 460.8 336.7 461.8 336.2 462.9 335.5 463.9 334.4 465.3 333 466.7 332 465.6 331.1 465.9 331.1 464.6 331.1 463.3 330.8 462 330.9 460.9 330 459.3 329.2 458.1 328.2 457 326.7 457 327.2 455.4 326.7 453.8 328 452.6 328.5 451.1 328.2 449.3 328.7 448.1 329.8 447 329.6 445.6 330.5 444.4 330 442.8 329.8 441.2 330.5 439.7 330.9 438.2 330.8 436.7 331.1 435.3 331.9 434.2 333.1 433.1 333.3 431.8 333.8 430.3 334.9 429.4 336 428.1 337.3 427.6ZM288.7 464.6 289.6 463.7 290.8 463 291.2 461.7 292.9 461.2 294.6 460.8 296.1 459.8 297.8 460 299.5 459.9 301 459.8 302.5 460.1 303.4 461.1 304.8 462.1 304 463.7 304.2 465.1 303.6 466.5 301.9 466.5 300.7 467.6 300.4 469 299.8 470.2 299.6 471.8 298.8 472.9 297.5 473.5 295.6 472.9 294.1 471.8 292.9 470.7 291.5 469.8 290.5 468.4 289.9 467.2 289.7 465.7ZM309.9 449.4 311.2 448.9 312.1 448.5 313.6 449.1 314.7 450.1 314.7 451.3 315.2 452.6 315 453.8 315.4 455.4 315.9 456.9 317.2 458.1 317.8 459.5 318.8 460.6 319.1 462.4 320.7 462.9 322.5 462.9 323.2 464 323.2 465.2 323.6 466.3 322.6 467.2 321.9 468.4 321 469.3 319.6 470.3 319.2 471.7 318.6 472.9 318.2 474.1 317.9 475.7 316.3 476.6 314.9 477.9 314 477.4 314.5 475.8 315.3 474.4 316 472.9 316 471.2 315.5 469.7 314.2 469.2 313.6 468.3 313.5 466.9 313.1 465.5 312.8 464.1 312.3 462.6 312.8 461.5 313.5 460.5 313.9 459.7 314.2 458 313.4 456.6 313.3 454.8 311.7 454.2 311.1 453.2 310.7 451.9 309.6 450.8ZM336.8 470.3 338 470.4 338.8 470.3 339.3 471.9 339.3 473.5 338.2 474.7 337.5 476.2 336.2 477.2 335 478.5 333.8 479.6 333 481.5 331.7 481.1 330.1 480.4 331.7 479.4 332.6 478 333 476.3 334.6 475.5 335.3 474.3 335.6 472.9 336.2 471.6ZM340.6 464 342.2 464.4 343.4 464.9 344.8 465.7 345.8 466.7 346.8 467.8 347.9 468.7 348.4 470 349.1 471.1 349.7 472.3 351 473.3 351.4 474.6 351.9 476.5 350.3 476.2 349.3 474.8 347.8 473.8 347.9 471.8 346.8 470.6 345.5 469.5 344.4 468.3 343 467.8 341.9 467.1 341.2 465.8ZM353.4 453.2 354.7 452.8 356.1 452.7 357.1 451.7 358.4 451.3 359.9 451 361.2 450.2 362.7 450.1 364.3 450.5 366.2 450.8 366.1 449.4 367.2 448.2 368.5 448.2 369.4 448.9 370.1 450.1 370.6 450.9 372.5 450.8 373.4 450 374.8 449.7 376.1 449.7 377.9 449.5 378.5 450.7 378.4 452.1 379.3 453 380 454.6 380.8 456.6 379.4 457.5 377.8 457.6 376.3 458.1 375 458.4 374.1 457.4 373.7 456.2 373 455.2 371.7 454.8 370.3 454.8 369.2 455.9 367.4 456.2 366.3 457.1 365.1 457.9 363.9 458.7 362.9 459.7 361.7 460.7 360.5 461.6 359.4 462.9 358 463.4 356.9 462.8 356.6 461.7 355.7 460.1 355.9 458.6 356.7 457.2 357 456.3 355.8 455.6 355 454.5ZM357.2 467.3 358.6 467.4 360.1 467.8 361.5 467.3 363 467.9 364.4 468.5 366.2 468.8 367 470.1 367.9 471.2 368.8 472.3 370.2 473.2 370.8 474.6 371.8 475.8 372.3 477.6 373.5 477.1 374.9 476.2 376 477.7 377.3 477.7 377 479.4 376.4 480.9 375.4 482 373.6 482.7 373.1 481.4 371.8 480.7 371.1 479.5 370.4 478.4 369.4 477.4 369 476.1 368.2 475 367.7 473.7 366.6 472.9 365.3 472.3 364 472 362.8 471.4 361.5 470.9 360.1 470.5 359.5 469.3 358.6 468.2ZM296.7 502.4 298.1 501.9 299.2 501.6 300.7 501.3 302.2 501.5 301.8 502.6 300.4 503.7 298.7 504 297.8 503.1Z" fill="#f4831f" stroke="#f4831f" stroke-width="0.7" stroke-linejoin="round"/>
<path d="M327.5 497.3h0.6v0.5h-0.6zM330.1 497.4h0.8v0.6h-0.8zM327.8 497.8h0.6v0.5h-0.6zM324.5 497.7h1.3v1h-1.3zM326.6 496.8h0.6v0.5h-0.6zM328.8 496.3h0.8v0.6h-0.8zM331 497.4h0.8v0.6h-0.8zM329.2 495.3h1.3v1h-1.3zM321.6 495.1h0.6v0.5h-0.6zM322.5 495.7h0.8v0.6h-0.8zM330.5 495.9h0.8v0.6h-0.8zM326.5 497.1h0.8v0.6h-0.8zM322.2 498h0.8v0.6h-0.8zM331.6 497.7h1v0.8h-1zM335.9 491.1h0.6v0.5h-0.6zM336.6 490.7h1v0.8h-1zM337.7 491.8h1v0.8h-1zM336.9 490.6h0.8v0.6h-0.8zM337.3 490.7h0.8v0.6h-0.8zM337.3 490.1h0.8v0.6h-0.8zM330.1 503.2h1v0.8h-1zM328.1 504.1h1v0.8h-1zM329.5 504h1v0.8h-1zM329.6 504.2h1v0.8h-1zM327.5 505.4h0.6v0.5h-0.6z" fill="#fff"/>
<path d="M337.1 428.3h0m.2 .1h0m3.8 .1h0m2.4 3.4h0m-.1-.8h0m-1.1-.8h0m-.5 .1h0m-.1-1.1h0m0 .4h0m-.3 1.8h0m-1 .1h0m-2-.3h0m-2-1.6h0m-2.8 4.5h0m1.1-1.1h0m.6-.7h0m.5 1.7h0m.2-.6h0m2.6 1.2h0m.8 0h0m1.1-2.6h0m0 1.9h0m.7-1.6h0m.6 1.2h0m2.2 1.1h0m.7-1h0m1.7 3.1h0m-.2-.8h0m-.4-.1h0m-1.2 .3h0m-.1-1h0m0 1.2h0m-.1-.5h0m0 1.3h0m-.6-1.3h0m-.3 1h0m-.5 .9h0m-.2-1.6h0m-.1 .8h0m-.1 0h0m-.1 .7h0m-.2-2.3h0m-.2 .4h0m-.2 .5h0m-.6 1.1h0m-.1-.8h0m-4.3 .6h0m-3.7-.6h0m-.8-.4h0m-1.7 2.8h0m1.9 1.3h0m.2 0h0m1.1-1.5h0m.6 .4h0m1-1h0m.4 1.2h0m1.8-.5h0m1.9 .1h0m1.2 .4h0m.7 .4h0m0-.7h0m.3-.4h0m.7-.5h0m.2 .6h0m.9 1.5h0m.2-2h0m.2 1.6h0m.1 .6h0m.9-1.4h0m.1 .8h0m.4-1.5h0m.2-.1h0m2.5 1.5h0m.2 4h0m-.1-.6h0m-.1-.9h0m-1.4-.4h0m-.8 1.9h0m-.3-1.1h0m-.3 .5h0m-.2 .7h0m-.5-2.9h0m-1.6 2.6h0m-2.1-.3h0m-2.2-.4h0m-4.2 .5h0m2 2.3h0m2 .4h0m.9 .1h0m.4-2.1h0m1 1.4h0m.4 1.1h0m.2-2.3h0m.5 .6h0m.5-.3h0m.2 1.5h0m.3-1.1h0m.7 .8h0m.1 0h0m.5 .9h0m.2-2.6h0m.9 .9h0m.6-.6h0m.2 0h0m.1-.3h0m1.1 1.3h0m.2-.6h0m.4 .6h0m.2-.1h0m27.1 4.4h0m-2.1 0h0m-25.3-2.1h0m-.4-.5h0m-.1 2.3h0m-.2-1.9h0m-.5 .6h0m-.8 .9h0m-1.2 .6h0m-.1-2.6h0m0 2.8h0m-.1-1.1h0m-1 .4h0m-1.1-1.9h0m-.4 1.1h0m-.1-.7h0m-.4-.1h0m-.6 2.1h0m-.4-2h0m-3.3 1.5h0m-.7 .4h0m-1.4-2.4h0m-1.2 .7h0m-1.4-.4h0m-18.4 2.5h0m-.6-.8h0m-.4 .1h0m-.1-.1h0m0 .6h0m-.5-1.4h0m-1.3 .7h0m-1 .4h0m.2 2.2h0m.3 .6h0m0-1.4h0m.3-.4h0m.3 2.2h0m.6-2.1h0m0-.3h0m.1 1.9h0m.1-1.8h0m.4-.1h0m.1 1.7h0m.3 .6h0m1.4 .2h0m.4-.7h0m.1 .4h0m0-.5h0m13.3-.3h0m1.9 0h0m.4-.7h0m1.3-.3h0m.8 1.6h0m.6-1.7h0m1.9 .8h0m2.8-1.1h0m1.4 .3h0m.4-.1h0m.2 2.2h0m1.1-1.6h0m1.6 .4h0m.1-1.1h0m.1 1.9h0m.5 .5h0m.3 .2h0m.3-2.8h0m.1 1h0m.1 1.5h0m.1-1.1h0m0-1.3h0m1.1 2.5h0m.6 .2h0m.5-2.9h0m.2 1.3h0m.1-.7h0m.3 .1h0m.4-.2h0m0-.3h0m11.3 1.2h0m.2 1.1h0m1.7-1.6h0m1.1 1.9h0m7.7-.7h0m0 .4h0m3 0h0m.6 .3h0m.6-2.2h0m.5-.3h0m.3 .1h0m.6 .4h0m.3 1.5h0m.3-.2h0m.1-.3h0m.3-1.8h0m0 .8h0m.4 1.2h0m.1-1.6h0m0 .1h0m.7-.2h0m.5 1.3h0m2.1 4.3h0m-.9-2.8h0m-.4 2.1h0m-.1-.1h0m-1.4-.9h0m-.3 .6h0m-.2-1h0m-.1 1.9h0m-1.2-2.1h0m-.7 1.5h0m-.1 .4h0m-.1-.3h0m-.4-1.8h0m-.3 0h0m-.1 .3h0m-.1-.7h0m-1 1.1h0m-.3-.4h0m-.2-.3h0m-.1 .7h0m-.2 .1h0m-.4 .3h0m-.2-.1h0m-2-.5h0m-.1-.3h0m-.2 1.5h0m-1.1-2.1h0m-.3 .7h0m-.4 1.5h0m-2.6-1.9h0m-2.4 2h0m0-1.6h0m-.1-.2h0m-.8 .3h0m-.8 .1h0m0 .8h0m-.3-1h0m-.8 .9h0m-.4-1.4h0m-.3 .3h0m-.8 1.4h0m-1.2-.5h0m0-.7h0m-.6 0h0m-.2-.1h0m-8.5 .3h0m-.6 0h0m-1 .8h0m-.3-.7h0m-.9 .9h0m-.1-1.4h0m-2-.1h0m-.9-.1h0m-1.2 2.6h0m-1.6-2.9h0m-2.1 2.3h0m-3.2-.9h0m-.3 1.2h0m-1.2-2.1h0m-.5 1.5h0m-.6-1.3h0m-.8 0h0m-.6 1.1h0m-.7-.6h0m-.9-1.1h0m-.1 1.9h0m0-1.1h0m-.2-.1h0m0 .9h0m-12.2 .3h0m-.1-1h0m-.3-.3h0m0-.7h0m0 .8h0m-1-.8h0m0 .3h0m-.5 .6h0m-.1-.6h0m0 .6h0m-.1 .2h0m0 .7h0m-.6-1.7h0m-.1 0h0m-.1 .7h0m-.2 .3h0m-.8-.8h0m2.5 3.3h0m.7-.5h0m.3 .5h0m.1 2.1h0m.3-.5h0m.4-.4h0m.3 .8h0m.1-1.2h0m.3 .6h0m.4 .2h0m13.4-.2h0m2.5-2h0m2.2 2.5h0m0-.2h0m.9-2.1h0m1.4 2.7h0m3.8-2.4h0m1.1 1.3h0m.3 .2h0m.4-1.4h0m.3 .6h0m.1 1.2h0m.3-1.1h0m.5-1.3h0m12.1 2.3h0m1.6 .6h0m1.4-2.3h0m0 1.3h0m1.1-1.5h0m3 1.7h0m.6-.7h0m.3-.2h0m.6 .3h0m1.3-.8h0m9.3 1.4h0m.7-1.7h0m1 .7h0m0-1.1h0m.1 1.6h0m.1-.8h0m1.1 0h0m.4 .4h0m1.6-.9h0m-17.1 2.7h0m-.2 .4h0m-.6 0h0m-1.5 .7h0m-.2-1h0m-1.8 .6h0m-1.2 1.8h0m-.2-.8h0m-.7 .8h0m-.4-1.9h0m-17.9 .5h0m-.7 .3h0m-.6-1h0m-1.5-.3h0m-1.2-.1h0m-15.1 2.8h0m-1.8-.5h0m-1.2-.2h0m-.7-1.7h0m-.1 1.5h0m-13.1 .4h0m-.5-1.2h0m-.2 .5h0m-1.5-.6h0m-1.2 .2h0m-.1-.3h0m-.3 .6h0m-1.2 1.4h0m-.6-.1h0m-.9-.6h0m-5.5 2.2h0m.1 .2h0m.1-.8h0m1.4 .2h0m.9 .2h0m.7-1.1h0m.2 2.8h0m.2-2.9h0m.5 .5h0m.3 1.1h0m.4 1.2h0m.3-.9h0m1.5 .7h0m.5-1.4h0m.2 1.6h0m.6-.1h0m.1-.6h0m.1-.5h0m1.4-.3h0m1.2 .7h0m.2-1.6h0m.6-.2h0m.8 2.1h0m.7-1.1h0m.4-1.1h0m.6 1.4h0m17.2 1.3h0m2.1 0h0m7.5-.7h0m0-.1h0m2.6-.7h0m2.1 .4h0m5.4 1h0m.4-.2h0m50.8 .2h0m4.2 2.5h0m-1.1-.3h0m-.2 1h0m-1-2.8h0m-.1 2h0m-1-.9h0m-.1 .6h0m-.2-1.2h0m-.4 .4h0m-.2 1.6h0m-.1 .3h0m-.2-2.9h0m-.2 2.7h0m-.1-2.4h0m0 .7h0m-.4 .4h0m-1.2-1.3h0m-.1 .5h0m-.9 2.2h0m-.4 0h0m-.3 0h0m-27.2 .1h0m-14.5-.3h0m-.6-.3h0m-2.1-.9h0m-1.2-.4h0m-10.7-.6h0m-8.7 1.3h0m-.7-1.6h0m-2.5 .9h0m-5.5 1.7h0m-.6 .2h0m-12.2-2.9h0m-.4 .7h0m-.3 .8h0m-.5-.9h0m-.1 2.2h0m-.2-1.9h0m-.1 1.9h0m-.3-2.7h0m-.9 .8h0m-.7-.2h0m0 .6h0m-.3 .5h0m-.3-1h0m-.3 .3h0m-1.5-1h0m-1.7 1.1h0m-.2-.8h0m-.4 1.7h0m-.2-1.1h0m-.3-.2h0m0 .7h0m-.1 .6h0m-.5-1.8h0m-.3 .7h0m0-.7h0m-.1 .4h0m-.8 2h0m-.6-.5h0m-.1-1h0m-.6-1.2h0m-.5 .4h0m0 .6h0m1.9 2.2h0m1.1 1.4h0m.2-1.1h0m1.9 1.2h0m.7 .5h0m.3-.8h0m.4 .5h0m.1-1.8h0m.1 2.3h0m1-2.4h0m.3 1.1h0m.3 1.2h0m0-.6h0m.2 .8h0m1 .3h0m0-.2h0m.1-2.4h0m.4 2.4h0m.4-1.2h0m16.6-1.3h0m2.3 1.1h0m.1-.3h0m18.4 1.6h0m1.4-.1h0m.4 .2h0m7-.2h0m.5-.9h0m1.2-.1h0m13-.3h0m.5-.5h0m.1-.2h0m.1 2.2h0m.2-2.2h0m.1 .8h0m.4 .8h0m.1-1.5h0m0 1.5h0m.1 0h0m.2-1.5h0m0-.3h0m.4 2.3h0m.2-1.4h0m.3-.2h0m0 1.8h0m0-.6h0m.7 .3h0m.5-1.7h0m.8 .9h0m.5-.2h0m.5 .3h0m.2 .8h0m21.2-2h0m.5 .6h0m.2 .7h0m.2-.9h0m1-.7h0m.3 2.2h0m.9-.3h0m.7-1.9h0m.1 .4h0m.2 .7h0m.3 1.4h0m.2-2.3h0m.2 1.8h0m1.6-.9h0m.7-.8h0m.1 2.1h0m.1-1.2h0m1.4 1.3h0m.5-1.3h0m0-.2h0m.6 .5h0m.2 1h0m.5-.1h0m.1-1.2h0m.3 1.4h0m.1-1.2h0m0 1.3h0m2.6 2.4h0m-.3 .1h0m-.5-.1h0m-.1 .4h0m-.4-1.3h0m-.4-.7h0m-.1 .7h0m-.1 1.5h0m-.3-2.7h0m0 .4h0m-.3-.4h0m-.5 2.1h0m-1.2-1.4h0m-.1 .1h0m-.1 1.5h0m-.3 0h0m0-1.1h0m-.3-.2h0m-.4-1.1h0m-.8 2.3h0m-.8-2.4h0m-.8 2.9h0m-.6-.4h0m-.2-1h0m-.2 .2h0m-.7-.8h0m-.2 .8h0m-.6-.5h0m-.1-.1h0m-.4 .7h0m0 .9h0m-1.5-2.2h0m-.9 1.6h0m-.2-1.9h0m-.3-.2h0m-.3 .7h0m-.1 2.1h0m0-2.2h0m-.2 1.7h0m0-.1h0m-.7 .2h0m-.2-.4h0m-.1 .7h0m-.2-.3h0m-16.3 0h0m-1-.6h0m0-.2h0m-.8-.6h0m-.2-.2h0m-.1-.7h0m-.8 .2h0m0-.1h0m-.2 .5h0m-1.1 .5h0m-.2 .2h0m-1.7-.6h0m-13.5 1.8h0m-.3-.7h0m-1.5 .4h0m-.6-2.1h0m-9.1 2.1h0m-1.2-.7h0m-19.6-1.3h0m-20.4 1.2h0m-.6-1.5h0m-.4 .4h0m-.4 .5h0m-.5-.1h0m21.6 3.3h0m17.5 .6h0m2.2-1.7h0m12.8 1.3h0m.6-1.2h0m19 .9h0m.4 .9h0m.2 .3h0m.1 .1h0m.2 .6h0m.1-2.8h0m0 2.1h0m.1 .5h0m0-1.6h0m.2 0h0m.2 0h0m.6 .9h0m.1 0h0m3.1 .9h0m9.8-.4h0m.8-1.3h0m.2-.6h0m.3 .8h0m.1 .4h0m0 .4h0m0-.3h0m.1-.7h0m.1-.3h0m.1-.9h0m.8 .7h0m1 .5h0m.2-.3h0m.8 1.7h0m.1-2.4h0m1.2 1.4h0m.6 .3h0m.6-.2h0m.9 .5h0m.4 .1h0m.2-1.1h0m.3-1h0m.3 .7h0m.3 .1h0m.8 1h0m.2-.2h0m0 0h0m.2 .6h0m.1-1.5h0m.2 1.4h0m.5-2.1h0m1.1 1.4h0m.4-.2h0m.1 .4h0m1.6 .6h0m0-1.8h0m.2 .9h0m.6 1.3h0m.1-.5h0m1.3-.5h0m.9 1h0m.4-1.3h0m.2 .2h0m.9 2.9h0m-.1 0h0m0 .2h0m-.5-1.1h0m-.1 1.4h0m-.2-1.5h0m-.1 1.1h0m-.3-1.3h0m-.4-.3h0m-.5 1.4h0m-1.3-1.3h0m-.2 .1h0m-1.4 .6h0m-.8 1.6h0m-1.3-.9h0m-.6-.5h0m-.1 1h0m-.3-.2h0m-.6-.7h0m-.5 .7h0m-.5 .4h0m-.9-.7h0m-.3 1.1h0m-.5-2h0m0-.3h0m-.7 .6h0m-.2 1.4h0m-1-.1h0m-.3-1.3h0m-.4 1.2h0m-.4-1.9h0m-.2 1.5h0m-1.6-1.3h0m-.2 1h0m-.7-.1h0m-.5 .9h0m-.1-1h0m0-1h0m-.3 .3h0m-.1 1.4h0m-.3-.8h0m-.3 1.5h0m-.1-1.5h0m0-.1h0m-.7-.3h0m-.2-.6h0m-.4 2.7h0m-.2-2.6h0m-.4 1.1h0m-.2 1.1h0m-.4-.4h0m-.1-.7h0m-.2 .1h0m-.6 1h0m-.2-.6h0m-.1 .9h0m-.7-.3h0m-.3 .2h0m-2.5-1.4h0m-1.1-.3h0m-.3 1.4h0m-.4 .2h0m-.5-1.1h0m0 .2h0m0 .2h0m-.6-.4h0m-.2-.2h0m-.4 .8h0m-.2-.9h0m-.1-.5h0m-.4-.6h0m-.2 1.6h0m-.1 .3h0m-.5-.3h0m-.4 1h0m-.1-1.3h0m0 1h0m-.5-.9h0m-.3-1.4h0m-17.3 .6h0m-1.9 2.2h0m-1-.6h0m-1.4-.9h0m-15.8-1.4h0m-2.5 2.8h0m-1.2 2.2h0m18.9-.5h0m.6 1.4h0m.1-1.1h0m.3-.9h0m.5 1.8h0m.4-.9h0m.1-1.1h0m.7-.1h0m1.2 2.3h0m1.7-1h0m.4-1.8h0m.1 1.2h0m1 1.4h0m17.3-1.7h0m1 1.1h0m0 0h0m.1-1.1h0m1.1-.9h0m.8 2.1h0m1-.4h0m.6 .4h0m.5 .1h0m1-1.9h0m.7 1.1h0m.1-.5h0m.4-.9h0m1.1 2h0m.9-1h0m.6 1.7h0m.2-.5h0m1.2-1.6h0m.2-.5h0m.4-.1h0m1.5 .9h0m.6-.6h0m.8 1.1h0m.5-1.1h0m.4 0h0m.2 1.7h0m0 .6h0m.1-1.5h0m.2-1h0m.6 0h0m.3 2.3h0m1.3 .3h0m.4-1.8h0m.5-.6h0m.3 1.9h0m.2 .1h0m.1-.1h0m.8-.9h0m.7 .2h0m0 0h0m.2-.9h0m1.3-.6h0m.2 1.7h0m0-.2h0m.3-1.2h0m.1 1.8h0m.2-.6h0m.6 .4h0m.3 .7h0m.1-1.4h0m.6 .9h0m.5-.9h0m.1-.5h0m.1 0h0m.3-.6h0m0 2.4h0m.4-2.5h0m.1 1.3h0m.2 .9h0m0-1h0m.6-.1h0m1.3 .8h0m.1-1.9h0m.6 1.5h0m1.4 1.2h0m-.4 2.6h0m-.9-1.8h0m-.2 .4h0m-.1 .2h0m-.1 .2h0m-.2 .5h0m-.1-1h0m-2.2 1.5h0m-1.6 .3h0m-.6-.9h0m-.1 .3h0m-.1-1.4h0m-.2 .5h0m-.8 1.3h0m-.3 .2h0m-.5-.8h0m-.3 .9h0m-2.3-2.1h0m-1 .6h0m-.6 .1h0m-.4 0h0m-1.3-.3h0m-.6 .5h0m-.1 1.1h0m-.1-.2h0m-.9-.3h0m-.1-1.1h0m-.6 1.3h0m-.2-.8h0m-.3-1.5h0m-.2 .8h0m-.7 .1h0m0 1.7h0m-.2-.4h0m0-2.1h0m-.3 2.7h0m-1.1-2.5h0m-.5 .8h0m0 .4h0m-.3 1h0m-.5-.5h0m-.2-.3h0m-.9-.8h0m0 .8h0m-.5 .9h0m-.6-.4h0m-1.3-1.1h0m-.1-.4h0m-.3-.4h0m-.7 .6h0m-1.5 .1h0m-.1 .7h0m-.8-.3h0m-.3-.4h0m0-.2h0m-.4-.5h0m-.2 0h0m-2.1 1.6h0m-.1 .8h0m-1.6-1.5h0m-.1 .9h0m-.1-1h0m0 .8h0m-6 .5h0m-4.3-.6h0m-.4-.6h0m0 .5h0m-.7 1h0m-.2-.5h0m-.2-2h0m-1.1 1.9h0m-.7-1.4h0m-.3 2h0m-.7-2.5h0m-.4 1.1h0m-.3 1.3h0m-.3-1.7h0m-.2 .9h0m-.6 1h0m-1-1.3h0m-2.2 1h0m-1.7-1.1h0m-.1 .6h0m-.6-.2h0m-.1-1.3h0m-1.8 .6h0m-3.6 1.5h0m-22.8-1.7h0m-3.8 3h0m5-.1h0m5.5 1.5h0m2.4-1.1h0m.7 .4h0m.1-.2h0m.1 .8h0m.2-1.5h0m4.5-.2h0m6.3 2h0m1.6-1.4h0m.3 .8h0m4-1.1h0m.4-.5h0m.7 1.2h0m.3 .6h0m1-2.2h0m.9 .7h0m2 2.2h0m0-1h0m.1-1.8h0m1 2.2h0m.2 .2h0m0-1.6h0m.5 0h0m.6 1.2h0m.2-.2h0m0 .6h0m.1-2.2h0m.1 .6h0m.7-.5h0m3.6-.4h0m.2 0h0m0 .6h0m0 1.3h0m0-1.7h0m.1 2.4h0m.3-.5h0m.5-1.8h0m.1 .3h0m.4 1h0m.1-1.6h0m.1 2.5h0m.2-1.9h0m.4 1.2h0m.1 .3h0m1.2 .1h0m0 .5h0m.1-.8h0m.1-.9h0m.1 1.5h0m0-2.1h0m.3 1.8h0m.2 0h0m.6-1.6h0m.2 2h0m.1-1.6h0m.1-.5h0m.2 1.2h0m.2 1.2h0m.4-1.2h0m.1-1.3h0m.2-.4h0m.3 1.8h0m.3 .1h0m.2-.3h0m.1-.4h0m.7 1.1h0m0-.3h0m1.7 .6h0m.6-1.4h0m.7-.2h0m.2 .2h0m.1 1.7h0m.1-2.2h0m.4 2.2h0m0-.8h0m.3-.3h0m.1 .6h0m.5-2.2h0m.8 .1h0m.1 1.4h0m.5 1.2h0m.1-2.2h0m.3 2.1h0m0-.1h0m.1-1.2h0m.2-.8h0m1.1 1.5h0m1.6 .5h0m.2-1.2h0m.1 .4h0m.9 .6h0m.5-1.7h0m.2 .2h0m.1 1h0m.3-.5h0m.1 .2h0m.5-1.4h0m.1 .7h0m.4 .8h0m.3-.1h0m0 .7h0m.9-1.2h0m.6-.3h0m1 1.4h0m.5-2h0m.2 .8h0m.2 1.5h0m.3-2.4h0m.2 1.5h0m.9-1h0m.1 2h0m.1-1.2h0m.1-1h0m.2 .4h0m.2-.4h0m.7 .9h0m.5-.3h0m.2-.6h0m1.2 2.1h0m.2-1.3h0m0 .1h0m.6-1.3h0m.4 1.2h0m.6 1.1h0m.9-1.4h0m.5 .3h0m.3-.5h0m1.1 1.8h0m.6-.4h0m.6-.7h0m1.1 .1h0m.9-1.6h0m0 0h0m.8 2.3h0m0 .1h0m.9-1h0m.7-.4h0m0-.7h0m.6 .1h0m.2 .5h0m.1 1.4h0m.2-.1h0m.4-1.2h0m.1-.5h0m2-.2h0m.1-.3h0m1.3 .2h0m.2 3.7h0m-.4 1.2h0m-.4 .1h0m-.2-.2h0m-.1-.4h0m-.3-.8h0m-.5-.8h0m-.5 0h0m-1 1.3h0m-.3-.8h0m-.2-.1h0m-.3 1h0m-.4-.6h0m-.3 1.7h0m-.1 .2h0m-.2-2.4h0m-.1 1.7h0m-.2-.7h0m-.4 .7h0m-.5-1.3h0m-1.5 1.6h0m-.1-.8h0m-1.1-.8h0m-1.4 .9h0m0-.4h0m0-.4h0m-.6 1.1h0m-2.3-1.8h0m-.5 0h0m-.3 .1h0m0 1.3h0m0 .3h0m-.5 .7h0m-1.8-1.3h0m-.1 .8h0m-1.6-.1h0m-.1 .9h0m-.1-1.8h0m-.2 1.4h0m-1.8-2.4h0m-.3 1.5h0m-1.5-1.5h0m-.5 1.6h0m-.7 1.3h0m-.1-2.8h0m-.2 2.4h0m0 .3h0m-.1-2h0m-.6 1.5h0m-.2-.6h0m-.2-.9h0m-2.3 1.5h0m-.2-1.2h0m-.8-.9h0m-.1 1.6h0m-.8-1.6h0m0 2.4h0m-.3-.3h0m-.3-1.7h0m-.8 2.2h0m-.2-.1h0m-.1-.5h0m-.7 .3h0m-.1-.3h0m-.7-.5h0m-.4 0h0m-.2 .8h0m0-.3h0m-.5 0h0m0-2h0m-.2 1.3h0m-.1-1h0m-.2-.4h0m-.4 1.1h0m-.1-.3h0m-.2 1.6h0m-.3-2h0m-.1-.3h0m-.3 1.4h0m0-1.5h0m-.2 2.2h0m-.2-.9h0m0 1.1h0m-.2-1h0m-.6 0h0m-.3-.1h0m-.2-.5h0m-.2 .2h0m-.1 .1h0m-.4-.6h0m-.9-.5h0m-.9 .5h0m-.5 .5h0m-.4 0h0m-.3-.7h0m0-.1h0m-.6 1.3h0m0-.8h0m-.6 .3h0m-.8 .6h0m-.2-.9h0m0-.8h0m-.2 1.7h0m-.4 .3h0m-.1-.8h0m-.6 0h0m-.4 1.3h0m-.2-1.3h0m-.2 .3h0m-.3 .1h0m-.4-1.4h0m-.8-.1h0m-1 1.7h0m-.7 .2h0m-2.6 .9h0m-.5-1.2h0m-.5-.4h0m-.4 .5h0m-.9-.9h0m-.1-.6h0m-.6 1.5h0m-2.4 .4h0m-.3 .4h0m-5.2-1.7h0m-7.5 0h0m-.6 2h0m-5.1-.3h0m-3.7-.6h0m-3.5-1.5h0m-10.4 1.9h0m2.2 3.3h0m5.3-2.5h0m4.4-.1h0m6.2 .8h0m.1-.8h0m.5 .7h0m4.9 1.8h0m.4-2h0m3.1 1.1h0m2.2-.7h0m1.5 .3h0m2.1-.5h0m.1 1.3h0m2 .7h0m.5-1.9h0m.4 .2h0m0-.7h0m.2 1.3h0m3.2 1.1h0m0-2.2h0m.1 .9h0m.1 0h0m.2 .2h0m.1 0h0m1.2-.3h0m1.1-1.4h0m0 1.7h0m.6-.1h0m3.1-1.6h0m7 2.4h0m.2-.4h0m1.1 .2h0m.8-.8h0m.1 .1h0m.1 1.1h0m0-1h0m1-1.2h0m1.3 1.6h0m1.1-.3h0m.4 .8h0m.3 .4h0m0-1.5h0m.2 .3h0m.3 .9h0m.5-1.9h0m0 2h0m.2-2.3h0m.2 .8h0m.1-.1h0m.3 .2h0m.4 .2h0m.4 .7h0m0-.6h0m.1 1.1h0m.9-.4h0m.1-.2h0m0 .8h0m.9-.2h0m.1-2.3h0m.2 2.5h0m.3-2.3h0m.2-.5h0m.3 1.5h0m.3-.4h0m.1 .3h0m0-.2h0m.6 1.3h0m1.1 .3h0m1.2-.7h0m.4 .1h0m.2-.1h0m.3-.7h0m.3-.9h0m1.5 .1h0m.7 1.9h0m.6 .1h0m.5-1.3h0m.9 1.2h0m.6-1.6h0m.4 1.9h0m0-.5h0m1.4-.7h0m1.4-.3h0m.5 1.5h0m1.3-2.4h0m.5 .6h0m.2 0h0m.2-1h0m0 .6h0m3.8 .6h0m1-.9h0m.4 1.2h0m.9-.4h0m.4 .4h0m1 0h0m.8-.4h0m.4 1h0m.9-1.1h0m.6 1.6h0m.2-1.3h0m.2-1.1h0m0 0h0m.5 2.6h0m.1-.3h0m-.2 .5h0m-.4 2.4h0m-1.5-1.1h0m-.8-.9h0m0-.4h0m-.3 1h0m-.5-.7h0m-.3 .4h0m0 1.6h0m-.4-1.2h0m-.3 .3h0m-.4-1.3h0m0 .3h0m-.3 1h0m-.3-.4h0m-1 1h0m-.3 0h0m-.3-.3h0m-.1 .8h0m-.1-1.3h0m-.8-1.1h0m-.5 2.4h0m-.1-.5h0m-1.9-1.9h0m-.3 2.3h0m-.6-1.6h0m-.4 1.4h0m-1-.7h0m-.3-1.2h0m-.1 .9h0m-1.8 1.1h0m-.5-2.2h0m-1.4 2.2h0m-.1-.6h0m-.3 .4h0m0-.9h0m-.1-.9h0m-1.3 2.3h0m-.5-.5h0m-.2 .1h0m0-.3h0m-1.3-1.1h0m-.1 1.3h0m-.3-2.1h0m-.1 2.8h0m-.1-.5h0m-.6-1.9h0m-.9 2.1h0m-.3-.6h0m-.3-.8h0m0 1h0m-.8-1.1h0m-.3 1.7h0m-.5-2.1h0m-.2 1.3h0m0 .8h0m-.1-1h0m-.7-.8h0m-.6 .4h0m-.1-.6h0m0 .3h0m-2.1-.9h0m-.4-.2h0m-1.1 1h0m-1.3 .3h0m-.5 .5h0m-.8-1.8h0m-.2 1.7h0m-1 .1h0m0-1h0m-.1 1h0m-.6-1.8h0m-.1 2.4h0m-1-.7h0m-.1 .2h0m-.6-1.6h0m-.4 .4h0m0-.6h0m0 1.4h0m-.1-1.2h0m-.1 .5h0m-.3 1.2h0m0 .2h0m-15-1.5h0m-1.2-.7h0m-.1 1.7h0m-.3-.4h0m-.4 0h0m-.1 .3h0m-1.1-1.6h0m-7.5 .5h0m-1.8 1.7h0m-.1-1.2h0m-.5-.7h0m-5.9-.3h0m-6.9 .9h0m-5.3 1.3h0m10.3 3.3h0m.8-1.7h0m2.4 2h0m0-.6h0m2.7-2h0m4.7 1.7h0m6.8-.1h0m.8 .3h0m15.1-1.2h0m.6 1.4h0m.7-.9h0m.4 .1h0m.2-.3h0m.4-.3h0m.1 0h0m.2-.5h0m.1 .9h0m.5-1.2h0m12-.1h0m1.5 2.2h0m.3-1.4h0m.3 .6h0m.1 1.5h0m2-.1h0m1.3-1.8h0m0-.2h0m.3 .6h0m.3-.8h0m.2 0h0m.3 2.2h0m.3-2.3h0m.4 .1h0m.6 .6h0m1.2-1h0m.3 .6h0m1.1 1.3h0m.7-.3h0m.8-1.3h0m.4 1.4h0m.1 1h0m.7-.8h0m0-1.6h0m.7 2.3h0m.1-1.7h0m.2 1.8h0m.5-1.2h0m.4 1.1h0m.2-.8h0m.7 .9h0m.1-1.4h0m.1 .5h0m.8-.6h0m.8 1.4h0m.1-.1h0m.9-.4h0m.6-1h0m.7-1.3h0m.3 .9h0m1 .2h0m.5 .8h0m0 1h0m.2-2.5h0m.9 1.4h0m.2 .8h0m.6-1.5h0m.1-.1h0m-2.2 3h0m-.4 .4h0m-1-.9h0m-.3 2.1h0m0-1h0m0 .2h0m-1.8 .7h0m-.2-1.9h0m-.4 .2h0m-2 1.7h0m0-.5h0m-1 .5h0m-1.7 .3h0m-.4-.2h0m-.2-.2h0m-.5-1.7h0m-.4 .9h0m-.1 .8h0m-.1-.1h0m-1-.9h0m-.4 1.3h0m-.5-1h0m-.4 .4h0m-.1-.2h0m-1.1-1.4h0m-1.9 1.2h0m-1.8 1h0m-.3 .1h0m-.1-.4h0m-1.4-2.3h0m-.2 1.6h0m-32.7 1.1h0m-.2-1.2h0m-2.1-.1h0m-.4 .3h0m-.8-1.3h0m-4.1 2.2h0m-1.7-2.2h0m-1 .6h0m-1.7-.8h0m-1.2 .2h0m-1.8 1.5h0m-4.4-1.3h0m-1.8 3.1h0m5.2 1.2h0m.9-1.3h0m4.3 1.7h0m1.8-1.7h0m1.3 1.1h0m1.3 .3h0m5-.9h0m35.3-.7h0m.1-.5h0m.1 .1h0m0 1.2h0m.2-1.2h0m.2 2.2h0m.5-2.2h0m.1 2.3h0m0-1.6h0m.1-.1h0m.2 0h0m.3 .1h0m.1 .7h0m.2 .7h0m.4 .2h0m.2-1.4h0m0 1.6h0m.1 .3h0m.4-2h0m.5 .6h0m.2-.1h0m.2-1.2h0m.2 2h0m.3-.5h0m.2-1.6h0m.8 2.5h0m0-.2h0m.1-.4h0m0 0h0m1-.8h0m.2-.1h0m0 1h0m.8-.3h0m1.2-1h0m.1 .9h0m.3 1.1h0m.5-2.4h0m.7-.1h0m.2 .1h0m.5 2.4h0m.1-2.8h0m.2 2.6h0m.4-.1h0m.3-.3h0m.5-.7h0m0 .6h0m.3-.1h0m.4 .8h0m.1-.3h0m.1-.1h0m.3-.6h0m.5 .6h0m.6-.8h0m0-1.4h0m.2 0h0m.1 1.7h0m.2-.2h0m.5-1.3h0m-1.6 3.1h0m-.6 .2h0m-.3-.1h0m-.1 .5h0m-.7 .4h0m-.2-1.3h0m-3.3 2.5h0m-1.1-.8h0m-.1 .4h0m-.7-.5h0m0-.1h0m-.5 .1h0m-.1 .2h0m-.2 .3h0m-.3-.2h0m-1.6 0h0m-.5-.9h0m-.4 1.3h0m-.7-.5h0m0-1h0m-.3 .9h0m-36.2-1.9h0m-.4 1.3h0m-.7-.3h0m-1.7-.3h0m-.6 1h0m-.1-1.4h0m-.3 1.6h0m-.5 .8h0m0-1.1h0m-.2 1.3h0m-.4-1.4h0m-.1-.3h0m-.3 .8h0m-1.9 0h0m-.4-.8h0m-.3 1.7h0m-1.8-2.1h0m-.1 .6h0m-1.9-.3h0m-.8 .2h0m-.3 .8h0m-.9-1.8h0m-2.3 1.1h0m-1-.9h0m-.7 1h0m-.4 1.3h0m0-.8h0m-6.1 .6h0m-2.1 .2h0m-3.6-.1h0m-.1 .2h0m-.3-.2h0m-3.5 2.7h0m.5-.3h0m.4-.2h0m.1 .3h0m.2 .5h0m.1-1.6h0m.5 .7h0m.4 .5h0m0-.7h0m.3-1.3h0m.1 1.7h0m.4 .4h0m0-.6h0m.2-1.1h0m.8 .9h0m.3-1.3h0m.2 2.5h0m0-2.2h0m.1 1.9h0m.7 0h0m.1 0h0m.6-2.5h0m1 .2h0m.9 .4h0m1.1-.5h0m1.1 2.1h0m2.8-1.7h0m.2 2.3h0m.2-2h0m2.4-.4h0m6 1.4h0m3.3-1.8h0m.1 1.7h0m.1-.9h0m.1 .5h0m.2 .5h0m2.3-.2h0m.6-.4h0m3 .1h0m1.9-.6h0m1.1 .4h0m.7-1.1h0m36.9 .1h0m-31.4 5.5h0m-2-.2h0m-.5-1.4h0m-1.6 .4h0m-.4 1.1h0m-.6 .3h0m-1.4-1.4h0m-.4-1.4h0m-1.5 2.2h0m-1.1-.7h0m-.4 .2h0m-.6-.8h0m-3.4 1.6h0m-.3-.2h0m-1.4-.7h0m-.2 .6h0m-.1 .2h0m-1.7-1.7h0m-.4 .2h0m0 .5h0m-1-1.2h0m-.7 1.8h0m-1.4 .1h0m-2-1.9h0m-.1 0h0m-.7 1.2h0m-2 .7h0m0-1.7h0m-3.4-.1h0m-.3-.3h0m-.2 2.7h0m-.8-1.7h0m0 .6h0m-2.9 1.1h0m-.1-.8h0m-.1 .3h0m-1-2h0m-1.1 .5h0m-2.1 1.1h0m-.4 0h0m-.2-.7h0m-.2-.9h0m-1.8 1.7h0m-.4 .8h0m-.1-.5h0m-.6-.2h0m-.8 .7h0m-.2-.2h0m-.4 .4h0m-.3 2.4h0m0-2.2h0m.4 1.1h0m.2 .7h0m.1-1.4h0m1 .4h0m.3-.7h0m0 1h0m0 1.7h0m.5-1.3h0m0 1.1h0m.3-1.1h0m.2 .1h0m.9 .4h0m.3 .2h0m1.2 .2h0m.5-.5h0m.2 0h0m.1-1.2h0m.3-.6h0m1.3 1.5h0m.2 1h0m.3-1.5h0m.2 .6h0m.6-1.8h0m.4 2.2h0m.9-.7h0m0 .4h0m.2-.9h0m.4 .2h0m1.5-.3h0m.8 .5h0m.2-.9h0m1.1 1.9h0m.9-.7h0m.6-.7h0m1.3 .8h0m2.6 .9h0m.1-2.5h0m.1 2.6h0m2.2-.2h0m.1-1.2h0m5.5 .6h0m.2-.8h0m1.1 .4h0m1.2 0h0m2-.6h0m.1 1.5h0m.3 .4h0m1 0h0m.4-.8h0m.4 .5h0m3.2 .2h0m.7-1.8h0m3.8 1.8h0m1.4-1.4h0m.9 .2h0m2.9 3.2h0m-4.1-1.1h0m-1 .3h0m-.1 1.3h0m-.5-2.3h0m-.2 2.4h0m-.2-.3h0m-.7-1.1h0m-.3 .6h0m-.1-.2h0m-1 .6h0m0-1.6h0m-.7 .2h0m-.8 1.8h0m-.5-2.2h0m-.2 .1h0m-1.2 1.4h0m-.2 .4h0m-.4 .5h0m-1.4-1.5h0m-1 .7h0m-3.5-.2h0m-.8-.1h0m-.6-.6h0m-1.5 .2h0m-1.7-.1h0m-1.2-.2h0m0-.3h0m-1.4 0h0m-.4 .2h0m-1.4 1.3h0m-.8-.7h0m-.2 1.3h0m-2-1.4h0m-1.5-.6h0m0-.4h0m-.3 1.7h0m-1-1.8h0m-.1 1.8h0m0 .4h0m-.6-.8h0m0-1.4h0m-1.7 .8h0m-.2 1.1h0m-.1 .8h0m-1.8-1h0m-.9-1.6h0m-.9 .3h0m-.2 .1h0m-3.5 .4h0m-.6 1.7h0m-.2-2h0m-2.5 .9h0m0 1h0m-.5-2.4h0m-.4 2.2h0m-.1-.5h0m-.2-1.6h0m-.1 0h0m-.1 2.2h0m-.3-2.5h0m-.2 1.3h0m-.1-.6h0m-.2 2.1h0m-.2-2.5h0m-.7 1.5h0m.1 2.4h0m.5 .6h0m0-1.6h0m.4 2.2h0m.4-2h0m.1 1.3h0m.2-1.4h0m.4 2.1h0m.3 .4h0m.1-.3h0m.2-.9h0m2-1.3h0m1 .5h0m.2 .6h0m0 .8h0m.1-.5h0m.2-.9h0m0 1.5h0m0-.7h0m.2-1.3h0m1.7 .2h0m0 .9h0m.5 .3h0m.2 .8h0m.3-1.7h0m.6-.3h0m.3 .7h0m0-.5h0m.5 .6h0m.8 .3h0m.5 .7h0m1.5 .6h0m.8-1h0m.6-.8h0m2.5-1h0m.2 .9h0m0 .6h0m.6-.7h0m1.1 1.2h0m1.1-1.7h0m0-.4h0m.5 2.9h0m1.3-2.5h0m.3 0h0m.1 .3h0m1.3-.6h0m.1 .6h0m.6 .1h0m.2 1.8h0m.4 0h0m.1 .2h0m.9-1.5h0m.9 1h0m2.8-1.6h0m.3 2.2h0m1-1.4h0m1.6 .9h0m1.1-1.7h0m.1 2h0m1.6-.4h0m.1-.1h0m.4-.6h0m1.1 1.3h0m1.5-1.4h0m1.1-.7h0m1.9 1.3h0m.2 .7h0m.2-.5h0m-1 1.2h0m-.3 .3h0m0-.1h0m-1.3 .7h0m-.8 .5h0m-.1 .4h0m-.2-.7h0m-.1-.1h0m-.5-1.2h0m-.2 .2h0m-7.5 .6h0m-.5 .5h0m-3.7 .6h0m-.9-1.8h0m-2 .6h0m-.6-.3h0m-.1 1.1h0m-1.4-.8h0m-1.2-1h0m-2.2 1.2h0m-.1-1.1h0m-.1 2.6h0m-.1-.8h0m-.2 .4h0m-1.3-.7h0m-3.3 .9h0m-.5-.6h0m-.2-1.2h0m-1.3 .8h0m-2.7-1.4h0m-1.5 2.7h0m-.6-2.5h0m-.3 .8h0m0 1.4h0m-.5-1.3h0m0 .9h0m-.1 .6h0m-.2-1.5h0m-.2 .5h0m-.2-.4h0m-.4-.5h0m-.2 1.6h0m-.4-.7h0m1.9 1.7h0m.7 .8h0m.2 .3h0m.4 .2h0m.6 .7h0m.5 .2h0m.5-2.5h0m.3 1.7h0m.8-1.7h0m0 2.4h0m0-1.9h0m.2 2h0m.4-.3h0m.6-2.3h0m1.7 .8h0m.1 .3h0m.2 .2h0m.1-.6h0m.1 1.9h0m.7-2.6h0m1.5 .2h0m.5 2.3h0m.6-.3h0m.7-.8h0m.4 1.4h0m1.4-.8h0m1.6-.6h0m1.5-.2h0m2.1-1h0m.4 2.3h0m1.7-2.1h0m.7 .1h0m1.6 .8h0m.5-1h0m.4 2.6h0m.5-2.9h0m.6 0h0m.7 1.5h0m.2-.6h0m0 .8h0m.3-.5h0m.3 .3h0m1-.7h0m1.8 .1h0m-.5 2.6h0m-1 .4h0m-4.9 .6h0m-1.2 .7h0m-.8-1.5h0m-1.5 1.9h0m-.5-1.3h0m-1.1 1.3h0m-.2-.2h0m-.1-2.3h0m-.9 2.3h0m-.6 .5h0m-2.1-2.6h0m0-.1h0m-1 .8h0m-2.3 1.8h0m-.1-2.3h0m-.6 2.1h0m-.1-.5h0m-.4-1.9h0m-1 1h0m-.3-1.2h0m-2.1 1.5h0m-.2 .6h0m-.3-.6h0m-.1 .8h0m-.3 .4h0m-.1-.5h0m-.2 .3h0m-.1-1.4h0m-.2 1.4h0m0-1.2h0m0 1.3h0m-.6-.9h0m-.6-1h0m-.3 .4h0m0-.1h0m-.4 0h0m2.9 3.1h0m.1 .3h0m1.3-.2h0m.2 .5h0m1.1-.2h0m.4-1.4h0m3.2 2.6h0m.7-.2h0m.3-1.6h0m.9 1.8h0m.3-.3h0m.1-1.3h0m1.1-1.1h0m.8 1.1h0m2.2-.4h0m1.8 .2h0m3.4-.7h0m1 .1h0m-11.5 2.7h0m-1.5 1h0m-.3 .1h0m-1.2-.6h0" stroke="#5e3a9c" stroke-width="1.1" stroke-linecap="square" fill="none"/>
<path d="M341.5 430.8h0m-7.2 2.4h0m1.3 1.3h0m1.9-.9h0m.7-.4h0m.4 .9h0m2.6 .4h0m2.9 2.4h0m-1.7 .9h0m-3.5-2.8h0m-.1 1.3h0m-.9 .9h0m-3 3.7h0m2.4-1.2h0m2.7 0h0m2.8-1.5h0m4.2 1.9h0m.1 1.4h0m-5.8 .7h0m-.1-.1h0m-3.7 1.2h0m-.5-1.4h0m-.2-.4h0m-3.3 1.6h0m-2.8 2.3h0m4.1 .1h0m3.3 .9h0m6.7 .5h0m22.5 3h0m-24.8-.4h0m-.3 0h0m-.5-2.3h0m-10.1-.1h0m-1.6 2.8h0m-1.2 2.7h0m1.2-1.8h0m.7-.3h0m5.9 2.2h0m10.9-.8h0m17.2 0h0m9.6-1.4h0m.9 .1h0m1.6 .6h0m-13.2 2.5h0m-5.7 2.2h0m-13.8-1.4h0m-.9-1.5h0m-.7 1.4h0m-3.2-.1h0m-.3 1.2h0m-10.7 .7h0m.7 1.1h0m1.5-.5h0m.3-.3h0m.9-.2h0m.6 1.5h0m3.2-.9h0m21.7 1.2h0m4.9-.8h0m-5.2 3.3h0m-18.6-1.6h0m-7.2 2.5h0m-30.7-.4h0m-5.3 1.7h0m5.2 1.7h0m23.3-.1h0m8.3-1.6h0m9 2h0m50.8 2.1h0m-68.7-.5h0m-29.9 1.6h0m1.3 1.8h0m70.1-1h0m23.4 1.2h0m9.4-1.8h0m0 2.2h0m.7-2.3h0m.9 5h0m-.9-.8h0m-2.1 1h0m-6.7-2.3h0m-1.1 2.8h0m-.4-2.5h0m-48.7 1.2h0m30 1.7h0m16.9 1.2h0m1.5 .9h0m.8-1.8h0m.2 .4h0m4.2 .5h0m4.7 1h0m0-2.4h0m2 .6h0m1.3 2.7h0m-3.2 1.8h0m-2.1 0h0m-7.9-.4h0m-.8-1h0m-.3-.4h0m-36.2 3.8h0m26.3 1.3h0m2.7 .4h0m.3-.2h0m3.3-2h0m2 1.8h0m.9-1.1h0m1.8 .4h0m5-1.3h0m.9 .5h0m.7 1.4h0m2.5-2h0m3.2 .6h0m.6 1.5h0m.1 .2h0m1.2-2.2h0m.3 1h0m.2-.3h0m-.9 3.4h0m-.3 .1h0m-2.5-1.4h0m-.5 2.6h0m-1.2-.7h0m-2.4-.7h0m-1-.2h0m-.5 1.4h0m0-.7h0m-1.2-.9h0m-.8 1.9h0m-4.7-.3h0m-.8-1.7h0m-1.5 .4h0m-2 .9h0m-2.6-.5h0m-.1-1.1h0m-16.3 1.4h0m-10.5-1.5h0m-4.7 2.1h0m-12.5-.8h0m-3 .9h0m22.7 .8h0m7.4-.2h0m4.1 1.9h0m1-1.2h0m4.7-.3h0m5.3 .2h0m1.4-.7h0m1.4 .1h0m4.3 2.5h0m.7 0h0m8.5-1.6h0m2.4 1.4h0m1-.6h0m1.2-.3h0m1.1 1.1h0m0-.9h0m4-1.7h0m.1 .1h0m1.4 1h0m-2.4 2.8h0m-5.3 .3h0m-1.4 .9h0m-.2-.7h0m-1-.8h0m-6.3 1.9h0m-.2-2.5h0m-4.4 2.1h0m-3.1-2.3h0m-2.8 2.8h0m-.8-1.4h0m-.9 .8h0m-.4 0h0m-2.3-1.8h0m-22.2 1.7h0m-14.9 2.9h0m3.5 .3h0m34.2 .2h0m1.9-1.3h0m.8 .6h0m.3 .4h0m2.6-2.2h0m1.8 1.4h0m2.7 .7h0m0-1.3h0m.3 1.5h0m0-.4h0m2.6-.7h0m.1-1.1h0m1.7 2h0m1.8-1.3h0m0 1.7h0m.5 .1h0m.6 .1h0m2.2-2.7h0m.1 1.6h0m.5-.4h0m3.2 .1h0m.7 1h0m2.3-.5h0m-4.2 2.5h0m-10.2 1h0m-.3-1.1h0m-4.4 .9h0m-1.7-1.4h0m-2.1-.7h0m-10 2.8h0m-25.7-1.9h0m-9.4 1.5h0m7.6 .6h0m41.7 .9h0m3.5-.9h0m1.5 2h0m1.6-1h0m2.2 1.9h0m2.3-.9h0m1.3-.6h0m.8 .7h0m1.2-.8h0m1-1.2h0m.2 2.8h0m4.2-1.5h0m-2.5 1.9h0m-1.1 .9h0m-.1 .6h0m-.1-1.7h0m-.1 2h0m-2.1-1.2h0m-1 1.1h0m-.8-1.7h0m-.2 2h0m-2.9-.7h0m-4.8 .5h0m-3.4-.3h0m-.1-1.3h0m-49.1 1.8h0m-2.3-1.6h0m7.6 2.8h0m3.3 2.2h0m46.1-.7h0m.5-.1h0m4.8-.9h0m.5 .9h0m.8-1.1h0m.5 .5h0m.8-.5h0m-4.9 2.9h0m-3.8 0h0m-.1-.5h0m-47.9 2h0m-4.4 .7h0m-1-1h0m-2.9-1.2h0m4.8 3.2h0m12.8 1.9h0m.5-2.6h0m.2 1.4h0m1.9-1h0m-.5 2.4h0m-1.3 0h0m-.8 .5h0m-3.1 2.4h0m-3.7-1.9h0m-1.8 1.6h0m-.1-.3h0m-5.9-1h0m-7.1-.8h0m-3.8 1.2h0m-5.8 2.3h0m1.9 1.8h0m1.7-1.2h0m3.3 .8h0m1.8-.7h0m10.6-1.3h0m16.3 1.3h0m2.4-.8h0m.6 .7h0m-1.8 2.3h0m-5.4 1.7h0m-2.9-1.1h0m-1 1.1h0m-2-1.1h0m-1.8 1.3h0m-2.8-.3h0m-.7 .2h0m-2.4-1.6h0m-16.3-.6h0m-.9 4.1h0m1.7 1h0m8.2-1.3h0m5.2 .5h0m1.9-.3h0m14.9 .8h0m2.2 .4h0m0-.4h0m-7 1.1h0m-2.2 2.4h0m-.2-.5h0m-2.4 .3h0m-11.2 .1h0m-8.9-.4h0m-.7-2.1h0m9.8 3h0m1.6 2.4h0m12.7 .7h0m-1.5 1.7h0m-1.9-.9h0m-12.5 1.2h0m-7.6-2.1h0m6.7 4.5h0m.8 .6h0m6.1-.2h0m2.7-.7h0m-8.8 1.7h0" stroke="#3faa35" stroke-width="1.1" stroke-linecap="square" fill="none"/>
<path d="M321.3 485.9h0m-11.1 2.6h0m12-.4h0m.2-1.8h0m3.6 2.3h0m-1 5h0m1.7-1.2h0" stroke="#ffffff" stroke-width="1.1" stroke-linecap="square" fill="none"/>
<rect x="284.7" y="423" width="126.2" height="120.1" fill="none" stroke="#a9a9a9" stroke-width="0.7"/>
<path d="M284.7 428.2h-1.6M284.7 449.7h-1.6M284.7 471.2h-1.6M284.7 492.7h-1.6M284.7 514h-1.6M284.7 535h-1.6M300.9 543.1v1.6M324.8 543.1v1.6M348.6 543.1v1.6M372.4 543.1v1.6M396.2 543.1v1.6" stroke="#555" stroke-width="0.5" fill="none"/>
<text x="281" y="430" font-size="10" text-anchor="end" textLength="8.6" lengthAdjust="spacingAndGlyphs">15</text>
<text x="281" y="452.5" font-size="10" text-anchor="end" textLength="8.6" lengthAdjust="spacingAndGlyphs">10</text>
<text x="281" y="473.7" font-size="10" text-anchor="end" textLength="4.4" lengthAdjust="spacingAndGlyphs">5</text>
<text x="281" y="495.7" font-size="10" text-anchor="end" textLength="4.4" lengthAdjust="spacingAndGlyphs">0</text>
<text x="281" y="516.8" font-size="10" text-anchor="end" textLength="7.6" lengthAdjust="spacingAndGlyphs">-5</text>
<text x="281" y="538.4" font-size="10" text-anchor="end" textLength="11.8" lengthAdjust="spacingAndGlyphs">-10</text>
<text x="297.3" y="554.5" font-size="10" text-anchor="middle" textLength="11.8" lengthAdjust="spacingAndGlyphs">-10</text>
<text x="323.3" y="554.5" font-size="10" text-anchor="middle" textLength="7.6" lengthAdjust="spacingAndGlyphs">-5</text>
<text x="348.6" y="554.5" font-size="10" text-anchor="middle" textLength="4.4" lengthAdjust="spacingAndGlyphs">0</text>
<text x="372.3" y="554.5" font-size="10" text-anchor="middle" textLength="4.4" lengthAdjust="spacingAndGlyphs">5</text>
<text x="392.8" y="554.5" font-size="10" text-anchor="middle" textLength="11.8" lengthAdjust="spacingAndGlyphs">-10</text>
<circle cx="419.7" cy="442.6" r="2.7" fill="#3f80ba"/>
<text x="426" y="446" font-size="10" textLength="38" lengthAdjust="spacingAndGlyphs">3-4 weeks</text>
<circle cx="419.7" cy="454.6" r="2.7" fill="#3faa35"/>
<text x="426" y="458" font-size="10" textLength="31" lengthAdjust="spacingAndGlyphs">6 weeks</text>
<circle cx="419.7" cy="466.6" r="2.7" fill="#e5262a"/>
<text x="426" y="470" font-size="10" textLength="38" lengthAdjust="spacingAndGlyphs">6-8 weeks</text>
<circle cx="419.7" cy="478.6" r="2.7" fill="#f58422"/>
<text x="426" y="482" font-size="10" textLength="42.7" lengthAdjust="spacingAndGlyphs">8-10 weeks</text>
<circle cx="419.7" cy="490.6" r="2.7" fill="#5e3a9c"/>
<text x="426" y="494" font-size="10" textLength="42.7" lengthAdjust="spacingAndGlyphs">8-20 weeks</text>
<circle cx="419.7" cy="502.7" r="2.7" fill="#b15e2c"/>
<text x="426" y="506.1" font-size="10" textLength="27.5" lengthAdjust="spacingAndGlyphs">P42-56</text>
<circle cx="419.7" cy="514.7" r="2.7" fill="#a9d3e6"/>
<text x="426" y="518.1" font-size="10" textLength="20" lengthAdjust="spacingAndGlyphs">P100</text>
<rect x="497.1" y="391.3" width="105.3" height="24.4" rx="5" fill="#fdfdf7" stroke="#a8a8a8" stroke-width="0.55" stroke-dasharray="3.4 0.7"/>
<text x="550" y="408.2" font-size="12.3" text-anchor="middle" textLength="17.5" lengthAdjust="spacingAndGlyphs">Sex</text>
<rect x="488.3" y="420.7" width="126.2" height="120.8" fill="#fff"/>
<path d="M488.3 426.1H614.5M488.3 447.5H614.5M488.3 468.9H614.5M488.3 490.4H614.5M488.3 511.8H614.5M488.3 533.2H614.5M505.3 420.7V541.5M529.2 420.7V541.5M553.1 420.7V541.5M577 420.7V541.5M600.9 420.7V541.5" stroke="#ececec" stroke-width="0.6" fill="none"/>
<path d="M488.3 436.8H614.5M488.3 458.2H614.5M488.3 479.7H614.5M488.3 501.1H614.5M488.3 522.5H614.5M493.4 420.7V541.5M517.2 420.7V541.5M541.2 420.7V541.5M565.1 420.7V541.5M589 420.7V541.5M612.9 420.7V541.5" stroke="#f3f3f3" stroke-width="0.4" fill="none"/>
<path d="M510.4 485.6 511.4 484.4 512.6 483.5 513.5 482.4 514.8 481.8 516.1 481.2 517.2 480.2 518.8 480.1 520.3 479.9 521.9 479.7 523.2 478.6 524.8 478.4 526.4 478.4 527.9 479.3 529.5 479.3 530.8 478.8 532.5 479.2 533.7 478.6 534.6 477.7 535.5 478.6 536.7 479.2 537.7 480.1 538.2 481.7 539.6 482.7 540.4 484 541.1 485.2 543 485 544.8 485.5 545.4 484.2 546.4 483.1 546.7 481.7 547.5 480.5 548.3 479.3 549.3 478.2 550.1 477 550.9 475.7 552.4 475.8 553.2 475.3 554.7 475.4 556.2 475.5 557.9 475.4 558.7 476.4 559.5 477.5 560.4 478.3 561.2 479.9 562.7 480.7 563.8 482.2 565.6 482.2 567 483.4 568.9 483.8 570.2 482.6 571.8 482.5 573.5 483 574.9 482.2 576.7 482.4 577.6 481.1 578.6 480.1 580.2 480 581.5 479.4 582.4 478.3 583.6 477 585 476.2 586.8 475.6 587.6 474.2 588.2 472.5 589.3 471.4 589.6 470.1 590 468.8 591.2 467.7 591.1 466.2 592.2 465.2 592.9 463.9 593.4 462.6 594.4 461.8 596.2 461.7 597.5 462.7 599.2 463.3 600.2 464.6 601.7 465.6 602.4 466.7 602.5 468.2 603.5 469.2 604.7 470.1 604.8 471.6 606.1 472.6 606.5 473.9 606.7 475.4 607.2 476.6 608.1 477.7 607.5 479.2 608.7 480.3 608.9 481.6 608.6 483.1 609.3 484.4 609.5 485.8 609.7 487.3 609.6 488.9 608.7 490.3 608.7 492 607.9 493.5 607.8 495.2 607.1 496.4 605.9 497.5 605.8 499 605.1 500.3 604.2 501.3 603.7 502.9 602.6 504 600.9 504.6 600 505.7 599 506.8 597.7 507.4 596.2 507.4 595 507.6 593.5 508.6 591.8 507.9 590.4 508.2 589.2 507.6 588 506.9 586.6 506.2 585.9 504.9 586.2 503.2 584.9 502.3 584.7 500.6 583.6 499.3 583.5 497.5 582.3 496.4 581 495.3 580.2 494.2 578.5 494 577.1 495 575.6 495.2 574.1 495.3 572.4 495.5 571.3 496.6 570.3 497.7 568.7 497.9 567.6 499 565.6 499 566.2 496.9 567.6 496.2 568.6 495 569.8 494.7 569.4 493.6 568.9 492.6 569.8 491.3 571.2 490.6 572.6 490 573.4 488.3 571.7 488.3 570.1 488 568.5 488.5 566.9 489.4 565.3 489.9 564.1 490.4 562.4 490 561.3 490.6 559.9 490.9 558.9 492.5 557.1 492.5 555.8 493.3 554.3 494.4 553.5 495.9 552.4 497.2 553.1 498.9 552.3 500.2 552.2 501.8 552.1 503.3 552.4 504.9 553.3 506.3 554 507.8 554.8 509.5 556.4 510.2 557.2 511.5 558.1 512.8 559.2 514 560.8 514.6 561.8 516 562.8 516.9 563.3 518.1 563.5 519.3 562.5 520.3 561.2 521 560.1 521.7 559 522.8 557.6 522.7 556.2 522.8 554.9 523.5 553.7 524.7 552.7 526 551.1 526.8 550.3 528 549.5 529.1 548.4 529.8 547.5 531.2 545.9 531.2 545.1 532.5 543.6 532.6 542 533.2 540.5 533.9 538.8 533.9 537.3 534.6 535.7 535 534 535.1 532.7 536.3 531 537 529.2 536.7 527.5 536.3 525.8 535.6 524.5 534.6 524.2 533 523.1 532.1 522 531.2 521.4 529.9 520 529.2 519.3 527.8 518 527 517.2 525.8 516.5 524.4 515.5 523.3 514.6 522.5 513.9 521 513.9 519.4 514.2 517.8 514.5 516.3 515.4 514.9 516.5 514 517.3 512.9 518 511.7 518.9 510.8 519.4 509.3 520.4 508.1 521.7 507.3 523 506.6 524.5 506.1 526 505.9 527.2 505.4 528.2 504.7 529 504.1 528.9 502.8 528.4 501.7 527.3 500.9 525.8 500.6 524.6 500 523.7 498.6 522 498.7 521.2 497.3 519.9 496.6 518.4 496 517.8 494.6 516.1 494.1 515.1 492.9 514.4 491.4 512.9 490.4 512.7 488.6 511.4 487.9 510.7 486.9ZM542.3 425.4 543.5 425.7 544.7 426.4 546.1 426.2 547 427.5 547.9 428.8 549.2 429.9 549.8 431.4 550.2 432.8 550.5 434.2 551.8 435.4 552.1 436.8 552.8 438.3 552 439.8 552.1 441.4 552.9 442.9 551.8 444.5 551.8 445.8 551.8 447.2 551.5 448.5 551.6 449.9 551.4 451.2 550.4 452.3 549.8 453.9 548.6 455.1 547.4 456.4 546.3 457 544.9 457 543.6 457.5 542.2 457.7 541.1 458.7 540.3 459.7 539.8 460.9 539.1 461.8 538 463.2 536.6 464.6 535.6 463.6 534.7 463.9 534.7 462.6 534.7 461.3 534.4 459.9 534.5 458.8 533.6 457.2 532.8 456 531.8 454.9 530.3 454.9 530.8 453.3 530.3 451.7 531.6 450.4 532.1 448.9 531.8 447.2 532.3 446 533.4 444.9 533.2 443.5 534.1 442.2 533.6 440.6 533.4 439 534.1 437.5 534.5 436 534.4 434.5 534.7 433.1 535.5 431.9 536.7 430.9 536.9 429.6 537.4 428.1 538.5 427.1 539.6 425.8 540.9 425.4ZM492.3 462.5 493.2 461.7 494.4 461 494.8 459.7 496.5 459.2 498.2 458.7 499.7 457.7 501.4 457.9 503.1 457.8 504.6 457.7 506.1 458 507 459 508.4 460 507.6 461.6 507.8 463 507.2 464.4 505.5 464.5 504.3 465.5 504 466.9 503.4 468.2 503.2 469.8 502.4 470.9 501.1 471.5 499.2 470.9 497.7 469.8 496.5 468.7 495.1 467.8 494.1 466.4 493.5 465.1 493.3 463.7ZM513.5 447.3 514.8 446.7 515.7 446.3 517.2 446.9 518.3 447.9 518.3 449.2 518.8 450.4 518.6 451.7 519 453.3 519.5 454.8 520.8 456 521.4 457.4 522.4 458.5 522.7 460.3 524.3 460.9 526.1 460.9 526.8 462 526.8 463.2 527.2 464.3 526.2 465.2 525.5 466.4 524.6 467.3 523.2 468.2 522.8 469.7 522.2 470.9 521.8 472.1 521.5 473.7 519.9 474.6 518.5 475.9 517.6 475.4 518.1 473.8 518.9 472.4 519.6 470.9 519.6 469.2 519.1 467.6 517.8 467.2 517.2 466.3 517.1 464.9 516.7 463.5 516.4 462 515.9 460.5 516.4 459.4 517.1 458.4 517.5 457.6 517.8 455.9 517 454.5 516.9 452.6 515.3 452.1 514.7 451 514.3 449.8 513.2 448.7ZM540.4 468.3 541.6 468.4 542.4 468.3 542.9 469.9 542.9 471.5 541.8 472.7 541.1 474.2 539.8 475.3 538.6 476.5 537.4 477.7 536.6 479.6 535.3 479.1 533.7 478.4 535.3 477.5 536.2 476 536.6 474.3 538.2 473.5 538.9 472.3 539.2 470.9 539.8 469.6ZM544.2 461.9 545.8 462.3 547 462.9 548.4 463.6 549.4 464.7 550.4 465.8 551.5 466.7 552 468 552.7 469.1 553.3 470.3 554.6 471.3 555 472.6 555.5 474.5 553.9 474.2 552.9 472.8 551.4 471.8 551.5 469.8 550.4 468.6 549.1 467.5 548 466.3 546.6 465.8 545.5 465.1 544.8 463.8ZM557 451.1 558.3 450.7 559.7 450.6 560.7 449.6 562 449.2 563.5 448.8 564.8 448 566.3 447.9 567.9 448.4 569.8 448.7 569.7 447.2 570.8 446.1 572.1 446 573 446.7 573.7 448 574.2 448.8 576.1 448.7 577 447.8 578.4 447.6 579.7 447.6 581.5 447.4 582.1 448.5 582 449.9 582.9 450.9 583.6 452.5 584.4 454.5 583 455.4 581.4 455.5 579.9 456 578.6 456.3 577.7 455.3 577.3 454.1 576.6 453.1 575.3 452.7 573.9 452.7 572.8 453.8 571 454.1 569.9 455 568.7 455.8 567.5 456.6 566.5 457.6 565.3 458.6 564.1 459.6 563 460.8 561.6 461.4 560.5 460.7 560.2 459.6 559.3 458 559.5 456.5 560.3 455.1 560.6 454.2 559.4 453.4 558.6 452.4ZM560.8 465.3 562.2 465.4 563.7 465.8 565.1 465.3 566.6 465.9 568 466.5 569.8 466.7 570.6 468 571.5 469.2 572.4 470.3 573.8 471.2 574.4 472.6 575.4 473.8 575.9 475.6 577.1 475.2 578.5 474.2 579.6 475.7 580.9 475.7 580.6 477.4 580 478.9 579 480 577.2 480.7 576.7 479.4 575.4 478.7 574.7 477.5 574 476.4 573 475.4 572.6 474.1 571.8 473 571.3 471.7 570.2 470.8 568.9 470.3 567.6 470 566.4 469.4 565.1 468.9 563.7 468.4 563.1 467.3 562.2 466.1ZM500.3 500.6 501.7 500 502.8 499.8 504.3 499.4 505.8 499.6 505.4 500.8 504 501.8 502.3 502.2 501.4 501.3Z" fill="#4583b8" stroke="#4583b8" stroke-width="0.7" stroke-linejoin="round"/>
<path d="M531.1 495.4h0.6v0.5h-0.6zM533.7 495.5h0.8v0.6h-0.8zM531.4 495.9h0.6v0.5h-0.6zM528.1 495.8h1.3v1h-1.3zM530.2 494.9h0.6v0.5h-0.6zM532.4 494.4h0.8v0.6h-0.8zM534.6 495.5h0.8v0.6h-0.8zM532.8 493.4h1.3v1h-1.3zM525.2 493.2h0.6v0.5h-0.6zM526.1 493.8h0.8v0.6h-0.8zM534.1 494.1h0.8v0.6h-0.8zM530.1 495.2h0.8v0.6h-0.8zM525.8 496.1h0.8v0.6h-0.8zM535.2 495.9h1v0.8h-1zM539.5 489.2h0.6v0.5h-0.6zM540.2 488.8h1v0.8h-1zM541.3 489.9h1v0.8h-1zM540.5 488.7h0.8v0.6h-0.8zM540.9 488.8h0.8v0.6h-0.8zM540.9 488.2h0.8v0.6h-0.8zM533.7 501.3h1v0.8h-1zM531.7 502.3h1v0.8h-1zM533.1 502.2h1v0.8h-1zM533.2 502.4h1v0.8h-1zM531.1 503.6h0.6v0.5h-0.6z" fill="#fff"/>
<path d="M544.8 430.7h0m-3.7 .7h0m7.2 8.4h0m3.3 1.7h0m-2.3 9.7h0m51.6 14.9h0m-5.2-.2h0m-.2 .8h0m-73.1 .5h0m-18.6-1.4h0m90.5 5h0m.7-2.6h0m9.1 4.9h0m-11.7 1.5h0m12.1 4.6h0m-1.3-.9h0m-3.2 1.3h0m-2.4-.2h0m-3.9-1.2h0m-8-1.1h0m-2.2 .7h0m-3.9-.3h0m-.4 .1h0m-3.6 .1h0m6.4 2.7h0m2.9-.3h0m12.7 .2h0m10.8 5.1h0m-4.1-.9h0m-1.3-1.5h0m-6.6 .7h0m-12.8 1.4h0m-9.1 .1h0m-38.5-.6h0m-11 1.3h0m-3.7 .8h0m45.2-.5h0m13.5 1.1h0m11.8 1h0m12.8 2.9h0m-1-2.1h0m-15.9 .8h0m-2.2 .1h0m-.6 1.8h0m-4-.4h0m-4.9 1.1h0m8.1 1.8h0m1.2-1.5h0m4.8-.1h0m17.6 .4h0m-11.9 3.5h0m-2-1.2h0m-1.3 .1h0m-4.1 2h0m-4.3 .8h0m5.2 2.2h0m1-.9h0m1.6 1.3h0m6-2.7h0m2.3 1.8h0m4.3-2h0m-8.6 4.8h0m-7-.2h0m-2.6-.6h0m-51.2 3.3h0m53.2-.7h0m6 .2h0m-50.7 5.1h0m-11-.1h0m-2.1-1.6h0m-1 3h0m8.1 1.4h0m1.8-2.6h0m16 1.8h0m2.4 .2h0m-39.7 2.9h0m22.3 3.4h0m9.5-2h0m13.5 2.8h0m-2.7 1.9h0m-31.2 .9h0m-11 .5h0m10.9 2h0m8.9-.1h0m-16.2 .7h0m21.6 5.4h0m-3.3 1.1h0m-4.2 1.3h0m-2.1-1.8h0" stroke="#d02c3a" stroke-width="1.3" stroke-linecap="square" fill="none"/>
<path d="M503.1 459.3h0" stroke="#3faa35" stroke-width="1.3" stroke-linecap="square" fill="none"/>
<rect x="488.3" y="420.7" width="126.2" height="120.8" fill="none" stroke="#a9a9a9" stroke-width="0.7"/>
<path d="M488.3 426.1h-1.6M488.3 447.6h-1.6M488.3 469h-1.6M488.3 490.4h-1.6M488.3 511.9h-1.6M488.3 533.2h-1.6M505.3 541.5v1.6M529.2 541.5v1.6M553.1 541.5v1.6M577 541.5v1.6M600.9 541.5v1.6" stroke="#555" stroke-width="0.5" fill="none"/>
<text x="486.6" y="429.6" font-size="10" text-anchor="end" textLength="8.6" lengthAdjust="spacingAndGlyphs">15</text>
<text x="486.6" y="451.1" font-size="10" text-anchor="end" textLength="8.6" lengthAdjust="spacingAndGlyphs">10</text>
<text x="486.6" y="472.5" font-size="10" text-anchor="end" textLength="4.4" lengthAdjust="spacingAndGlyphs">5</text>
<text x="486.6" y="493.9" font-size="10" text-anchor="end" textLength="4.4" lengthAdjust="spacingAndGlyphs">0</text>
<text x="486.6" y="515.4" font-size="10" text-anchor="end" textLength="7.6" lengthAdjust="spacingAndGlyphs">-5</text>
<text x="486.6" y="536.7" font-size="10" text-anchor="end" textLength="11.8" lengthAdjust="spacingAndGlyphs">-10</text>
<text x="500.9" y="552.9" font-size="10" text-anchor="middle" textLength="11.8" lengthAdjust="spacingAndGlyphs">-10</text>
<text x="527.2" y="552.9" font-size="10" text-anchor="middle" textLength="7.6" lengthAdjust="spacingAndGlyphs">-5</text>
<text x="553.1" y="552.9" font-size="10" text-anchor="middle" textLength="4.4" lengthAdjust="spacingAndGlyphs">0</text>
<text x="576.2" y="552.9" font-size="10" text-anchor="middle" textLength="4.4" lengthAdjust="spacingAndGlyphs">5</text>
<text x="596.8" y="552.9" font-size="10" text-anchor="middle" textLength="11.8" lengthAdjust="spacingAndGlyphs">-10</text>
<circle cx="620.8" cy="460.3" r="3" fill="#3f80ba"/>
<text x="627.4" y="463.7" font-size="10" textLength="13.6" lengthAdjust="spacingAndGlyphs">N/A</text>
<circle cx="620.8" cy="472.6" r="3" fill="#3faa35"/>
<text x="627.4" y="476" font-size="10" textLength="27.9" lengthAdjust="spacingAndGlyphs">Female</text>
<circle cx="620.8" cy="484.9" r="3" fill="#e5262a"/>
<text x="627.4" y="488.3" font-size="10" textLength="17.7" lengthAdjust="spacingAndGlyphs">Male</text>
</svg>
</body></html>
